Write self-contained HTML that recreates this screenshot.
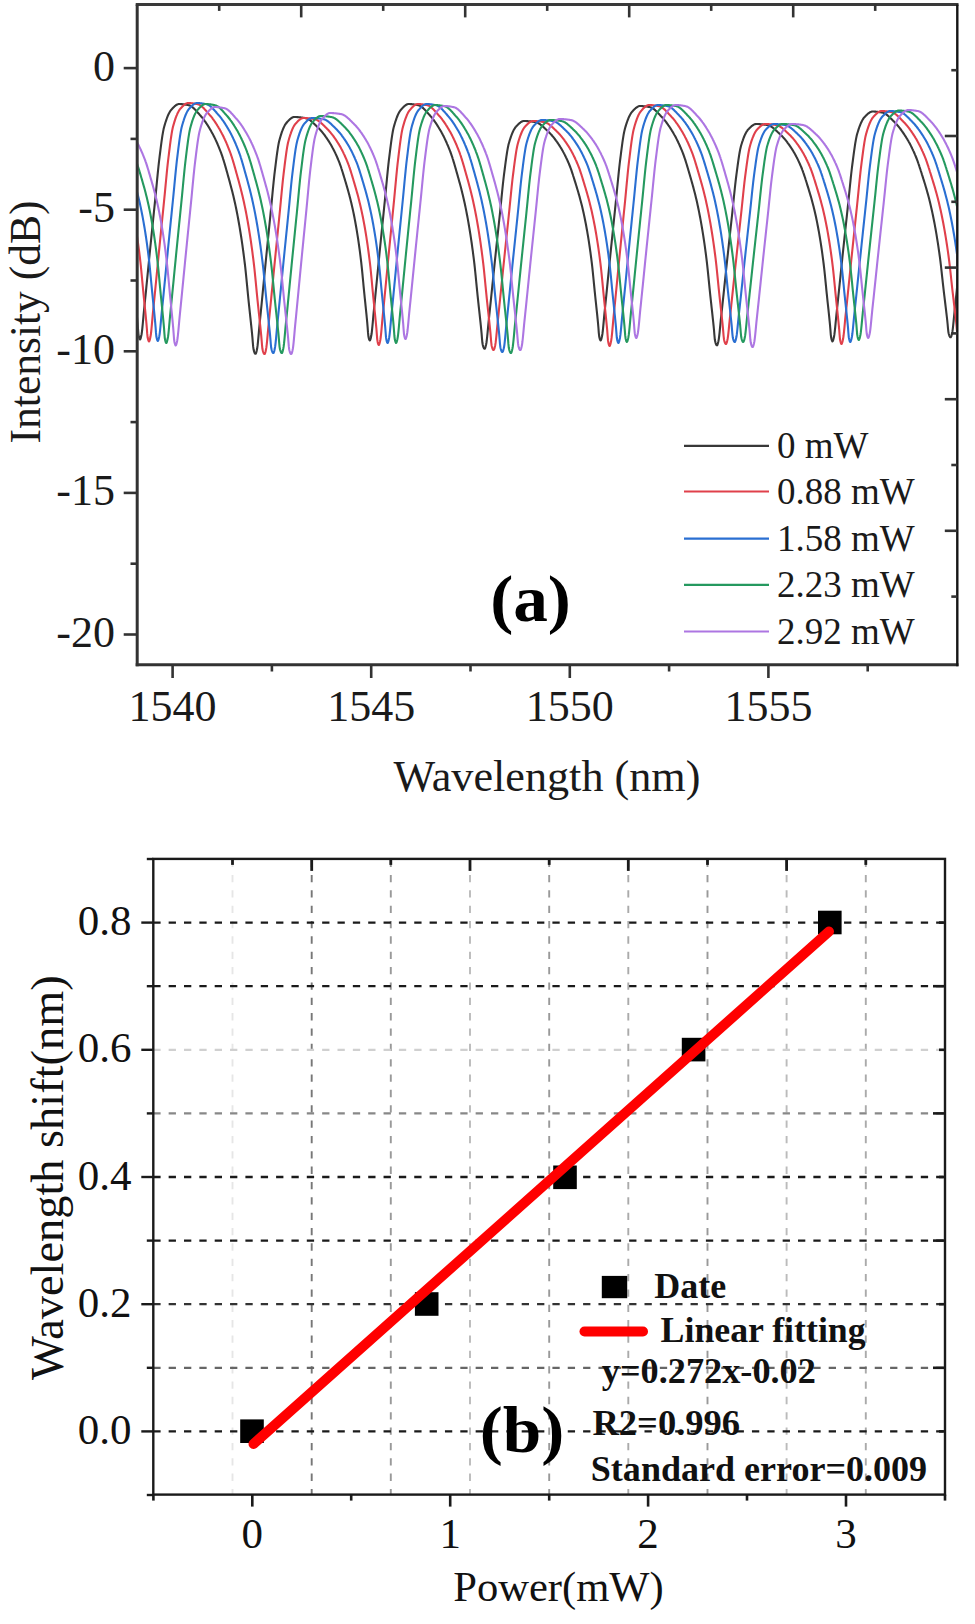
<!DOCTYPE html>
<html><head><meta charset="utf-8"><style>
html,body{margin:0;padding:0;background:#fff;}
body{width:975px;height:1624px;overflow:hidden;}
</style></head><body>
<svg width="975" height="1624" viewBox="0 0 975 1624" style="display:block">
<rect x="0" y="0" width="975" height="1624" fill="#fff"/>
<defs><clipPath id="ca"><rect x="138.2" y="4.4" width="818.1" height="660.3"/></clipPath></defs>
<g clip-path="url(#ca)" fill="none" stroke-width="2.1" stroke-linejoin="round">
<path d="M135.2 299.1 L135.6 303.0 L136.0 306.9 L136.4 310.9 L136.8 314.9 L137.2 319.1 L137.6 323.4 L138.0 328.8 L138.4 333.8 L138.8 336.3 L139.2 337.9 L139.6 339.1 L140.0 339.5 L140.4 339.0 L140.8 337.8 L141.2 336.1 L141.6 334.2 L142.0 331.3 L142.4 327.7 L142.8 323.5 L143.2 319.1 L143.6 314.7 L144.0 310.5 L144.4 306.6 L144.8 302.7 L145.2 298.7 L145.6 294.8 L146.0 290.8 L146.4 286.7 L146.8 282.7 L147.2 278.7 L147.6 274.6 L148.0 270.6 L148.4 266.6 L148.8 262.5 L149.2 258.5 L149.6 254.5 L150.0 250.5 L150.4 246.5 L150.8 242.6 L151.2 238.6 L151.6 234.7 L152.0 230.8 L152.4 226.9 L152.8 223.0 L153.2 219.0 L153.6 215.1 L154.0 211.2 L154.4 207.3 L154.8 203.4 L155.2 199.5 L155.6 195.5 L156.0 191.4 L156.4 187.3 L156.8 183.1 L157.2 178.9 L157.6 174.8 L158.0 170.9 L158.4 167.0 L158.8 163.4 L159.2 160.0 L159.6 156.7 L160.0 153.5 L160.4 150.3 L160.8 147.2 L161.2 144.1 L161.6 141.2 L162.0 138.4 L162.4 135.7 L162.8 133.3 L163.2 131.1 L163.6 129.1 L164.0 127.5 L164.4 126.0 L164.8 124.6 L165.2 123.3 L165.6 122.0 L166.0 120.8 L166.4 119.6 L166.8 118.5 L167.2 117.4 L167.6 116.4 L168.0 115.4 L168.4 114.5 L168.8 113.7 L169.2 112.9 L169.6 112.2 L170.0 111.5 L170.4 110.9 L170.8 110.4 L171.2 109.9 L171.6 109.4 L172.0 109.0 L172.4 108.6 L172.8 108.1 L173.2 107.7 L173.6 107.3 L174.0 106.9 L174.4 106.5 L174.8 106.2 L175.2 105.8 L175.6 105.5 L176.0 105.2 L176.4 105.0 L176.8 104.7 L177.2 104.5 L177.6 104.4 L178.0 104.2 L178.4 104.1 L178.8 104.0 L179.2 104.0 L179.6 104.0 L180.0 104.0 L180.4 104.0 L180.8 104.1 L181.2 104.1 L181.6 104.1 L182.0 104.1 L182.4 104.2 L182.8 104.2 L183.2 104.3 L183.6 104.3 L184.0 104.4 L184.4 104.4 L184.8 104.5 L185.2 104.6 L185.6 104.6 L186.0 104.7 L186.4 104.8 L186.8 104.8 L187.2 104.9 L187.6 105.0 L188.0 105.1 L188.4 105.2 L188.8 105.2 L189.2 105.3 L189.6 105.5 L190.0 105.6 L190.4 105.8 L190.8 106.0 L191.2 106.3 L191.6 106.5 L192.0 106.8 L192.4 107.1 L192.8 107.4 L193.2 107.8 L193.6 108.1 L194.0 108.5 L194.4 108.9 L194.8 109.3 L195.2 109.7 L195.6 110.1 L196.0 110.6 L196.4 111.0 L196.8 111.4 L197.2 111.9 L197.6 112.3 L198.0 112.8 L198.4 113.3 L198.8 113.7 L199.2 114.2 L199.6 114.7 L200.0 115.1 L200.4 115.6 L200.8 116.0 L201.2 116.5 L201.6 116.9 L202.0 117.4 L202.4 117.9 L202.8 118.4 L203.2 118.9 L203.6 119.4 L204.0 120.0 L204.4 120.5 L204.8 121.1 L205.2 121.6 L205.6 122.2 L206.0 122.8 L206.4 123.4 L206.8 124.0 L207.2 124.6 L207.6 125.2 L208.0 125.9 L208.4 126.5 L208.8 127.2 L209.2 127.8 L209.6 128.5 L210.0 129.2 L210.4 129.9 L210.8 130.5 L211.2 131.2 L211.6 132.0 L212.0 132.7 L212.4 133.4 L212.8 134.1 L213.2 134.9 L213.6 135.7 L214.0 136.5 L214.4 137.3 L214.8 138.1 L215.2 138.9 L215.6 139.8 L216.0 140.6 L216.4 141.5 L216.8 142.4 L217.2 143.3 L217.6 144.2 L218.0 145.2 L218.4 146.1 L218.8 147.1 L219.2 148.1 L219.6 149.1 L220.0 150.1 L220.4 151.1 L220.8 152.1 L221.2 153.2 L221.6 154.3 L222.0 155.4 L222.4 156.6 L222.8 157.8 L223.2 159.1 L223.6 160.3 L224.0 161.7 L224.4 163.0 L224.8 164.4 L225.2 165.7 L225.6 167.1 L226.0 168.5 L226.4 170.0 L226.8 171.4 L227.2 172.8 L227.6 174.3 L228.0 175.7 L228.4 177.1 L228.8 178.5 L229.2 180.0 L229.6 181.4 L230.0 182.9 L230.4 184.4 L230.8 185.9 L231.2 187.4 L231.6 188.9 L232.0 190.5 L232.4 192.1 L232.8 193.7 L233.2 195.3 L233.6 197.0 L234.0 198.7 L234.4 200.4 L234.8 202.2 L235.2 204.0 L235.6 205.9 L236.0 207.8 L236.4 209.8 L236.8 211.8 L237.2 213.8 L237.6 215.9 L238.0 218.0 L238.4 220.2 L238.8 222.5 L239.2 224.8 L239.6 227.1 L240.0 229.5 L240.4 232.0 L240.8 234.5 L241.2 237.0 L241.6 239.7 L242.0 242.4 L242.4 245.2 L242.8 248.1 L243.2 251.0 L243.6 254.0 L244.0 257.1 L244.4 260.3 L244.8 263.5 L245.2 266.9 L245.6 270.6 L246.0 274.5 L246.4 278.5 L246.8 282.6 L247.2 286.7 L247.6 290.9 L248.0 295.0 L248.4 299.0 L248.8 302.8 L249.2 306.6 L249.6 310.4 L250.0 314.1 L250.4 317.9 L250.8 321.6 L251.2 325.4 L251.6 329.2 L252.0 333.2 L252.4 337.3 L252.8 342.3 L253.2 346.9 L253.6 349.6 L254.0 351.2 L254.4 352.4 L254.8 353.3 L255.2 353.7 L255.6 353.8 L256.0 353.3 L256.4 352.0 L256.8 350.3 L257.2 348.3 L257.6 345.4 L258.0 341.6 L258.4 337.4 L258.8 332.8 L259.2 328.4 L259.6 324.2 L260.0 320.2 L260.4 316.2 L260.8 312.2 L261.2 308.1 L261.6 304.1 L262.0 300.0 L262.4 295.9 L262.8 291.7 L263.2 287.6 L263.6 283.5 L264.0 279.4 L264.4 275.3 L264.8 271.2 L265.2 267.1 L265.6 263.1 L266.0 259.0 L266.4 255.0 L266.8 251.0 L267.2 247.0 L267.6 243.0 L268.0 239.0 L268.4 235.1 L268.8 231.1 L269.2 227.1 L269.6 223.1 L270.0 219.2 L270.4 215.2 L270.8 211.2 L271.2 207.1 L271.6 202.9 L272.0 198.6 L272.4 194.4 L272.8 190.2 L273.2 186.1 L273.6 182.1 L274.0 178.3 L274.4 174.7 L274.8 171.4 L275.2 168.1 L275.6 164.8 L276.0 161.6 L276.4 158.5 L276.8 155.4 L277.2 152.5 L277.6 149.8 L278.0 147.2 L278.4 144.9 L278.8 142.8 L279.2 141.0 L279.6 139.5 L280.0 138.1 L280.4 136.7 L280.8 135.4 L281.2 134.1 L281.6 132.9 L282.0 131.7 L282.4 130.7 L282.8 129.6 L283.2 128.6 L283.6 127.7 L284.0 126.9 L284.4 126.1 L284.8 125.3 L285.2 124.6 L285.6 124.0 L286.0 123.5 L286.4 123.0 L286.8 122.5 L287.2 122.0 L287.6 121.6 L288.0 121.2 L288.4 120.7 L288.8 120.3 L289.2 119.9 L289.6 119.5 L290.0 119.2 L290.4 118.8 L290.8 118.5 L291.2 118.2 L291.6 118.0 L292.0 117.7 L292.4 117.5 L292.8 117.3 L293.2 117.2 L293.6 117.1 L294.0 117.0 L294.4 117.0 L294.8 117.0 L295.2 117.0 L295.6 117.0 L296.0 117.0 L296.4 117.0 L296.8 117.1 L297.2 117.1 L297.6 117.1 L298.0 117.1 L298.4 117.2 L298.8 117.2 L299.2 117.2 L299.6 117.3 L300.0 117.3 L300.4 117.4 L300.8 117.4 L301.2 117.5 L301.6 117.5 L302.0 117.6 L302.4 117.6 L302.8 117.7 L303.2 117.7 L303.6 117.8 L304.0 117.9 L304.4 117.9 L304.8 118.0 L305.2 118.1 L305.6 118.1 L306.0 118.2 L306.4 118.3 L306.8 118.5 L307.2 118.6 L307.6 118.8 L308.0 119.0 L308.4 119.2 L308.8 119.4 L309.2 119.7 L309.6 119.9 L310.0 120.2 L310.4 120.5 L310.8 120.8 L311.2 121.1 L311.6 121.5 L312.0 121.8 L312.4 122.2 L312.8 122.5 L313.2 122.9 L313.6 123.3 L314.0 123.6 L314.4 124.0 L314.8 124.4 L315.2 124.8 L315.6 125.2 L316.0 125.6 L316.4 126.0 L316.8 126.4 L317.2 126.8 L317.6 127.2 L318.0 127.6 L318.4 127.9 L318.8 128.3 L319.2 128.7 L319.6 129.2 L320.0 129.6 L320.4 130.0 L320.8 130.5 L321.2 130.9 L321.6 131.4 L322.0 131.9 L322.4 132.4 L322.8 132.9 L323.2 133.4 L323.6 133.9 L324.0 134.4 L324.4 134.9 L324.8 135.5 L325.2 136.0 L325.6 136.6 L326.0 137.1 L326.4 137.7 L326.8 138.3 L327.2 138.9 L327.6 139.5 L328.0 140.1 L328.4 140.7 L328.8 141.3 L329.2 141.9 L329.6 142.6 L330.0 143.2 L330.4 143.9 L330.8 144.6 L331.2 145.3 L331.6 146.0 L332.0 146.7 L332.4 147.4 L332.8 148.2 L333.2 148.9 L333.6 149.7 L334.0 150.5 L334.4 151.3 L334.8 152.1 L335.2 152.9 L335.6 153.8 L336.0 154.6 L336.4 155.5 L336.8 156.4 L337.2 157.3 L337.6 158.3 L338.0 159.2 L338.4 160.2 L338.8 161.1 L339.2 162.1 L339.6 163.2 L340.0 164.3 L340.4 165.4 L340.8 166.5 L341.2 167.7 L341.6 169.0 L342.0 170.2 L342.4 171.5 L342.8 172.8 L343.2 174.1 L343.6 175.4 L344.0 176.7 L344.4 178.0 L344.8 179.4 L345.2 180.7 L345.6 182.0 L346.0 183.4 L346.4 184.7 L346.8 186.1 L347.2 187.5 L347.6 188.9 L348.0 190.3 L348.4 191.7 L348.8 193.2 L349.2 194.6 L349.6 196.2 L350.0 197.7 L350.4 199.3 L350.8 200.9 L351.2 202.5 L351.6 204.2 L352.0 205.9 L352.4 207.7 L352.8 209.5 L353.2 211.4 L353.6 213.3 L354.0 215.3 L354.4 217.3 L354.8 219.4 L355.2 221.5 L355.6 223.7 L356.0 226.0 L356.4 228.3 L356.8 230.7 L357.2 233.1 L357.6 235.6 L358.0 238.2 L358.4 240.9 L358.8 243.6 L359.2 246.5 L359.6 249.4 L360.0 252.4 L360.4 255.6 L360.8 258.8 L361.2 262.1 L361.6 265.8 L362.0 269.6 L362.4 273.7 L362.8 277.8 L363.2 282.0 L363.6 286.3 L364.0 290.4 L364.4 294.4 L364.8 298.3 L365.2 302.2 L365.6 306.1 L366.0 310.0 L366.4 313.9 L366.8 318.0 L367.2 322.2 L367.6 326.8 L368.0 332.4 L368.4 336.3 L368.8 338.2 L369.2 339.6 L369.6 340.4 L370.0 340.4 L370.4 339.4 L370.8 337.9 L371.2 336.1 L371.6 333.8 L372.0 330.4 L372.4 326.4 L372.8 322.1 L373.2 317.5 L373.6 313.2 L374.0 309.2 L374.4 305.2 L374.8 301.3 L375.2 297.2 L375.6 293.2 L376.0 289.2 L376.4 285.1 L376.8 281.0 L377.2 276.9 L377.6 272.8 L378.0 268.8 L378.4 264.7 L378.8 260.6 L379.2 256.6 L379.6 252.5 L380.0 248.5 L380.4 244.5 L380.8 240.5 L381.2 236.5 L381.6 232.6 L382.0 228.6 L382.4 224.7 L382.8 220.7 L383.2 216.8 L383.6 212.8 L384.0 208.9 L384.4 204.9 L384.8 201.0 L385.2 197.0 L385.6 192.9 L386.0 188.7 L386.4 184.5 L386.8 180.3 L387.2 176.1 L387.6 172.1 L388.0 168.1 L388.4 164.4 L388.8 160.9 L389.2 157.6 L389.6 154.4 L390.0 151.1 L390.4 148.0 L390.8 144.8 L391.2 141.8 L391.6 139.0 L392.0 136.3 L392.4 133.8 L392.8 131.5 L393.2 129.5 L393.6 127.8 L394.0 126.3 L394.4 124.9 L394.8 123.5 L395.2 122.2 L395.6 121.0 L396.0 119.8 L396.4 118.6 L396.8 117.5 L397.2 116.5 L397.6 115.5 L398.0 114.6 L398.4 113.8 L398.8 113.0 L399.2 112.3 L399.6 111.6 L400.0 111.0 L400.4 110.4 L400.8 109.9 L401.2 109.5 L401.6 109.0 L402.0 108.6 L402.4 108.2 L402.8 107.7 L403.2 107.3 L403.6 106.9 L404.0 106.5 L404.4 106.2 L404.8 105.8 L405.2 105.5 L405.6 105.2 L406.0 105.0 L406.4 104.7 L406.8 104.5 L407.2 104.3 L407.6 104.2 L408.0 104.1 L408.4 104.0 L408.8 104.0 L409.2 104.0 L409.6 104.0 L410.0 104.0 L410.4 104.1 L410.8 104.1 L411.2 104.1 L411.6 104.1 L412.0 104.2 L412.4 104.2 L412.8 104.3 L413.2 104.3 L413.6 104.4 L414.0 104.4 L414.4 104.5 L414.8 104.6 L415.2 104.6 L415.6 104.7 L416.0 104.8 L416.4 104.8 L416.8 104.9 L417.2 105.0 L417.6 105.1 L418.0 105.2 L418.4 105.2 L418.8 105.3 L419.2 105.5 L419.6 105.6 L420.0 105.8 L420.4 106.1 L420.8 106.3 L421.2 106.6 L421.6 106.8 L422.0 107.1 L422.4 107.5 L422.8 107.8 L423.2 108.2 L423.6 108.5 L424.0 108.9 L424.4 109.3 L424.8 109.7 L425.2 110.2 L425.6 110.6 L426.0 111.0 L426.4 111.5 L426.8 111.9 L427.2 112.4 L427.6 112.8 L428.0 113.3 L428.4 113.7 L428.8 114.2 L429.2 114.6 L429.6 115.1 L430.0 115.5 L430.4 116.0 L430.8 116.4 L431.2 116.9 L431.6 117.4 L432.0 117.9 L432.4 118.4 L432.8 118.9 L433.2 119.4 L433.6 119.9 L434.0 120.5 L434.4 121.0 L434.8 121.6 L435.2 122.2 L435.6 122.7 L436.0 123.3 L436.4 123.9 L436.8 124.5 L437.2 125.2 L437.6 125.8 L438.0 126.4 L438.4 127.1 L438.8 127.7 L439.2 128.4 L439.6 129.1 L440.0 129.7 L440.4 130.4 L440.8 131.1 L441.2 131.8 L441.6 132.5 L442.0 133.3 L442.4 134.0 L442.8 134.8 L443.2 135.5 L443.6 136.3 L444.0 137.1 L444.4 137.9 L444.8 138.8 L445.2 139.6 L445.6 140.5 L446.0 141.3 L446.4 142.2 L446.8 143.1 L447.2 144.1 L447.6 145.0 L448.0 145.9 L448.4 146.9 L448.8 147.9 L449.2 148.9 L449.6 149.9 L450.0 150.9 L450.4 152.0 L450.8 153.0 L451.2 154.1 L451.6 155.3 L452.0 156.5 L452.4 157.7 L452.8 159.0 L453.2 160.2 L453.6 161.6 L454.0 162.9 L454.4 164.3 L454.8 165.6 L455.2 167.0 L455.6 168.4 L456.0 169.8 L456.4 171.2 L456.8 172.6 L457.2 174.0 L457.6 175.4 L458.0 176.9 L458.4 178.3 L458.8 179.7 L459.2 181.2 L459.6 182.6 L460.0 184.1 L460.4 185.6 L460.8 187.1 L461.2 188.6 L461.6 190.2 L462.0 191.8 L462.4 193.4 L462.8 195.0 L463.2 196.7 L463.6 198.4 L464.0 200.2 L464.4 202.0 L464.8 203.8 L465.2 205.7 L465.6 207.6 L466.0 209.6 L466.4 211.6 L466.8 213.7 L467.2 215.8 L467.6 217.9 L468.0 220.1 L468.4 222.4 L468.8 224.7 L469.2 227.1 L469.6 229.5 L470.0 232.0 L470.4 234.5 L470.8 237.1 L471.2 239.8 L471.6 242.5 L472.0 245.4 L472.4 248.3 L472.8 251.2 L473.2 254.3 L473.6 257.4 L474.0 260.7 L474.4 264.0 L474.8 267.7 L475.2 271.5 L475.6 275.4 L476.0 279.5 L476.4 283.6 L476.8 287.7 L477.2 291.7 L477.6 295.6 L478.0 299.4 L478.4 303.2 L478.8 306.9 L479.2 310.5 L479.6 314.2 L480.0 317.9 L480.4 321.6 L480.8 325.4 L481.2 329.3 L481.6 333.6 L482.0 338.6 L482.4 342.8 L482.8 345.0 L483.2 346.4 L483.6 347.6 L484.0 348.4 L484.4 348.7 L484.8 348.7 L485.2 348.0 L485.6 346.6 L486.0 345.0 L486.4 343.0 L486.8 340.0 L487.2 336.4 L487.6 332.3 L488.0 328.0 L488.4 323.8 L488.8 319.8 L489.2 316.1 L489.6 312.3 L490.0 308.5 L490.4 304.6 L490.8 300.8 L491.2 296.9 L491.6 293.0 L492.0 289.1 L492.4 285.2 L492.8 281.3 L493.2 277.4 L493.6 273.5 L494.0 269.6 L494.4 265.8 L494.8 261.9 L495.2 258.1 L495.6 254.3 L496.0 250.5 L496.4 246.7 L496.8 242.9 L497.2 239.2 L497.6 235.4 L498.0 231.6 L498.4 227.9 L498.8 224.1 L499.2 220.3 L499.6 216.5 L500.0 212.8 L500.4 208.9 L500.8 204.9 L501.2 200.9 L501.6 196.9 L502.0 192.9 L502.4 189.0 L502.8 185.1 L503.2 181.5 L503.6 178.0 L504.0 174.7 L504.4 171.6 L504.8 168.5 L505.2 165.4 L505.6 162.4 L506.0 159.5 L506.4 156.6 L506.8 154.0 L507.2 151.4 L507.6 149.1 L508.0 147.0 L508.4 145.1 L508.8 143.6 L509.2 142.2 L509.6 140.8 L510.0 139.5 L510.4 138.3 L510.8 137.1 L511.2 136.0 L511.6 134.9 L512.0 133.9 L512.4 132.9 L512.8 132.0 L513.2 131.1 L513.6 130.3 L514.0 129.6 L514.4 128.9 L514.8 128.3 L515.2 127.7 L515.6 127.1 L516.0 126.7 L516.4 126.2 L516.8 125.8 L517.2 125.4 L517.6 125.0 L518.0 124.6 L518.4 124.2 L518.8 123.8 L519.2 123.4 L519.6 123.1 L520.0 122.8 L520.4 122.5 L520.8 122.2 L521.2 121.9 L521.6 121.7 L522.0 121.5 L522.4 121.3 L522.8 121.2 L523.2 121.1 L523.6 121.0 L524.0 121.0 L524.4 121.0 L524.8 121.0 L525.2 121.0 L525.6 121.0 L526.0 121.0 L526.4 121.1 L526.8 121.1 L527.2 121.1 L527.6 121.1 L528.0 121.2 L528.4 121.2 L528.8 121.2 L529.2 121.3 L529.6 121.3 L530.0 121.3 L530.4 121.4 L530.8 121.4 L531.2 121.5 L531.6 121.5 L532.0 121.6 L532.4 121.6 L532.8 121.7 L533.2 121.8 L533.6 121.8 L534.0 121.9 L534.4 121.9 L534.8 122.0 L535.2 122.1 L535.6 122.1 L536.0 122.2 L536.4 122.4 L536.8 122.5 L537.2 122.6 L537.6 122.8 L538.0 123.0 L538.4 123.2 L538.8 123.5 L539.2 123.7 L539.6 124.0 L540.0 124.2 L540.4 124.5 L540.8 124.8 L541.2 125.1 L541.6 125.4 L542.0 125.8 L542.4 126.1 L542.8 126.5 L543.2 126.8 L543.6 127.2 L544.0 127.5 L544.4 127.9 L544.8 128.3 L545.2 128.7 L545.6 129.1 L546.0 129.4 L546.4 129.8 L546.8 130.2 L547.2 130.6 L547.6 131.0 L548.0 131.3 L548.4 131.7 L548.8 132.1 L549.2 132.5 L549.6 132.9 L550.0 133.3 L550.4 133.7 L550.8 134.2 L551.2 134.6 L551.6 135.0 L552.0 135.5 L552.4 136.0 L552.8 136.4 L553.2 136.9 L553.6 137.4 L554.0 137.9 L554.4 138.4 L554.8 139.0 L555.2 139.5 L555.6 140.0 L556.0 140.6 L556.4 141.1 L556.8 141.7 L557.2 142.2 L557.6 142.8 L558.0 143.4 L558.4 144.0 L558.8 144.6 L559.2 145.2 L559.6 145.8 L560.0 146.4 L560.4 147.1 L560.8 147.7 L561.2 148.4 L561.6 149.0 L562.0 149.7 L562.4 150.4 L562.8 151.1 L563.2 151.9 L563.6 152.6 L564.0 153.4 L564.4 154.1 L564.8 154.9 L565.2 155.7 L565.6 156.5 L566.0 157.4 L566.4 158.2 L566.8 159.0 L567.2 159.9 L567.6 160.8 L568.0 161.7 L568.4 162.6 L568.8 163.5 L569.2 164.5 L569.6 165.5 L570.0 166.5 L570.4 167.5 L570.8 168.6 L571.2 169.7 L571.6 170.9 L572.0 172.1 L572.4 173.3 L572.8 174.5 L573.2 175.8 L573.6 177.0 L574.0 178.3 L574.4 179.6 L574.8 180.9 L575.2 182.2 L575.6 183.4 L576.0 184.7 L576.4 186.0 L576.8 187.4 L577.2 188.7 L577.6 190.0 L578.0 191.3 L578.4 192.7 L578.8 194.1 L579.2 195.5 L579.6 196.9 L580.0 198.4 L580.4 199.9 L580.8 201.4 L581.2 202.9 L581.6 204.5 L582.0 206.1 L582.4 207.8 L582.8 209.5 L583.2 211.2 L583.6 213.0 L584.0 214.9 L584.4 216.8 L584.8 218.7 L585.2 220.7 L585.6 222.7 L586.0 224.8 L586.4 227.0 L586.8 229.2 L587.2 231.4 L587.6 233.8 L588.0 236.2 L588.4 238.6 L588.8 241.2 L589.2 243.8 L589.6 246.5 L590.0 249.3 L590.4 252.1 L590.8 255.1 L591.2 258.2 L591.6 261.3 L592.0 264.6 L592.4 268.2 L592.8 272.0 L593.2 276.0 L593.6 280.0 L594.0 284.1 L594.4 288.2 L594.8 292.1 L595.2 296.0 L595.6 299.8 L596.0 303.5 L596.4 307.3 L596.8 311.1 L597.2 314.9 L597.6 318.9 L598.0 323.0 L598.4 327.5 L598.8 332.8 L599.2 336.5 L599.6 338.3 L600.0 339.6 L600.4 340.4 L600.8 340.4 L601.2 339.5 L601.6 338.0 L602.0 336.3 L602.4 334.0 L602.8 330.8 L603.2 326.9 L603.6 322.6 L604.0 318.2 L604.4 313.9 L604.8 310.0 L605.2 306.1 L605.6 302.2 L606.0 298.3 L606.4 294.4 L606.8 290.4 L607.2 286.4 L607.6 282.4 L608.0 278.4 L608.4 274.4 L608.8 270.4 L609.2 266.4 L609.6 262.5 L610.0 258.5 L610.4 254.5 L610.8 250.6 L611.2 246.7 L611.6 242.8 L612.0 238.9 L612.4 235.0 L612.8 231.1 L613.2 227.2 L613.6 223.4 L614.0 219.5 L614.4 215.6 L614.8 211.8 L615.2 207.9 L615.6 204.0 L616.0 200.2 L616.4 196.2 L616.8 192.1 L617.2 188.0 L617.6 183.9 L618.0 179.8 L618.4 175.8 L618.8 171.8 L619.2 168.1 L619.6 164.5 L620.0 161.2 L620.4 158.0 L620.8 154.8 L621.2 151.7 L621.6 148.6 L622.0 145.6 L622.4 142.7 L622.8 139.9 L623.2 137.3 L623.6 134.9 L624.0 132.8 L624.4 130.9 L624.8 129.3 L625.2 127.8 L625.6 126.4 L626.0 125.1 L626.4 123.8 L626.8 122.6 L627.2 121.5 L627.6 120.4 L628.0 119.3 L628.4 118.3 L628.8 117.4 L629.2 116.5 L629.6 115.7 L630.0 114.9 L630.4 114.2 L630.8 113.5 L631.2 112.9 L631.6 112.4 L632.0 111.9 L632.4 111.4 L632.8 111.0 L633.2 110.6 L633.6 110.1 L634.0 109.7 L634.4 109.3 L634.8 108.9 L635.2 108.6 L635.6 108.2 L636.0 107.9 L636.4 107.6 L636.8 107.3 L637.2 107.0 L637.6 106.8 L638.0 106.6 L638.4 106.4 L638.8 106.2 L639.2 106.1 L639.6 106.0 L640.0 106.0 L640.4 106.0 L640.8 106.0 L641.2 106.0 L641.6 106.0 L642.0 106.1 L642.4 106.1 L642.8 106.1 L643.2 106.2 L643.6 106.2 L644.0 106.2 L644.4 106.3 L644.8 106.3 L645.2 106.4 L645.6 106.4 L646.0 106.5 L646.4 106.5 L646.8 106.6 L647.2 106.7 L647.6 106.7 L648.0 106.8 L648.4 106.9 L648.8 107.0 L649.2 107.0 L649.6 107.1 L650.0 107.2 L650.4 107.3 L650.8 107.4 L651.2 107.5 L651.6 107.7 L652.0 107.9 L652.4 108.1 L652.8 108.4 L653.2 108.6 L653.6 108.9 L654.0 109.2 L654.4 109.5 L654.8 109.9 L655.2 110.2 L655.6 110.6 L656.0 110.9 L656.4 111.3 L656.8 111.7 L657.2 112.1 L657.6 112.5 L658.0 112.9 L658.4 113.4 L658.8 113.8 L659.2 114.2 L659.6 114.7 L660.0 115.1 L660.4 115.5 L660.8 116.0 L661.2 116.4 L661.6 116.8 L662.0 117.2 L662.4 117.7 L662.8 118.1 L663.2 118.5 L663.6 119.0 L664.0 119.5 L664.4 119.9 L664.8 120.4 L665.2 120.9 L665.6 121.4 L666.0 121.9 L666.4 122.5 L666.8 123.0 L667.2 123.6 L667.6 124.1 L668.0 124.7 L668.4 125.3 L668.8 125.8 L669.2 126.4 L669.6 127.0 L670.0 127.6 L670.4 128.2 L670.8 128.9 L671.2 129.5 L671.6 130.1 L672.0 130.8 L672.4 131.4 L672.8 132.1 L673.2 132.8 L673.6 133.5 L674.0 134.1 L674.4 134.9 L674.8 135.6 L675.2 136.3 L675.6 137.1 L676.0 137.8 L676.4 138.6 L676.8 139.4 L677.2 140.2 L677.6 141.0 L678.0 141.8 L678.4 142.7 L678.8 143.5 L679.2 144.4 L679.6 145.3 L680.0 146.2 L680.4 147.1 L680.8 148.0 L681.2 149.0 L681.6 149.9 L682.0 150.9 L682.4 151.9 L682.8 152.9 L683.2 154.0 L683.6 155.0 L684.0 156.1 L684.4 157.3 L684.8 158.5 L685.2 159.7 L685.6 160.9 L686.0 162.2 L686.4 163.5 L686.8 164.8 L687.2 166.1 L687.6 167.5 L688.0 168.8 L688.4 170.2 L688.8 171.5 L689.2 172.9 L689.6 174.3 L690.0 175.6 L690.4 177.0 L690.8 178.4 L691.2 179.8 L691.6 181.2 L692.0 182.6 L692.4 184.0 L692.8 185.5 L693.2 186.9 L693.6 188.4 L694.0 189.9 L694.4 191.4 L694.8 193.0 L695.2 194.6 L695.6 196.2 L696.0 197.9 L696.4 199.6 L696.8 201.3 L697.2 203.1 L697.6 204.9 L698.0 206.8 L698.4 208.7 L698.8 210.6 L699.2 212.6 L699.6 214.7 L700.0 216.8 L700.4 218.9 L700.8 221.1 L701.2 223.4 L701.6 225.6 L702.0 228.0 L702.4 230.4 L702.8 232.9 L703.2 235.4 L703.6 238.0 L704.0 240.7 L704.4 243.4 L704.8 246.2 L705.2 249.1 L705.6 252.1 L706.0 255.2 L706.4 258.3 L706.8 261.6 L707.2 265.1 L707.6 268.8 L708.0 272.6 L708.4 276.6 L708.8 280.6 L709.2 284.6 L709.6 288.6 L710.0 292.5 L710.4 296.3 L710.8 300.0 L711.2 303.6 L711.6 307.3 L712.0 310.9 L712.4 314.6 L712.8 318.3 L713.2 322.0 L713.6 325.9 L714.0 330.0 L714.4 335.0 L714.8 339.3 L715.2 341.6 L715.6 343.1 L716.0 344.2 L716.4 345.0 L716.8 345.3 L717.2 345.2 L717.6 344.3 L718.0 342.9 L718.4 341.3 L718.8 339.1 L719.2 336.0 L719.6 332.3 L720.0 328.2 L720.4 324.0 L720.8 319.9 L721.2 316.2 L721.6 312.5 L722.0 308.8 L722.4 305.1 L722.8 301.3 L723.2 297.6 L723.6 293.8 L724.0 290.0 L724.4 286.2 L724.8 282.4 L725.2 278.6 L725.6 274.8 L726.0 271.0 L726.4 267.2 L726.8 263.4 L727.2 259.7 L727.6 256.0 L728.0 252.3 L728.4 248.6 L728.8 244.9 L729.2 241.2 L729.6 237.5 L730.0 233.8 L730.4 230.2 L730.8 226.5 L731.2 222.8 L731.6 219.1 L732.0 215.5 L732.4 211.8 L732.8 208.0 L733.2 204.1 L733.6 200.2 L734.0 196.2 L734.4 192.3 L734.8 188.5 L735.2 184.9 L735.6 181.3 L736.0 178.0 L736.4 174.9 L736.8 171.9 L737.2 168.9 L737.6 165.9 L738.0 163.0 L738.4 160.2 L738.8 157.5 L739.2 154.9 L739.6 152.5 L740.0 150.4 L740.4 148.4 L740.8 146.7 L741.2 145.3 L741.6 144.0 L742.0 142.7 L742.4 141.4 L742.8 140.3 L743.2 139.1 L743.6 138.0 L744.0 137.0 L744.4 136.0 L744.8 135.1 L745.2 134.3 L745.6 133.5 L746.0 132.7 L746.4 132.0 L746.8 131.3 L747.2 130.8 L747.6 130.2 L748.0 129.7 L748.4 129.3 L748.8 128.9 L749.2 128.5 L749.6 128.1 L750.0 127.7 L750.4 127.3 L750.8 126.9 L751.2 126.5 L751.6 126.2 L752.0 125.9 L752.4 125.6 L752.8 125.3 L753.2 125.0 L753.6 124.8 L754.0 124.6 L754.4 124.4 L754.8 124.2 L755.2 124.1 L755.6 124.1 L756.0 124.0 L756.4 124.0 L756.8 124.0 L757.2 124.0 L757.6 124.0 L758.0 124.0 L758.4 124.0 L758.8 124.1 L759.2 124.1 L759.6 124.1 L760.0 124.1 L760.4 124.2 L760.8 124.2 L761.2 124.2 L761.6 124.3 L762.0 124.3 L762.4 124.4 L762.8 124.4 L763.2 124.5 L763.6 124.5 L764.0 124.6 L764.4 124.6 L764.8 124.7 L765.2 124.7 L765.6 124.8 L766.0 124.8 L766.4 124.9 L766.8 125.0 L767.2 125.0 L767.6 125.1 L768.0 125.2 L768.4 125.3 L768.8 125.4 L769.2 125.6 L769.6 125.7 L770.0 125.9 L770.4 126.1 L770.8 126.4 L771.2 126.6 L771.6 126.9 L772.0 127.1 L772.4 127.4 L772.8 127.7 L773.2 128.0 L773.6 128.3 L774.0 128.6 L774.4 129.0 L774.8 129.3 L775.2 129.7 L775.6 130.0 L776.0 130.4 L776.4 130.8 L776.8 131.1 L777.2 131.5 L777.6 131.9 L778.0 132.3 L778.4 132.6 L778.8 133.0 L779.2 133.4 L779.6 133.8 L780.0 134.2 L780.4 134.5 L780.8 134.9 L781.2 135.3 L781.6 135.7 L782.0 136.1 L782.4 136.5 L782.8 136.9 L783.2 137.4 L783.6 137.8 L784.0 138.3 L784.4 138.7 L784.8 139.2 L785.2 139.7 L785.6 140.2 L786.0 140.7 L786.4 141.2 L786.8 141.7 L787.2 142.2 L787.6 142.8 L788.0 143.3 L788.4 143.8 L788.8 144.4 L789.2 145.0 L789.6 145.5 L790.0 146.1 L790.4 146.7 L790.8 147.3 L791.2 147.9 L791.6 148.5 L792.0 149.1 L792.4 149.7 L792.8 150.4 L793.2 151.0 L793.6 151.7 L794.0 152.4 L794.4 153.1 L794.8 153.8 L795.2 154.5 L795.6 155.2 L796.0 156.0 L796.4 156.8 L796.8 157.5 L797.2 158.3 L797.6 159.1 L798.0 159.9 L798.4 160.8 L798.8 161.6 L799.2 162.5 L799.6 163.4 L800.0 164.3 L800.4 165.2 L800.8 166.1 L801.2 167.0 L801.6 168.0 L802.0 169.0 L802.4 170.1 L802.8 171.1 L803.2 172.3 L803.6 173.4 L804.0 174.6 L804.4 175.8 L804.8 177.0 L805.2 178.2 L805.6 179.5 L806.0 180.7 L806.4 182.0 L806.8 183.3 L807.2 184.6 L807.6 185.9 L808.0 187.2 L808.4 188.4 L808.8 189.7 L809.2 191.1 L809.6 192.4 L810.0 193.7 L810.4 195.1 L810.8 196.4 L811.2 197.8 L811.6 199.3 L812.0 200.7 L812.4 202.2 L812.8 203.7 L813.2 205.2 L813.6 206.8 L814.0 208.4 L814.4 210.1 L814.8 211.8 L815.2 213.5 L815.6 215.3 L816.0 217.1 L816.4 219.0 L816.8 220.9 L817.2 222.9 L817.6 225.0 L818.0 227.0 L818.4 229.2 L818.8 231.4 L819.2 233.6 L819.6 236.0 L820.0 238.4 L820.4 240.8 L820.8 243.4 L821.2 246.0 L821.6 248.7 L822.0 251.4 L822.4 254.3 L822.8 257.3 L823.2 260.3 L823.6 263.5 L824.0 266.8 L824.4 270.4 L824.8 274.2 L825.2 278.2 L825.6 282.2 L826.0 286.2 L826.4 290.3 L826.8 294.2 L827.2 298.0 L827.6 301.8 L828.0 305.5 L828.4 309.2 L828.8 313.0 L829.2 316.8 L829.6 320.8 L830.0 324.9 L830.4 329.7 L830.8 334.8 L831.2 337.8 L831.6 339.4 L832.0 340.7 L832.4 341.3 L832.8 341.0 L833.2 340.0 L833.6 338.5 L834.0 336.8 L834.4 334.4 L834.8 331.2 L835.2 327.4 L835.6 323.2 L836.0 319.0 L836.4 314.9 L836.8 311.1 L837.2 307.3 L837.6 303.6 L838.0 299.8 L838.4 296.0 L838.8 292.2 L839.2 288.3 L839.6 284.5 L840.0 280.6 L840.4 276.8 L840.8 272.9 L841.2 269.0 L841.6 265.2 L842.0 261.4 L842.4 257.5 L842.8 253.7 L843.2 249.9 L843.6 246.2 L844.0 242.4 L844.4 238.7 L844.8 234.9 L845.2 231.2 L845.6 227.5 L846.0 223.7 L846.4 220.0 L846.8 216.3 L847.2 212.5 L847.6 208.8 L848.0 205.1 L848.4 201.3 L848.8 197.4 L849.2 193.4 L849.6 189.5 L850.0 185.5 L850.4 181.6 L850.8 177.7 L851.2 174.0 L851.6 170.5 L852.0 167.2 L852.4 164.0 L852.8 161.0 L853.2 157.9 L853.6 154.9 L854.0 151.9 L854.4 149.1 L854.8 146.3 L855.2 143.7 L855.6 141.3 L856.0 139.1 L856.4 137.1 L856.8 135.3 L857.2 133.8 L857.6 132.5 L858.0 131.2 L858.4 129.9 L858.8 128.7 L859.2 127.5 L859.6 126.4 L860.0 125.4 L860.4 124.4 L860.8 123.4 L861.2 122.5 L861.6 121.7 L862.0 120.9 L862.4 120.1 L862.8 119.4 L863.2 118.8 L863.6 118.2 L864.0 117.7 L864.4 117.3 L864.8 116.8 L865.2 116.4 L865.6 116.0 L866.0 115.6 L866.4 115.2 L866.8 114.8 L867.2 114.4 L867.6 114.0 L868.0 113.7 L868.4 113.4 L868.8 113.1 L869.2 112.8 L869.6 112.5 L870.0 112.3 L870.4 112.1 L870.8 111.9 L871.2 111.8 L871.6 111.6 L872.0 111.6 L872.4 111.5 L872.8 111.5 L873.2 111.5 L873.6 111.5 L874.0 111.5 L874.4 111.6 L874.8 111.6 L875.2 111.6 L875.6 111.6 L876.0 111.7 L876.4 111.7 L876.8 111.8 L877.2 111.8 L877.6 111.9 L878.0 111.9 L878.4 112.0 L878.8 112.0 L879.2 112.1 L879.6 112.1 L880.0 112.2 L880.4 112.3 L880.8 112.3 L881.2 112.4 L881.6 112.5 L882.0 112.5 L882.4 112.6 L882.8 112.7 L883.2 112.8 L883.6 112.9 L884.0 113.1 L884.4 113.3 L884.8 113.5 L885.2 113.7 L885.6 114.0 L886.0 114.2 L886.4 114.5 L886.8 114.8 L887.2 115.1 L887.6 115.4 L888.0 115.8 L888.4 116.1 L888.8 116.5 L889.2 116.8 L889.6 117.2 L890.0 117.6 L890.4 118.0 L890.8 118.4 L891.2 118.8 L891.6 119.2 L892.0 119.6 L892.4 120.0 L892.8 120.4 L893.2 120.8 L893.6 121.2 L894.0 121.6 L894.4 122.0 L894.8 122.4 L895.2 122.8 L895.6 123.3 L896.0 123.7 L896.4 124.1 L896.8 124.6 L897.2 125.0 L897.6 125.5 L898.0 125.9 L898.4 126.4 L898.8 126.9 L899.2 127.4 L899.6 127.9 L900.0 128.4 L900.4 129.0 L900.8 129.5 L901.2 130.0 L901.6 130.6 L902.0 131.1 L902.4 131.7 L902.8 132.3 L903.2 132.9 L903.6 133.5 L904.0 134.0 L904.4 134.6 L904.8 135.3 L905.2 135.9 L905.6 136.5 L906.0 137.1 L906.4 137.8 L906.8 138.4 L907.2 139.1 L907.6 139.8 L908.0 140.4 L908.4 141.1 L908.8 141.9 L909.2 142.6 L909.6 143.3 L910.0 144.1 L910.4 144.8 L910.8 145.6 L911.2 146.4 L911.6 147.2 L912.0 148.0 L912.4 148.9 L912.8 149.7 L913.2 150.6 L913.6 151.4 L914.0 152.3 L914.4 153.2 L914.8 154.1 L915.2 155.1 L915.6 156.0 L916.0 157.0 L916.4 158.0 L916.8 159.0 L917.2 160.1 L917.6 161.2 L918.0 162.3 L918.4 163.5 L918.8 164.6 L919.2 165.8 L919.6 167.1 L920.0 168.3 L920.4 169.5 L920.8 170.8 L921.2 172.0 L921.6 173.3 L922.0 174.6 L922.4 175.8 L922.8 177.1 L923.2 178.4 L923.6 179.6 L924.0 180.9 L924.4 182.2 L924.8 183.5 L925.2 184.8 L925.6 186.2 L926.0 187.5 L926.4 188.9 L926.8 190.3 L927.2 191.7 L927.6 193.1 L928.0 194.6 L928.4 196.1 L928.8 197.6 L929.2 199.1 L929.6 200.7 L930.0 202.3 L930.4 204.0 L930.8 205.7 L931.2 207.4 L931.6 209.2 L932.0 211.0 L932.4 212.9 L932.8 214.8 L933.2 216.7 L933.6 218.7 L934.0 220.7 L934.4 222.8 L934.8 224.9 L935.2 227.1 L935.6 229.3 L936.0 231.6 L936.4 233.9 L936.8 236.3 L937.2 238.8 L937.6 241.3 L938.0 243.9 L938.4 246.6 L938.8 249.3 L939.2 252.1 L939.6 255.0 L940.0 257.9 L940.4 261.1 L940.8 264.5 L941.2 268.0 L941.6 271.6 L942.0 275.3 L942.4 278.9 L942.8 282.6 L943.2 286.2 L943.6 289.7 L944.0 293.1 L944.4 296.4 L944.8 299.7 L945.2 303.0 L945.6 306.4 L946.0 309.7 L946.4 313.1 L946.8 316.5 L947.2 320.0 L947.6 324.0 L948.0 328.5 L948.4 332.1 L948.8 334.0 L949.2 335.3 L949.6 336.3 L950.0 337.0 L950.4 337.3 L950.8 337.3 L951.2 336.6 L951.6 335.3 L952.0 333.6 L952.4 331.7 L952.8 328.8 L953.2 325.2 L953.6 321.2 L954.0 317.0 L954.4 312.8 L954.8 308.8 L955.2 305.1 L955.6 301.4 L956.0 297.6 L956.4 293.8 L956.8 290.0 L957.2 286.2 L957.6 282.3 L958.0 278.5 L958.4 274.6 L958.8 270.8 L959.2 266.9" stroke="#383838"/>
<path d="M135.2 224.9 L135.6 227.3 L136.0 229.7 L136.4 232.2 L136.8 234.8 L137.2 237.4 L137.6 240.2 L138.0 243.0 L138.4 245.9 L138.8 248.9 L139.2 252.0 L139.6 255.2 L140.0 258.5 L140.4 262.0 L140.8 265.7 L141.2 269.7 L141.6 273.8 L142.0 278.1 L142.4 282.3 L142.8 286.6 L143.2 290.8 L143.6 294.8 L144.0 298.8 L144.4 302.7 L144.8 306.7 L145.2 310.6 L145.6 314.7 L146.0 318.8 L146.4 323.1 L146.8 327.8 L147.2 333.4 L147.6 337.3 L148.0 339.1 L148.4 340.6 L148.8 341.4 L149.2 341.4 L149.6 340.4 L150.0 338.9 L150.4 337.1 L150.8 334.8 L151.2 331.5 L151.6 327.5 L152.0 323.1 L152.4 318.6 L152.8 314.2 L153.2 310.2 L153.6 306.2 L154.0 302.2 L154.4 298.2 L154.8 294.2 L155.2 290.1 L155.6 286.0 L156.0 282.0 L156.4 277.9 L156.8 273.8 L157.2 269.7 L157.6 265.6 L158.0 261.5 L158.4 257.4 L158.8 253.4 L159.2 249.3 L159.6 245.3 L160.0 241.3 L160.4 237.4 L160.8 233.4 L161.2 229.4 L161.6 225.4 L162.0 221.5 L162.4 217.5 L162.8 213.6 L163.2 209.6 L163.6 205.7 L164.0 201.7 L164.4 197.7 L164.8 193.6 L165.2 189.4 L165.6 185.2 L166.0 181.0 L166.4 176.8 L166.8 172.7 L167.2 168.7 L167.6 164.9 L168.0 161.4 L168.4 158.0 L168.8 154.8 L169.2 151.5 L169.6 148.3 L170.0 145.2 L170.4 142.1 L170.8 139.2 L171.2 136.5 L171.6 133.9 L172.0 131.5 L172.4 129.4 L172.8 127.6 L173.2 126.0 L173.6 124.6 L174.0 123.2 L174.4 121.9 L174.8 120.6 L175.2 119.4 L175.6 118.2 L176.0 117.1 L176.4 116.0 L176.8 115.1 L177.2 114.1 L177.6 113.2 L178.0 112.4 L178.4 111.7 L178.8 111.0 L179.2 110.3 L179.6 109.7 L180.0 109.2 L180.4 108.7 L180.8 108.3 L181.2 107.8 L181.6 107.4 L182.0 107.0 L182.4 106.6 L182.8 106.1 L183.2 105.8 L183.6 105.4 L184.0 105.0 L184.4 104.7 L184.8 104.4 L185.2 104.1 L185.6 103.9 L186.0 103.6 L186.4 103.4 L186.8 103.3 L187.2 103.2 L187.6 103.1 L188.0 103.0 L188.4 103.0 L188.8 103.0 L189.2 103.0 L189.6 103.0 L190.0 103.1 L190.4 103.1 L190.8 103.1 L191.2 103.2 L191.6 103.2 L192.0 103.3 L192.4 103.3 L192.8 103.4 L193.2 103.4 L193.6 103.5 L194.0 103.5 L194.4 103.6 L194.8 103.7 L195.2 103.7 L195.6 103.8 L196.0 103.9 L196.4 104.0 L196.8 104.0 L197.2 104.1 L197.6 104.2 L198.0 104.3 L198.4 104.4 L198.8 104.6 L199.2 104.7 L199.6 104.9 L200.0 105.2 L200.4 105.4 L200.8 105.7 L201.2 106.0 L201.6 106.3 L202.0 106.6 L202.4 107.0 L202.8 107.3 L203.2 107.7 L203.6 108.1 L204.0 108.5 L204.4 108.9 L204.8 109.4 L205.2 109.8 L205.6 110.3 L206.0 110.7 L206.4 111.2 L206.8 111.6 L207.2 112.1 L207.6 112.5 L208.0 113.0 L208.4 113.5 L208.8 113.9 L209.2 114.4 L209.6 114.8 L210.0 115.3 L210.4 115.8 L210.8 116.2 L211.2 116.7 L211.6 117.2 L212.0 117.7 L212.4 118.2 L212.8 118.8 L213.2 119.3 L213.6 119.9 L214.0 120.4 L214.4 121.0 L214.8 121.6 L215.2 122.2 L215.6 122.8 L216.0 123.4 L216.4 124.0 L216.8 124.7 L217.2 125.3 L217.6 126.0 L218.0 126.6 L218.4 127.3 L218.8 128.0 L219.2 128.6 L219.6 129.3 L220.0 130.0 L220.4 130.7 L220.8 131.4 L221.2 132.2 L221.6 132.9 L222.0 133.7 L222.4 134.4 L222.8 135.2 L223.2 136.0 L223.6 136.8 L224.0 137.7 L224.4 138.5 L224.8 139.4 L225.2 140.2 L225.6 141.1 L226.0 142.0 L226.4 142.9 L226.8 143.9 L227.2 144.8 L227.6 145.8 L228.0 146.8 L228.4 147.8 L228.8 148.8 L229.2 149.8 L229.6 150.8 L230.0 151.9 L230.4 153.0 L230.8 154.1 L231.2 155.3 L231.6 156.5 L232.0 157.7 L232.4 159.0 L232.8 160.3 L233.2 161.6 L233.6 163.0 L234.0 164.3 L234.4 165.7 L234.8 167.1 L235.2 168.6 L235.6 170.0 L236.0 171.4 L236.4 172.9 L236.8 174.3 L237.2 175.7 L237.6 177.2 L238.0 178.6 L238.4 180.1 L238.8 181.5 L239.2 183.0 L239.6 184.5 L240.0 186.0 L240.4 187.6 L240.8 189.1 L241.2 190.7 L241.6 192.3 L242.0 193.9 L242.4 195.6 L242.8 197.3 L243.2 199.0 L243.6 200.8 L244.0 202.6 L244.4 204.5 L244.8 206.4 L245.2 208.3 L245.6 210.3 L246.0 212.3 L246.4 214.4 L246.8 216.5 L247.2 218.7 L247.6 220.9 L248.0 223.2 L248.4 225.5 L248.8 227.9 L249.2 230.3 L249.6 232.8 L250.0 235.4 L250.4 238.0 L250.8 240.7 L251.2 243.5 L251.6 246.3 L252.0 249.2 L252.4 252.2 L252.8 255.3 L253.2 258.4 L253.6 261.7 L254.0 265.0 L254.4 268.5 L254.8 272.3 L255.2 276.3 L255.6 280.3 L256.0 284.5 L256.4 288.7 L256.8 292.8 L257.2 296.9 L257.6 300.9 L258.0 304.7 L258.4 308.5 L258.8 312.3 L259.2 316.0 L259.6 319.8 L260.0 323.5 L260.4 327.4 L260.8 331.3 L261.2 335.3 L261.6 339.9 L262.0 344.9 L262.4 348.8 L262.8 350.6 L263.2 352.0 L263.6 353.1 L264.0 353.8 L264.4 354.0 L264.8 353.9 L265.2 352.9 L265.6 351.4 L266.0 349.6 L266.4 347.2 L266.8 343.8 L267.2 339.8 L267.6 335.4 L268.0 330.9 L268.4 326.5 L268.8 322.5 L269.2 318.5 L269.6 314.5 L270.0 310.5 L270.4 306.5 L270.8 302.4 L271.2 298.3 L271.6 294.2 L272.0 290.1 L272.4 286.0 L272.8 281.9 L273.2 277.8 L273.6 273.7 L274.0 269.6 L274.4 265.6 L274.8 261.6 L275.2 257.6 L275.6 253.6 L276.0 249.6 L276.4 245.6 L276.8 241.6 L277.2 237.7 L277.6 233.7 L278.0 229.7 L278.4 225.8 L278.8 221.8 L279.2 217.8 L279.6 213.8 L280.0 209.8 L280.4 205.7 L280.8 201.5 L281.2 197.2 L281.6 193.0 L282.0 188.9 L282.4 184.8 L282.8 180.9 L283.2 177.3 L283.6 173.8 L284.0 170.5 L284.4 167.3 L284.8 164.0 L285.2 160.9 L285.6 157.8 L286.0 154.8 L286.4 152.0 L286.8 149.4 L287.2 146.9 L287.6 144.7 L288.0 142.8 L288.4 141.2 L288.8 139.7 L289.2 138.3 L289.6 137.0 L290.0 135.7 L290.4 134.4 L290.8 133.3 L291.2 132.1 L291.6 131.1 L292.0 130.1 L292.4 129.1 L292.8 128.2 L293.2 127.4 L293.6 126.6 L294.0 125.9 L294.4 125.3 L294.8 124.7 L295.2 124.2 L295.6 123.7 L296.0 123.3 L296.4 122.8 L296.8 122.4 L297.2 121.9 L297.6 121.5 L298.0 121.1 L298.4 120.7 L298.8 120.3 L299.2 120.0 L299.6 119.7 L300.0 119.4 L300.4 119.1 L300.8 118.8 L301.2 118.6 L301.6 118.4 L302.0 118.3 L302.4 118.1 L302.8 118.1 L303.2 118.0 L303.6 118.0 L304.0 118.0 L304.4 118.0 L304.8 118.0 L305.2 118.0 L305.6 118.1 L306.0 118.1 L306.4 118.1 L306.8 118.1 L307.2 118.2 L307.6 118.2 L308.0 118.2 L308.4 118.3 L308.8 118.3 L309.2 118.3 L309.6 118.4 L310.0 118.4 L310.4 118.5 L310.8 118.5 L311.2 118.6 L311.6 118.7 L312.0 118.7 L312.4 118.8 L312.8 118.8 L313.2 118.9 L313.6 119.0 L314.0 119.0 L314.4 119.1 L314.8 119.2 L315.2 119.3 L315.6 119.4 L316.0 119.6 L316.4 119.7 L316.8 119.9 L317.2 120.1 L317.6 120.4 L318.0 120.6 L318.4 120.9 L318.8 121.1 L319.2 121.4 L319.6 121.7 L320.0 122.0 L320.4 122.4 L320.8 122.7 L321.2 123.1 L321.6 123.4 L322.0 123.8 L322.4 124.2 L322.8 124.5 L323.2 124.9 L323.6 125.3 L324.0 125.7 L324.4 126.1 L324.8 126.5 L325.2 126.9 L325.6 127.3 L326.0 127.7 L326.4 128.1 L326.8 128.5 L327.2 128.9 L327.6 129.3 L328.0 129.7 L328.4 130.1 L328.8 130.6 L329.2 131.0 L329.6 131.5 L330.0 131.9 L330.4 132.4 L330.8 132.9 L331.2 133.3 L331.6 133.8 L332.0 134.4 L332.4 134.9 L332.8 135.4 L333.2 135.9 L333.6 136.5 L334.0 137.0 L334.4 137.6 L334.8 138.2 L335.2 138.7 L335.6 139.3 L336.0 139.9 L336.4 140.5 L336.8 141.1 L337.2 141.8 L337.6 142.4 L338.0 143.0 L338.4 143.7 L338.8 144.3 L339.2 145.0 L339.6 145.7 L340.0 146.3 L340.4 147.1 L340.8 147.8 L341.2 148.5 L341.6 149.3 L342.0 150.0 L342.4 150.8 L342.8 151.6 L343.2 152.4 L343.6 153.2 L344.0 154.1 L344.4 154.9 L344.8 155.8 L345.2 156.7 L345.6 157.6 L346.0 158.5 L346.4 159.4 L346.8 160.4 L347.2 161.3 L347.6 162.3 L348.0 163.3 L348.4 164.4 L348.8 165.4 L349.2 166.6 L349.6 167.7 L350.0 168.9 L350.4 170.1 L350.8 171.4 L351.2 172.7 L351.6 174.0 L352.0 175.3 L352.4 176.6 L352.8 178.0 L353.2 179.3 L353.6 180.7 L354.0 182.0 L354.4 183.4 L354.8 184.7 L355.2 186.1 L355.6 187.5 L356.0 188.9 L356.4 190.3 L356.8 191.7 L357.2 193.1 L357.6 194.6 L358.0 196.1 L358.4 197.6 L358.8 199.2 L359.2 200.8 L359.6 202.4 L360.0 204.0 L360.4 205.7 L360.8 207.4 L361.2 209.2 L361.6 211.1 L362.0 212.9 L362.4 214.9 L362.8 216.8 L363.2 218.9 L363.6 221.0 L364.0 223.1 L364.4 225.3 L364.8 227.5 L365.2 229.9 L365.6 232.2 L366.0 234.7 L366.4 237.2 L366.8 239.8 L367.2 242.5 L367.6 245.2 L368.0 248.1 L368.4 251.0 L368.8 254.0 L369.2 257.1 L369.6 260.4 L370.0 263.7 L370.4 267.2 L370.8 271.0 L371.2 275.1 L371.6 279.2 L372.0 283.5 L372.4 287.8 L372.8 292.0 L373.2 296.2 L373.6 300.2 L374.0 304.1 L374.4 308.1 L374.8 312.0 L375.2 316.0 L375.6 320.1 L376.0 324.3 L376.4 328.6 L376.8 333.9 L377.2 339.1 L377.6 341.7 L378.0 343.4 L378.4 344.6 L378.8 345.0 L379.2 344.5 L379.6 343.2 L380.0 341.5 L380.4 339.5 L380.8 336.5 L381.2 332.8 L381.6 328.5 L382.0 323.9 L382.4 319.4 L382.8 315.1 L383.2 311.1 L383.6 307.0 L384.0 303.0 L384.4 298.9 L384.8 294.7 L385.2 290.6 L385.6 286.5 L386.0 282.3 L386.4 278.1 L386.8 274.0 L387.2 269.8 L387.6 265.7 L388.0 261.5 L388.4 257.4 L388.8 253.3 L389.2 249.2 L389.6 245.1 L390.0 241.1 L390.4 237.0 L390.8 233.0 L391.2 229.0 L391.6 225.0 L392.0 220.9 L392.4 216.9 L392.8 212.9 L393.2 208.9 L393.6 204.8 L394.0 200.8 L394.4 196.7 L394.8 192.4 L395.2 188.2 L395.6 183.9 L396.0 179.6 L396.4 175.4 L396.8 171.3 L397.2 167.4 L397.6 163.7 L398.0 160.3 L398.4 157.0 L398.8 153.7 L399.2 150.4 L399.6 147.2 L400.0 144.1 L400.4 141.1 L400.8 138.3 L401.2 135.6 L401.6 133.2 L402.0 131.0 L402.4 129.1 L402.8 127.5 L403.2 126.0 L403.6 124.6 L404.0 123.2 L404.4 121.9 L404.8 120.7 L405.2 119.5 L405.6 118.3 L406.0 117.3 L406.4 116.3 L406.8 115.3 L407.2 114.4 L407.6 113.6 L408.0 112.8 L408.4 112.1 L408.8 111.4 L409.2 110.8 L409.6 110.3 L410.0 109.8 L410.4 109.4 L410.8 108.9 L411.2 108.5 L411.6 108.0 L412.0 107.6 L412.4 107.2 L412.8 106.8 L413.2 106.4 L413.6 106.0 L414.0 105.7 L414.4 105.4 L414.8 105.1 L415.2 104.9 L415.6 104.6 L416.0 104.4 L416.4 104.3 L416.8 104.1 L417.2 104.1 L417.6 104.0 L418.0 104.0 L418.4 104.0 L418.8 104.0 L419.2 104.0 L419.6 104.1 L420.0 104.1 L420.4 104.1 L420.8 104.2 L421.2 104.2 L421.6 104.3 L422.0 104.3 L422.4 104.4 L422.8 104.4 L423.2 104.5 L423.6 104.5 L424.0 104.6 L424.4 104.7 L424.8 104.7 L425.2 104.8 L425.6 104.9 L426.0 105.0 L426.4 105.0 L426.8 105.1 L427.2 105.2 L427.6 105.3 L428.0 105.4 L428.4 105.6 L428.8 105.7 L429.2 105.9 L429.6 106.2 L430.0 106.4 L430.4 106.7 L430.8 107.0 L431.2 107.3 L431.6 107.7 L432.0 108.0 L432.4 108.4 L432.8 108.8 L433.2 109.2 L433.6 109.6 L434.0 110.0 L434.4 110.4 L434.8 110.8 L435.2 111.3 L435.6 111.7 L436.0 112.2 L436.4 112.6 L436.8 113.1 L437.2 113.6 L437.6 114.0 L438.0 114.5 L438.4 114.9 L438.8 115.4 L439.2 115.8 L439.6 116.3 L440.0 116.7 L440.4 117.2 L440.8 117.7 L441.2 118.2 L441.6 118.7 L442.0 119.2 L442.4 119.7 L442.8 120.3 L443.2 120.8 L443.6 121.4 L444.0 122.0 L444.4 122.5 L444.8 123.1 L445.2 123.7 L445.6 124.3 L446.0 125.0 L446.4 125.6 L446.8 126.2 L447.2 126.9 L447.6 127.5 L448.0 128.2 L448.4 128.9 L448.8 129.5 L449.2 130.2 L449.6 130.9 L450.0 131.6 L450.4 132.3 L450.8 133.1 L451.2 133.8 L451.6 134.5 L452.0 135.3 L452.4 136.1 L452.8 136.9 L453.2 137.7 L453.6 138.5 L454.0 139.4 L454.4 140.2 L454.8 141.1 L455.2 142.0 L455.6 142.9 L456.0 143.8 L456.4 144.7 L456.8 145.7 L457.2 146.7 L457.6 147.6 L458.0 148.6 L458.4 149.6 L458.8 150.7 L459.2 151.7 L459.6 152.7 L460.0 153.8 L460.4 155.0 L460.8 156.1 L461.2 157.4 L461.6 158.6 L462.0 159.9 L462.4 161.2 L462.8 162.5 L463.2 163.9 L463.6 165.3 L464.0 166.6 L464.4 168.1 L464.8 169.5 L465.2 170.9 L465.6 172.3 L466.0 173.7 L466.4 175.1 L466.8 176.5 L467.2 178.0 L467.6 179.4 L468.0 180.8 L468.4 182.3 L468.8 183.8 L469.2 185.3 L469.6 186.8 L470.0 188.3 L470.4 189.8 L470.8 191.4 L471.2 193.0 L471.6 194.7 L472.0 196.3 L472.4 198.1 L472.8 199.8 L473.2 201.6 L473.6 203.4 L474.0 205.3 L474.4 207.2 L474.8 209.1 L475.2 211.1 L475.6 213.2 L476.0 215.3 L476.4 217.4 L476.8 219.6 L477.2 221.9 L477.6 224.2 L478.0 226.5 L478.4 228.9 L478.8 231.4 L479.2 233.9 L479.6 236.5 L480.0 239.2 L480.4 241.9 L480.8 244.7 L481.2 247.6 L481.6 250.5 L482.0 253.6 L482.4 256.7 L482.8 259.9 L483.2 263.2 L483.6 266.7 L484.0 270.4 L484.4 274.4 L484.8 278.4 L485.2 282.5 L485.6 286.6 L486.0 290.7 L486.4 294.7 L486.8 298.6 L487.2 302.4 L487.6 306.1 L488.0 309.8 L488.4 313.5 L488.8 317.2 L489.2 320.9 L489.6 324.7 L490.0 328.6 L490.4 332.5 L490.8 337.3 L491.2 342.1 L491.6 345.4 L492.0 347.0 L492.4 348.4 L492.8 349.3 L493.2 349.9 L493.6 350.0 L494.0 349.7 L494.4 348.7 L494.8 347.1 L495.2 345.4 L495.6 342.9 L496.0 339.5 L496.4 335.6 L496.8 331.3 L497.2 327.0 L497.6 322.9 L498.0 319.1 L498.4 315.3 L498.8 311.5 L499.2 307.6 L499.6 303.7 L500.0 299.8 L500.4 295.9 L500.8 292.0 L501.2 288.1 L501.6 284.2 L502.0 280.3 L502.4 276.3 L502.8 272.4 L503.2 268.5 L503.6 264.7 L504.0 260.8 L504.4 257.0 L504.8 253.1 L505.2 249.3 L505.6 245.5 L506.0 241.7 L506.4 237.9 L506.8 234.1 L507.2 230.4 L507.6 226.6 L508.0 222.8 L508.4 219.0 L508.8 215.2 L509.2 211.4 L509.6 207.4 L510.0 203.4 L510.4 199.4 L510.8 195.3 L511.2 191.3 L511.6 187.4 L512.0 183.6 L512.4 180.0 L512.8 176.6 L513.2 173.5 L513.6 170.3 L514.0 167.2 L514.4 164.2 L514.8 161.2 L515.2 158.3 L515.6 155.5 L516.0 152.9 L516.4 150.4 L516.8 148.2 L517.2 146.2 L517.6 144.5 L518.0 143.0 L518.4 141.6 L518.8 140.3 L519.2 139.0 L519.6 137.8 L520.0 136.6 L520.4 135.5 L520.8 134.5 L521.2 133.5 L521.6 132.5 L522.0 131.6 L522.4 130.8 L522.8 130.0 L523.2 129.3 L523.6 128.6 L524.0 128.0 L524.4 127.4 L524.8 126.9 L525.2 126.5 L525.6 126.1 L526.0 125.6 L526.4 125.2 L526.8 124.8 L527.2 124.4 L527.6 124.0 L528.0 123.6 L528.4 123.3 L528.8 122.9 L529.2 122.6 L529.6 122.3 L530.0 122.1 L530.4 121.8 L530.8 121.6 L531.2 121.4 L531.6 121.3 L532.0 121.1 L532.4 121.1 L532.8 121.0 L533.2 121.0 L533.6 121.0 L534.0 121.0 L534.4 121.0 L534.8 121.0 L535.2 121.0 L535.6 121.1 L536.0 121.1 L536.4 121.1 L536.8 121.1 L537.2 121.2 L537.6 121.2 L538.0 121.2 L538.4 121.3 L538.8 121.3 L539.2 121.4 L539.6 121.4 L540.0 121.5 L540.4 121.5 L540.8 121.6 L541.2 121.6 L541.6 121.7 L542.0 121.7 L542.4 121.8 L542.8 121.9 L543.2 121.9 L543.6 122.0 L544.0 122.1 L544.4 122.1 L544.8 122.2 L545.2 122.3 L545.6 122.5 L546.0 122.6 L546.4 122.8 L546.8 123.0 L547.2 123.2 L547.6 123.4 L548.0 123.6 L548.4 123.9 L548.8 124.2 L549.2 124.5 L549.6 124.8 L550.0 125.1 L550.4 125.4 L550.8 125.7 L551.2 126.1 L551.6 126.4 L552.0 126.8 L552.4 127.1 L552.8 127.5 L553.2 127.9 L553.6 128.3 L554.0 128.7 L554.4 129.1 L554.8 129.5 L555.2 129.8 L555.6 130.2 L556.0 130.6 L556.4 131.0 L556.8 131.4 L557.2 131.8 L557.6 132.2 L558.0 132.6 L558.4 133.0 L558.8 133.4 L559.2 133.8 L559.6 134.3 L560.0 134.7 L560.4 135.2 L560.8 135.6 L561.2 136.1 L561.6 136.6 L562.0 137.1 L562.4 137.6 L562.8 138.1 L563.2 138.6 L563.6 139.1 L564.0 139.7 L564.4 140.2 L564.8 140.8 L565.2 141.3 L565.6 141.9 L566.0 142.5 L566.4 143.1 L566.8 143.7 L567.2 144.3 L567.6 144.9 L568.0 145.5 L568.4 146.1 L568.8 146.7 L569.2 147.4 L569.6 148.0 L570.0 148.7 L570.4 149.4 L570.8 150.1 L571.2 150.8 L571.6 151.5 L572.0 152.3 L572.4 153.0 L572.8 153.8 L573.2 154.6 L573.6 155.4 L574.0 156.2 L574.4 157.0 L574.8 157.8 L575.2 158.7 L575.6 159.6 L576.0 160.4 L576.4 161.3 L576.8 162.3 L577.2 163.2 L577.6 164.1 L578.0 165.1 L578.4 166.1 L578.8 167.1 L579.2 168.1 L579.6 169.2 L580.0 170.4 L580.4 171.6 L580.8 172.8 L581.2 174.0 L581.6 175.2 L582.0 176.5 L582.4 177.8 L582.8 179.1 L583.2 180.4 L583.6 181.7 L584.0 183.0 L584.4 184.4 L584.8 185.7 L585.2 187.0 L585.6 188.3 L586.0 189.7 L586.4 191.0 L586.8 192.4 L587.2 193.8 L587.6 195.2 L588.0 196.6 L588.4 198.1 L588.8 199.6 L589.2 201.1 L589.6 202.6 L590.0 204.2 L590.4 205.8 L590.8 207.4 L591.2 209.1 L591.6 210.8 L592.0 212.6 L592.4 214.4 L592.8 216.3 L593.2 218.2 L593.6 220.1 L594.0 222.2 L594.4 224.2 L594.8 226.3 L595.2 228.5 L595.6 230.8 L596.0 233.0 L596.4 235.4 L596.8 237.8 L597.2 240.3 L597.6 242.9 L598.0 245.5 L598.4 248.2 L598.8 251.1 L599.2 253.9 L599.6 256.9 L600.0 260.0 L600.4 263.2 L600.8 266.5 L601.2 270.0 L601.6 273.8 L602.0 277.8 L602.4 281.9 L602.8 286.1 L603.2 290.3 L603.6 294.4 L604.0 298.4 L604.4 302.3 L604.8 306.2 L605.2 310.0 L605.6 313.9 L606.0 317.8 L606.4 321.8 L606.8 325.9 L607.2 330.2 L607.6 335.5 L608.0 340.4 L608.4 342.8 L608.8 344.5 L609.2 345.6 L609.6 346.0 L610.0 345.5 L610.4 344.2 L610.8 342.5 L611.2 340.6 L611.6 337.7 L612.0 334.1 L612.4 329.9 L612.8 325.4 L613.2 320.9 L613.6 316.6 L614.0 312.7 L614.4 308.7 L614.8 304.6 L615.2 300.6 L615.6 296.5 L616.0 292.5 L616.4 288.4 L616.8 284.3 L617.2 280.2 L617.6 276.1 L618.0 271.9 L618.4 267.8 L618.8 263.7 L619.2 259.7 L619.6 255.6 L620.0 251.6 L620.4 247.6 L620.8 243.5 L621.2 239.6 L621.6 235.6 L622.0 231.6 L622.4 227.6 L622.8 223.6 L623.2 219.7 L623.6 215.7 L624.0 211.7 L624.4 207.8 L624.8 203.8 L625.2 199.8 L625.6 195.6 L626.0 191.4 L626.4 187.2 L626.8 182.9 L627.2 178.8 L627.6 174.7 L628.0 170.7 L628.4 166.9 L628.8 163.4 L629.2 160.1 L629.6 156.8 L630.0 153.6 L630.4 150.3 L630.8 147.2 L631.2 144.2 L631.6 141.2 L632.0 138.5 L632.4 135.9 L632.8 133.6 L633.2 131.5 L633.6 129.7 L634.0 128.2 L634.4 126.7 L634.8 125.3 L635.2 124.0 L635.6 122.7 L636.0 121.5 L636.4 120.3 L636.8 119.2 L637.2 118.2 L637.6 117.2 L638.0 116.2 L638.4 115.3 L638.8 114.5 L639.2 113.8 L639.6 113.1 L640.0 112.4 L640.4 111.8 L640.8 111.3 L641.2 110.8 L641.6 110.4 L642.0 109.9 L642.4 109.5 L642.8 109.0 L643.2 108.6 L643.6 108.2 L644.0 107.8 L644.4 107.5 L644.8 107.1 L645.2 106.8 L645.6 106.4 L646.0 106.2 L646.4 105.9 L646.8 105.7 L647.2 105.5 L647.6 105.3 L648.0 105.2 L648.4 105.1 L648.8 105.0 L649.2 105.0 L649.6 105.0 L650.0 105.0 L650.4 105.0 L650.8 105.1 L651.2 105.1 L651.6 105.1 L652.0 105.1 L652.4 105.2 L652.8 105.2 L653.2 105.3 L653.6 105.3 L654.0 105.4 L654.4 105.4 L654.8 105.5 L655.2 105.5 L655.6 105.6 L656.0 105.6 L656.4 105.7 L656.8 105.8 L657.2 105.8 L657.6 105.9 L658.0 106.0 L658.4 106.1 L658.8 106.1 L659.2 106.2 L659.6 106.3 L660.0 106.5 L660.4 106.6 L660.8 106.8 L661.2 107.0 L661.6 107.2 L662.0 107.5 L662.4 107.8 L662.8 108.1 L663.2 108.4 L663.6 108.7 L664.0 109.0 L664.4 109.4 L664.8 109.7 L665.2 110.1 L665.6 110.5 L666.0 110.9 L666.4 111.3 L666.8 111.7 L667.2 112.1 L667.6 112.6 L668.0 113.0 L668.4 113.4 L668.8 113.9 L669.2 114.3 L669.6 114.7 L670.0 115.2 L670.4 115.6 L670.8 116.0 L671.2 116.4 L671.6 116.9 L672.0 117.3 L672.4 117.8 L672.8 118.2 L673.2 118.7 L673.6 119.2 L674.0 119.7 L674.4 120.2 L674.8 120.7 L675.2 121.2 L675.6 121.7 L676.0 122.3 L676.4 122.8 L676.8 123.4 L677.2 123.9 L677.6 124.5 L678.0 125.1 L678.4 125.7 L678.8 126.3 L679.2 126.9 L679.6 127.5 L680.0 128.2 L680.4 128.8 L680.8 129.4 L681.2 130.1 L681.6 130.7 L682.0 131.4 L682.4 132.1 L682.8 132.8 L683.2 133.5 L683.6 134.2 L684.0 134.9 L684.4 135.6 L684.8 136.4 L685.2 137.2 L685.6 137.9 L686.0 138.7 L686.4 139.5 L686.8 140.4 L687.2 141.2 L687.6 142.0 L688.0 142.9 L688.4 143.8 L688.8 144.7 L689.2 145.6 L689.6 146.5 L690.0 147.5 L690.4 148.4 L690.8 149.4 L691.2 150.4 L691.6 151.4 L692.0 152.4 L692.4 153.4 L692.8 154.5 L693.2 155.6 L693.6 156.8 L694.0 158.0 L694.4 159.2 L694.8 160.5 L695.2 161.8 L695.6 163.1 L696.0 164.4 L696.4 165.7 L696.8 167.1 L697.2 168.4 L697.6 169.8 L698.0 171.1 L698.4 172.5 L698.8 173.9 L699.2 175.2 L699.6 176.6 L700.0 178.0 L700.4 179.4 L700.8 180.8 L701.2 182.2 L701.6 183.6 L702.0 185.1 L702.4 186.6 L702.8 188.0 L703.2 189.6 L703.6 191.1 L704.0 192.7 L704.4 194.3 L704.8 195.9 L705.2 197.6 L705.6 199.3 L706.0 201.1 L706.4 202.9 L706.8 204.7 L707.2 206.6 L707.6 208.5 L708.0 210.5 L708.4 212.5 L708.8 214.6 L709.2 216.7 L709.6 218.9 L710.0 221.1 L710.4 223.3 L710.8 225.7 L711.2 228.0 L711.6 230.5 L712.0 233.0 L712.4 235.5 L712.8 238.2 L713.2 240.9 L713.6 243.7 L714.0 246.5 L714.4 249.4 L714.8 252.5 L715.2 255.5 L715.6 258.7 L716.0 262.1 L716.4 265.7 L716.8 269.5 L717.2 273.4 L717.6 277.4 L718.0 281.4 L718.4 285.4 L718.8 289.4 L719.2 293.2 L719.6 296.9 L720.0 300.6 L720.4 304.2 L720.8 307.8 L721.2 311.5 L721.6 315.1 L722.0 318.9 L722.4 322.7 L722.8 326.6 L723.2 331.2 L723.6 336.0 L724.0 339.4 L724.4 341.1 L724.8 342.4 L725.2 343.4 L725.6 343.9 L726.0 344.0 L726.4 343.5 L726.8 342.4 L727.2 340.8 L727.6 339.0 L728.0 336.3 L728.4 332.9 L728.8 329.1 L729.2 324.9 L729.6 320.8 L730.0 316.9 L730.4 313.2 L730.8 309.6 L731.2 305.9 L731.6 302.2 L732.0 298.4 L732.4 294.7 L732.8 290.9 L733.2 287.1 L733.6 283.3 L734.0 279.6 L734.4 275.8 L734.8 272.0 L735.2 268.2 L735.6 264.5 L736.0 260.8 L736.4 257.1 L736.8 253.4 L737.2 249.7 L737.6 246.0 L738.0 242.3 L738.4 238.7 L738.8 235.0 L739.2 231.4 L739.6 227.7 L740.0 224.1 L740.4 220.4 L740.8 216.7 L741.2 213.1 L741.6 209.4 L742.0 205.5 L742.4 201.7 L742.8 197.8 L743.2 193.9 L743.6 190.0 L744.0 186.3 L744.4 182.7 L744.8 179.3 L745.2 176.1 L745.6 173.1 L746.0 170.1 L746.4 167.1 L746.8 164.2 L747.2 161.4 L747.6 158.6 L748.0 156.0 L748.4 153.5 L748.8 151.3 L749.2 149.2 L749.6 147.4 L750.0 145.9 L750.4 144.5 L750.8 143.2 L751.2 141.9 L751.6 140.7 L752.0 139.6 L752.4 138.5 L752.8 137.4 L753.2 136.5 L753.6 135.5 L754.0 134.6 L754.4 133.8 L754.8 133.0 L755.2 132.3 L755.6 131.6 L756.0 131.0 L756.4 130.4 L756.8 129.9 L757.2 129.5 L757.6 129.1 L758.0 128.6 L758.4 128.2 L758.8 127.8 L759.2 127.4 L759.6 127.1 L760.0 126.7 L760.4 126.3 L760.8 126.0 L761.2 125.7 L761.6 125.4 L762.0 125.1 L762.4 124.9 L762.8 124.7 L763.2 124.5 L763.6 124.3 L764.0 124.2 L764.4 124.1 L764.8 124.0 L765.2 124.0 L765.6 124.0 L766.0 124.0 L766.4 124.0 L766.8 124.0 L767.2 124.0 L767.6 124.1 L768.0 124.1 L768.4 124.1 L768.8 124.1 L769.2 124.2 L769.6 124.2 L770.0 124.2 L770.4 124.3 L770.8 124.3 L771.2 124.3 L771.6 124.4 L772.0 124.4 L772.4 124.5 L772.8 124.5 L773.2 124.6 L773.6 124.6 L774.0 124.7 L774.4 124.8 L774.8 124.8 L775.2 124.9 L775.6 125.0 L776.0 125.0 L776.4 125.1 L776.8 125.2 L777.2 125.3 L777.6 125.4 L778.0 125.5 L778.4 125.7 L778.8 125.9 L779.2 126.1 L779.6 126.3 L780.0 126.5 L780.4 126.8 L780.8 127.0 L781.2 127.3 L781.6 127.6 L782.0 127.9 L782.4 128.2 L782.8 128.5 L783.2 128.9 L783.6 129.2 L784.0 129.6 L784.4 129.9 L784.8 130.3 L785.2 130.7 L785.6 131.0 L786.0 131.4 L786.4 131.8 L786.8 132.2 L787.2 132.6 L787.6 132.9 L788.0 133.3 L788.4 133.7 L788.8 134.1 L789.2 134.5 L789.6 134.8 L790.0 135.2 L790.4 135.6 L790.8 136.0 L791.2 136.5 L791.6 136.9 L792.0 137.3 L792.4 137.8 L792.8 138.2 L793.2 138.7 L793.6 139.2 L794.0 139.6 L794.4 140.1 L794.8 140.6 L795.2 141.1 L795.6 141.7 L796.0 142.2 L796.4 142.7 L796.8 143.3 L797.2 143.8 L797.6 144.4 L798.0 144.9 L798.4 145.5 L798.8 146.1 L799.2 146.7 L799.6 147.3 L800.0 147.9 L800.4 148.5 L800.8 149.1 L801.2 149.7 L801.6 150.4 L802.0 151.0 L802.4 151.7 L802.8 152.4 L803.2 153.1 L803.6 153.8 L804.0 154.5 L804.4 155.3 L804.8 156.0 L805.2 156.8 L805.6 157.6 L806.0 158.3 L806.4 159.2 L806.8 160.0 L807.2 160.8 L807.6 161.7 L808.0 162.5 L808.4 163.4 L808.8 164.3 L809.2 165.2 L809.6 166.1 L810.0 167.1 L810.4 168.0 L810.8 169.0 L811.2 170.1 L811.6 171.2 L812.0 172.3 L812.4 173.4 L812.8 174.6 L813.2 175.8 L813.6 177.0 L814.0 178.3 L814.4 179.5 L814.8 180.8 L815.2 182.1 L815.6 183.4 L816.0 184.7 L816.4 186.0 L816.8 187.3 L817.2 188.6 L817.6 189.9 L818.0 191.2 L818.4 192.6 L818.8 193.9 L819.2 195.3 L819.6 196.6 L820.0 198.0 L820.4 199.5 L820.8 200.9 L821.2 202.4 L821.6 203.9 L822.0 205.4 L822.4 207.0 L822.8 208.6 L823.2 210.3 L823.6 212.0 L824.0 213.7 L824.4 215.5 L824.8 217.3 L825.2 219.2 L825.6 221.2 L826.0 223.1 L826.4 225.2 L826.8 227.3 L827.2 229.4 L827.6 231.6 L828.0 233.9 L828.4 236.2 L828.8 238.6 L829.2 241.0 L829.6 243.5 L830.0 246.1 L830.4 248.8 L830.8 251.6 L831.2 254.5 L831.6 257.4 L832.0 260.4 L832.4 263.6 L832.8 266.8 L833.2 270.4 L833.6 274.1 L834.0 278.1 L834.4 282.1 L834.8 286.2 L835.2 290.3 L835.6 294.3 L836.0 298.2 L836.4 302.1 L836.8 305.8 L837.2 309.6 L837.6 313.4 L838.0 317.3 L838.4 321.2 L838.8 325.3 L839.2 329.6 L839.6 334.9 L840.0 339.3 L840.4 341.3 L840.8 342.8 L841.2 343.8 L841.6 344.0 L842.0 343.3 L842.4 342.0 L842.8 340.3 L843.2 338.3 L843.6 335.5 L844.0 331.9 L844.4 327.8 L844.8 323.5 L845.2 319.2 L845.6 315.2 L846.0 311.5 L846.4 307.7 L846.8 303.8 L847.2 300.0 L847.6 296.1 L848.0 292.2 L848.4 288.3 L848.8 284.4 L849.2 280.5 L849.6 276.6 L850.0 272.7 L850.4 268.8 L850.8 264.9 L851.2 261.0 L851.6 257.1 L852.0 253.3 L852.4 249.5 L852.8 245.6 L853.2 241.8 L853.6 238.0 L854.0 234.3 L854.4 230.5 L854.8 226.7 L855.2 222.9 L855.6 219.1 L856.0 215.3 L856.4 211.6 L856.8 207.8 L857.2 204.0 L857.6 200.1 L858.0 196.1 L858.4 192.1 L858.8 188.0 L859.2 184.0 L859.6 180.1 L860.0 176.3 L860.4 172.6 L860.8 169.1 L861.2 165.8 L861.6 162.7 L862.0 159.6 L862.4 156.5 L862.8 153.5 L863.2 150.5 L863.6 147.7 L864.0 145.0 L864.4 142.4 L864.8 140.1 L865.2 137.9 L865.6 136.0 L866.0 134.4 L866.4 133.0 L866.8 131.6 L867.2 130.3 L867.6 129.0 L868.0 127.8 L868.4 126.7 L868.8 125.6 L869.2 124.5 L869.6 123.5 L870.0 122.6 L870.4 121.7 L870.8 120.9 L871.2 120.1 L871.6 119.4 L872.0 118.7 L872.4 118.1 L872.8 117.6 L873.2 117.1 L873.6 116.6 L874.0 116.2 L874.4 115.8 L874.8 115.3 L875.2 114.9 L875.6 114.5 L876.0 114.1 L876.4 113.8 L876.8 113.4 L877.2 113.1 L877.6 112.7 L878.0 112.4 L878.4 112.2 L878.8 111.9 L879.2 111.7 L879.6 111.5 L880.0 111.3 L880.4 111.2 L880.8 111.1 L881.2 111.0 L881.6 111.0 L882.0 111.0 L882.4 111.0 L882.8 111.0 L883.2 111.0 L883.6 111.1 L884.0 111.1 L884.4 111.1 L884.8 111.2 L885.2 111.2 L885.6 111.2 L886.0 111.3 L886.4 111.3 L886.8 111.4 L887.2 111.4 L887.6 111.5 L888.0 111.6 L888.4 111.6 L888.8 111.7 L889.2 111.7 L889.6 111.8 L890.0 111.9 L890.4 111.9 L890.8 112.0 L891.2 112.1 L891.6 112.2 L892.0 112.3 L892.4 112.4 L892.8 112.5 L893.2 112.7 L893.6 112.9 L894.0 113.1 L894.4 113.4 L894.8 113.6 L895.2 113.9 L895.6 114.2 L896.0 114.5 L896.4 114.8 L896.8 115.2 L897.2 115.5 L897.6 115.9 L898.0 116.2 L898.4 116.6 L898.8 117.0 L899.2 117.4 L899.6 117.8 L900.0 118.2 L900.4 118.6 L900.8 119.0 L901.2 119.4 L901.6 119.8 L902.0 120.3 L902.4 120.7 L902.8 121.1 L903.2 121.5 L903.6 121.9 L904.0 122.3 L904.4 122.7 L904.8 123.1 L905.2 123.6 L905.6 124.0 L906.0 124.5 L906.4 124.9 L906.8 125.4 L907.2 125.9 L907.6 126.4 L908.0 126.9 L908.4 127.4 L908.8 127.9 L909.2 128.4 L909.6 129.0 L910.0 129.5 L910.4 130.1 L910.8 130.6 L911.2 131.2 L911.6 131.8 L912.0 132.4 L912.4 133.0 L912.8 133.6 L913.2 134.2 L913.6 134.8 L914.0 135.4 L914.4 136.0 L914.8 136.7 L915.2 137.3 L915.6 138.0 L916.0 138.6 L916.4 139.3 L916.8 140.0 L917.2 140.7 L917.6 141.4 L918.0 142.2 L918.4 142.9 L918.8 143.7 L919.2 144.4 L919.6 145.2 L920.0 146.0 L920.4 146.8 L920.8 147.6 L921.2 148.5 L921.6 149.3 L922.0 150.2 L922.4 151.1 L922.8 151.9 L923.2 152.9 L923.6 153.8 L924.0 154.7 L924.4 155.6 L924.8 156.6 L925.2 157.6 L925.6 158.6 L926.0 159.7 L926.4 160.8 L926.8 161.9 L927.2 163.1 L927.6 164.3 L928.0 165.5 L928.4 166.7 L928.8 168.0 L929.2 169.2 L929.6 170.5 L930.0 171.8 L930.4 173.0 L930.8 174.3 L931.2 175.6 L931.6 176.9 L932.0 178.2 L932.4 179.5 L932.8 180.8 L933.2 182.1 L933.6 183.4 L934.0 184.7 L934.4 186.0 L934.8 187.4 L935.2 188.8 L935.6 190.2 L936.0 191.6 L936.4 193.0 L936.8 194.5 L937.2 196.0 L937.6 197.5 L938.0 199.1 L938.4 200.7 L938.8 202.3 L939.2 204.0 L939.6 205.7 L940.0 207.4 L940.4 209.2 L940.8 211.0 L941.2 212.9 L941.6 214.8 L942.0 216.7 L942.4 218.7 L942.8 220.8 L943.2 222.8 L943.6 225.0 L944.0 227.1 L944.4 229.4 L944.8 231.6 L945.2 234.0 L945.6 236.4 L946.0 238.9 L946.4 241.4 L946.8 244.0 L947.2 246.6 L947.6 249.4 L948.0 252.2 L948.4 255.0 L948.8 258.0 L949.2 261.1 L949.6 264.4 L950.0 267.9 L950.4 271.5 L950.8 275.2 L951.2 279.0 L951.6 282.7 L952.0 286.4 L952.4 290.0 L952.8 293.4 L953.2 296.9 L953.6 300.2 L954.0 303.6 L954.4 306.9 L954.8 310.3 L955.2 313.7 L955.6 317.2 L956.0 320.7 L956.4 324.4 L956.8 328.8 L957.2 333.1 L957.6 335.9 L958.0 337.3 L958.4 338.5 L958.8 339.4 L959.2 339.9" stroke="#e0404b"/>
<path d="M135.2 185.2 L135.6 186.6 L136.0 188.0 L136.4 189.5 L136.8 191.0 L137.2 192.5 L137.6 194.1 L138.0 195.6 L138.4 197.3 L138.8 198.9 L139.2 200.6 L139.6 202.3 L140.0 204.1 L140.4 205.9 L140.8 207.8 L141.2 209.7 L141.6 211.7 L142.0 213.7 L142.4 215.8 L142.8 217.9 L143.2 220.1 L143.6 222.4 L144.0 224.7 L144.4 227.0 L144.8 229.4 L145.2 231.9 L145.6 234.5 L146.0 237.2 L146.4 239.9 L146.8 242.7 L147.2 245.6 L147.6 248.6 L148.0 251.7 L148.4 254.9 L148.8 258.2 L149.2 261.6 L149.6 265.4 L150.0 269.3 L150.4 273.5 L150.8 277.7 L151.2 282.0 L151.6 286.2 L152.0 290.4 L152.4 294.4 L152.8 298.4 L153.2 302.3 L153.6 306.2 L154.0 310.2 L154.4 314.2 L154.8 318.3 L155.2 322.6 L155.6 327.4 L156.0 332.9 L156.4 336.8 L156.8 338.6 L157.2 340.1 L157.6 340.9 L158.0 340.9 L158.4 339.9 L158.8 338.4 L159.2 336.7 L159.6 334.3 L160.0 331.0 L160.4 327.0 L160.8 322.6 L161.2 318.1 L161.6 313.8 L162.0 309.7 L162.4 305.8 L162.8 301.8 L163.2 297.8 L163.6 293.8 L164.0 289.7 L164.4 285.7 L164.8 281.6 L165.2 277.5 L165.6 273.4 L166.0 269.3 L166.4 265.2 L166.8 261.2 L167.2 257.1 L167.6 253.1 L168.0 249.0 L168.4 245.0 L168.8 241.0 L169.2 237.1 L169.6 233.1 L170.0 229.1 L170.4 225.2 L170.8 221.2 L171.2 217.3 L171.6 213.3 L172.0 209.4 L172.4 205.4 L172.8 201.5 L173.2 197.5 L173.6 193.4 L174.0 189.3 L174.4 185.0 L174.8 180.8 L175.2 176.7 L175.6 172.6 L176.0 168.6 L176.4 164.8 L176.8 161.2 L177.2 157.9 L177.6 154.7 L178.0 151.4 L178.4 148.2 L178.8 145.1 L179.2 142.1 L179.6 139.1 L180.0 136.4 L180.4 133.8 L180.8 131.5 L181.2 129.4 L181.6 127.5 L182.0 126.0 L182.4 124.5 L182.8 123.2 L183.2 121.8 L183.6 120.6 L184.0 119.3 L184.4 118.2 L184.8 117.1 L185.2 116.0 L185.6 115.0 L186.0 114.1 L186.4 113.2 L186.8 112.4 L187.2 111.6 L187.6 110.9 L188.0 110.3 L188.4 109.7 L188.8 109.2 L189.2 108.7 L189.6 108.3 L190.0 107.8 L190.4 107.4 L190.8 107.0 L191.2 106.5 L191.6 106.1 L192.0 105.8 L192.4 105.4 L192.8 105.0 L193.2 104.7 L193.6 104.4 L194.0 104.1 L194.4 103.9 L194.8 103.6 L195.2 103.4 L195.6 103.3 L196.0 103.2 L196.4 103.1 L196.8 103.0 L197.2 103.0 L197.6 103.0 L198.0 103.0 L198.4 103.0 L198.8 103.1 L199.2 103.1 L199.6 103.1 L200.0 103.2 L200.4 103.2 L200.8 103.2 L201.2 103.3 L201.6 103.4 L202.0 103.4 L202.4 103.5 L202.8 103.5 L203.2 103.6 L203.6 103.7 L204.0 103.7 L204.4 103.8 L204.8 103.9 L205.2 104.0 L205.6 104.0 L206.0 104.1 L206.4 104.2 L206.8 104.3 L207.2 104.4 L207.6 104.5 L208.0 104.7 L208.4 104.9 L208.8 105.1 L209.2 105.4 L209.6 105.7 L210.0 106.0 L210.4 106.3 L210.8 106.6 L211.2 107.0 L211.6 107.3 L212.0 107.7 L212.4 108.1 L212.8 108.5 L213.2 108.9 L213.6 109.3 L214.0 109.8 L214.4 110.2 L214.8 110.7 L215.2 111.1 L215.6 111.6 L216.0 112.0 L216.4 112.5 L216.8 113.0 L217.2 113.4 L217.6 113.9 L218.0 114.3 L218.4 114.8 L218.8 115.3 L219.2 115.7 L219.6 116.2 L220.0 116.7 L220.4 117.2 L220.8 117.7 L221.2 118.2 L221.6 118.7 L222.0 119.3 L222.4 119.8 L222.8 120.4 L223.2 120.9 L223.6 121.5 L224.0 122.1 L224.4 122.7 L224.8 123.3 L225.2 123.9 L225.6 124.6 L226.0 125.2 L226.4 125.9 L226.8 126.5 L227.2 127.2 L227.6 127.9 L228.0 128.5 L228.4 129.2 L228.8 129.9 L229.2 130.6 L229.6 131.3 L230.0 132.1 L230.4 132.8 L230.8 133.5 L231.2 134.3 L231.6 135.1 L232.0 135.9 L232.4 136.7 L232.8 137.5 L233.2 138.4 L233.6 139.2 L234.0 140.1 L234.4 141.0 L234.8 141.9 L235.2 142.8 L235.6 143.7 L236.0 144.7 L236.4 145.6 L236.8 146.6 L237.2 147.6 L237.6 148.6 L238.0 149.6 L238.4 150.7 L238.8 151.7 L239.2 152.8 L239.6 153.9 L240.0 155.0 L240.4 156.2 L240.8 157.5 L241.2 158.7 L241.6 160.0 L242.0 161.4 L242.4 162.7 L242.8 164.1 L243.2 165.5 L243.6 166.9 L244.0 168.3 L244.4 169.7 L244.8 171.2 L245.2 172.6 L245.6 174.0 L246.0 175.5 L246.4 176.9 L246.8 178.3 L247.2 179.8 L247.6 181.2 L248.0 182.7 L248.4 184.2 L248.8 185.7 L249.2 187.2 L249.6 188.8 L250.0 190.3 L250.4 191.9 L250.8 193.6 L251.2 195.2 L251.6 196.9 L252.0 198.6 L252.4 200.4 L252.8 202.2 L253.2 204.1 L253.6 205.9 L254.0 207.9 L254.4 209.9 L254.8 211.9 L255.2 213.9 L255.6 216.1 L256.0 218.2 L256.4 220.4 L256.8 222.7 L257.2 225.0 L257.6 227.4 L258.0 229.8 L258.4 232.3 L258.8 234.9 L259.2 237.5 L259.6 240.2 L260.0 242.9 L260.4 245.7 L260.8 248.6 L261.2 251.6 L261.6 254.7 L262.0 257.8 L262.4 261.0 L262.8 264.3 L263.2 267.9 L263.6 271.6 L264.0 275.6 L264.4 279.6 L264.8 283.8 L265.2 287.9 L265.6 292.1 L266.0 296.1 L266.4 300.1 L266.8 303.9 L267.2 307.7 L267.6 311.4 L268.0 315.2 L268.4 318.9 L268.8 322.7 L269.2 326.5 L269.6 330.4 L270.0 334.4 L270.4 338.9 L270.8 344.0 L271.2 347.8 L271.6 349.6 L272.0 351.0 L272.4 352.1 L272.8 352.8 L273.2 353.0 L273.6 352.9 L274.0 351.9 L274.4 350.4 L274.8 348.6 L275.2 346.2 L275.6 342.9 L276.0 338.9 L276.4 334.5 L276.8 330.0 L277.2 325.6 L277.6 321.6 L278.0 317.7 L278.4 313.7 L278.8 309.7 L279.2 305.7 L279.6 301.6 L280.0 297.5 L280.4 293.5 L280.8 289.4 L281.2 285.3 L281.6 281.2 L282.0 277.1 L282.4 273.1 L282.8 269.0 L283.2 265.0 L283.6 261.0 L284.0 257.0 L284.4 253.0 L284.8 249.0 L285.2 245.0 L285.6 241.1 L286.0 237.1 L286.4 233.2 L286.8 229.3 L287.2 225.3 L287.6 221.4 L288.0 217.4 L288.4 213.4 L288.8 209.4 L289.2 205.3 L289.6 201.1 L290.0 196.9 L290.4 192.7 L290.8 188.6 L291.2 184.5 L291.6 180.7 L292.0 177.0 L292.4 173.6 L292.8 170.3 L293.2 167.1 L293.6 163.9 L294.0 160.7 L294.4 157.6 L294.8 154.7 L295.2 151.8 L295.6 149.2 L296.0 146.8 L296.4 144.6 L296.8 142.7 L297.2 141.1 L297.6 139.6 L298.0 138.2 L298.4 136.9 L298.8 135.6 L299.2 134.4 L299.6 133.2 L300.0 132.1 L300.4 131.0 L300.8 130.0 L301.2 129.1 L301.6 128.2 L302.0 127.4 L302.4 126.6 L302.8 125.9 L303.2 125.3 L303.6 124.7 L304.0 124.2 L304.4 123.7 L304.8 123.2 L305.2 122.8 L305.6 122.3 L306.0 121.9 L306.4 121.5 L306.8 121.1 L307.2 120.7 L307.6 120.3 L308.0 120.0 L308.4 119.7 L308.8 119.4 L309.2 119.1 L309.6 118.8 L310.0 118.6 L310.4 118.4 L310.8 118.3 L311.2 118.1 L311.6 118.1 L312.0 118.0 L312.4 118.0 L312.8 118.0 L313.2 118.0 L313.6 118.0 L314.0 118.0 L314.4 118.1 L314.8 118.1 L315.2 118.1 L315.6 118.1 L316.0 118.2 L316.4 118.2 L316.8 118.2 L317.2 118.3 L317.6 118.3 L318.0 118.3 L318.4 118.4 L318.8 118.4 L319.2 118.5 L319.6 118.5 L320.0 118.6 L320.4 118.7 L320.8 118.7 L321.2 118.8 L321.6 118.8 L322.0 118.9 L322.4 119.0 L322.8 119.0 L323.2 119.1 L323.6 119.2 L324.0 119.3 L324.4 119.4 L324.8 119.6 L325.2 119.7 L325.6 119.9 L326.0 120.1 L326.4 120.3 L326.8 120.6 L327.2 120.8 L327.6 121.1 L328.0 121.4 L328.4 121.7 L328.8 122.0 L329.2 122.3 L329.6 122.7 L330.0 123.0 L330.4 123.4 L330.8 123.7 L331.2 124.1 L331.6 124.5 L332.0 124.9 L332.4 125.3 L332.8 125.7 L333.2 126.1 L333.6 126.4 L334.0 126.8 L334.4 127.2 L334.8 127.6 L335.2 128.0 L335.6 128.4 L336.0 128.8 L336.4 129.2 L336.8 129.6 L337.2 130.0 L337.6 130.5 L338.0 130.9 L338.4 131.3 L338.8 131.8 L339.2 132.3 L339.6 132.7 L340.0 133.2 L340.4 133.7 L340.8 134.2 L341.2 134.7 L341.6 135.2 L342.0 135.8 L342.4 136.3 L342.8 136.9 L343.2 137.4 L343.6 138.0 L344.0 138.6 L344.4 139.1 L344.8 139.7 L345.2 140.3 L345.6 140.9 L346.0 141.5 L346.4 142.2 L346.8 142.8 L347.2 143.4 L347.6 144.1 L348.0 144.7 L348.4 145.4 L348.8 146.1 L349.2 146.8 L349.6 147.5 L350.0 148.2 L350.4 149.0 L350.8 149.7 L351.2 150.5 L351.6 151.3 L352.0 152.1 L352.4 152.9 L352.8 153.8 L353.2 154.6 L353.6 155.5 L354.0 156.3 L354.4 157.2 L354.8 158.1 L355.2 159.1 L355.6 160.0 L356.0 161.0 L356.4 161.9 L356.8 162.9 L357.2 163.9 L357.6 165.0 L358.0 166.1 L358.4 167.3 L358.8 168.5 L359.2 169.7 L359.6 170.9 L360.0 172.2 L360.4 173.5 L360.8 174.8 L361.2 176.1 L361.6 177.4 L362.0 178.8 L362.4 180.1 L362.8 181.5 L363.2 182.8 L363.6 184.1 L364.0 185.5 L364.4 186.9 L364.8 188.3 L365.2 189.6 L365.6 191.1 L366.0 192.5 L366.4 193.9 L366.8 195.4 L367.2 196.9 L367.6 198.5 L368.0 200.0 L368.4 201.6 L368.8 203.3 L369.2 204.9 L369.6 206.7 L370.0 208.4 L370.4 210.2 L370.8 212.1 L371.2 214.0 L371.6 216.0 L372.0 218.0 L372.4 220.0 L372.8 222.2 L373.2 224.3 L373.6 226.6 L374.0 228.9 L374.4 231.2 L374.8 233.7 L375.2 236.1 L375.6 238.7 L376.0 241.4 L376.4 244.1 L376.8 246.9 L377.2 249.8 L377.6 252.8 L378.0 255.9 L378.4 259.1 L378.8 262.4 L379.2 265.9 L379.6 269.7 L380.0 273.7 L380.4 277.8 L380.8 282.0 L381.2 286.3 L381.6 290.5 L382.0 294.6 L382.4 298.6 L382.8 302.5 L383.2 306.4 L383.6 310.3 L384.0 314.3 L384.4 318.3 L384.8 322.5 L385.2 326.8 L385.6 332.0 L386.0 337.2 L386.4 339.8 L386.8 341.4 L387.2 342.6 L387.6 343.0 L388.0 342.5 L388.4 341.2 L388.8 339.5 L389.2 337.5 L389.6 334.6 L390.0 330.9 L390.4 326.6 L390.8 322.1 L391.2 317.6 L391.6 313.3 L392.0 309.4 L392.4 305.4 L392.8 301.3 L393.2 297.3 L393.6 293.2 L394.0 289.1 L394.4 284.9 L394.8 280.8 L395.2 276.7 L395.6 272.6 L396.0 268.4 L396.4 264.3 L396.8 260.2 L397.2 256.1 L397.6 252.0 L398.0 248.0 L398.4 244.0 L398.8 239.9 L399.2 235.9 L399.6 231.9 L400.0 227.9 L400.4 223.9 L400.8 220.0 L401.2 216.0 L401.6 212.0 L402.0 208.0 L402.4 204.0 L402.8 200.0 L403.2 195.9 L403.6 191.7 L404.0 187.5 L404.4 183.2 L404.8 179.0 L405.2 174.8 L405.6 170.8 L406.0 166.9 L406.4 163.2 L406.8 159.8 L407.2 156.5 L407.6 153.3 L408.0 150.0 L408.4 146.8 L408.8 143.7 L409.2 140.8 L409.6 138.0 L410.0 135.3 L410.4 132.9 L410.8 130.8 L411.2 128.9 L411.6 127.3 L412.0 125.8 L412.4 124.4 L412.8 123.1 L413.2 121.8 L413.6 120.5 L414.0 119.3 L414.4 118.2 L414.8 117.2 L415.2 116.2 L415.6 115.2 L416.0 114.3 L416.4 113.5 L416.8 112.7 L417.2 112.0 L417.6 111.4 L418.0 110.8 L418.4 110.2 L418.8 109.8 L419.2 109.3 L419.6 108.9 L420.0 108.4 L420.4 108.0 L420.8 107.6 L421.2 107.2 L421.6 106.8 L422.0 106.4 L422.4 106.0 L422.8 105.7 L423.2 105.4 L423.6 105.1 L424.0 104.9 L424.4 104.6 L424.8 104.4 L425.2 104.3 L425.6 104.1 L426.0 104.1 L426.4 104.0 L426.8 104.0 L427.2 104.0 L427.6 104.0 L428.0 104.0 L428.4 104.1 L428.8 104.1 L429.2 104.1 L429.6 104.2 L430.0 104.2 L430.4 104.3 L430.8 104.3 L431.2 104.4 L431.6 104.4 L432.0 104.5 L432.4 104.5 L432.8 104.6 L433.2 104.7 L433.6 104.7 L434.0 104.8 L434.4 104.9 L434.8 105.0 L435.2 105.0 L435.6 105.1 L436.0 105.2 L436.4 105.3 L436.8 105.4 L437.2 105.6 L437.6 105.8 L438.0 106.0 L438.4 106.2 L438.8 106.5 L439.2 106.7 L439.6 107.0 L440.0 107.3 L440.4 107.7 L440.8 108.0 L441.2 108.4 L441.6 108.8 L442.0 109.2 L442.4 109.6 L442.8 110.0 L443.2 110.5 L443.6 110.9 L444.0 111.3 L444.4 111.8 L444.8 112.2 L445.2 112.7 L445.6 113.2 L446.0 113.6 L446.4 114.1 L446.8 114.5 L447.2 115.0 L447.6 115.5 L448.0 115.9 L448.4 116.4 L448.8 116.8 L449.2 117.3 L449.6 117.8 L450.0 118.3 L450.4 118.8 L450.8 119.3 L451.2 119.9 L451.6 120.4 L452.0 121.0 L452.4 121.5 L452.8 122.1 L453.2 122.7 L453.6 123.3 L454.0 123.9 L454.4 124.5 L454.8 125.1 L455.2 125.8 L455.6 126.4 L456.0 127.1 L456.4 127.7 L456.8 128.4 L457.2 129.1 L457.6 129.7 L458.0 130.4 L458.4 131.1 L458.8 131.8 L459.2 132.6 L459.6 133.3 L460.0 134.0 L460.4 134.8 L460.8 135.6 L461.2 136.4 L461.6 137.2 L462.0 138.0 L462.4 138.8 L462.8 139.7 L463.2 140.5 L463.6 141.4 L464.0 142.3 L464.4 143.2 L464.8 144.1 L465.2 145.1 L465.6 146.0 L466.0 147.0 L466.4 148.0 L466.8 149.0 L467.2 150.0 L467.6 151.0 L468.0 152.1 L468.4 153.1 L468.8 154.2 L469.2 155.4 L469.6 156.6 L470.0 157.8 L470.4 159.1 L470.8 160.3 L471.2 161.7 L471.6 163.0 L472.0 164.4 L472.4 165.8 L472.8 167.2 L473.2 168.6 L473.6 170.0 L474.0 171.4 L474.4 172.8 L474.8 174.3 L475.2 175.7 L475.6 177.1 L476.0 178.6 L476.4 180.0 L476.8 181.5 L477.2 182.9 L477.6 184.4 L478.0 185.9 L478.4 187.4 L478.8 189.0 L479.2 190.5 L479.6 192.1 L480.0 193.8 L480.4 195.4 L480.8 197.1 L481.2 198.8 L481.6 200.6 L482.0 202.4 L482.4 204.2 L482.8 206.1 L483.2 208.0 L483.6 210.0 L484.0 212.0 L484.4 214.1 L484.8 216.2 L485.2 218.4 L485.6 220.6 L486.0 222.8 L486.4 225.1 L486.8 227.5 L487.2 229.9 L487.6 232.4 L488.0 235.0 L488.4 237.6 L488.8 240.3 L489.2 243.0 L489.6 245.8 L490.0 248.7 L490.4 251.7 L490.8 254.8 L491.2 257.9 L491.6 261.1 L492.0 264.5 L492.4 268.0 L492.8 271.8 L493.2 275.7 L493.6 279.8 L494.0 283.9 L494.4 288.1 L494.8 292.2 L495.2 296.2 L495.6 300.1 L496.0 304.0 L496.4 307.7 L496.8 311.5 L497.2 315.2 L497.6 318.9 L498.0 322.7 L498.4 326.5 L498.8 330.4 L499.2 334.4 L499.6 339.2 L500.0 344.1 L500.4 347.4 L500.8 349.0 L501.2 350.4 L501.6 351.3 L502.0 351.9 L502.4 352.0 L502.8 351.7 L503.2 350.6 L503.6 349.1 L504.0 347.3 L504.4 344.8 L504.8 341.4 L505.2 337.4 L505.6 333.1 L506.0 328.7 L506.4 324.5 L506.8 320.7 L507.2 316.8 L507.6 312.9 L508.0 309.0 L508.4 305.1 L508.8 301.2 L509.2 297.2 L509.6 293.3 L510.0 289.3 L510.4 285.3 L510.8 281.3 L511.2 277.4 L511.6 273.4 L512.0 269.5 L512.4 265.5 L512.8 261.6 L513.2 257.7 L513.6 253.9 L514.0 250.0 L514.4 246.2 L514.8 242.3 L515.2 238.5 L515.6 234.6 L516.0 230.8 L516.4 226.9 L516.8 223.1 L517.2 219.3 L517.6 215.4 L518.0 211.5 L518.4 207.6 L518.8 203.5 L519.2 199.4 L519.6 195.3 L520.0 191.3 L520.4 187.3 L520.8 183.5 L521.2 179.8 L521.6 176.4 L522.0 173.1 L522.4 170.0 L522.8 166.8 L523.2 163.7 L523.6 160.7 L524.0 157.7 L524.4 154.9 L524.8 152.3 L525.2 149.8 L525.6 147.5 L526.0 145.5 L526.4 143.8 L526.8 142.3 L527.2 140.9 L527.6 139.5 L528.0 138.2 L528.4 137.0 L528.8 135.8 L529.2 134.7 L529.6 133.6 L530.0 132.6 L530.4 131.7 L530.8 130.8 L531.2 129.9 L531.6 129.1 L532.0 128.4 L532.4 127.7 L532.8 127.1 L533.2 126.5 L533.6 126.0 L534.0 125.6 L534.4 125.1 L534.8 124.7 L535.2 124.3 L535.6 123.9 L536.0 123.4 L536.4 123.1 L536.8 122.7 L537.2 122.3 L537.6 122.0 L538.0 121.7 L538.4 121.4 L538.8 121.1 L539.2 120.8 L539.6 120.6 L540.0 120.4 L540.4 120.3 L540.8 120.1 L541.2 120.1 L541.6 120.0 L542.0 120.0 L542.4 120.0 L542.8 120.0 L543.2 120.0 L543.6 120.0 L544.0 120.0 L544.4 120.1 L544.8 120.1 L545.2 120.1 L545.6 120.1 L546.0 120.2 L546.4 120.2 L546.8 120.2 L547.2 120.3 L547.6 120.3 L548.0 120.4 L548.4 120.4 L548.8 120.5 L549.2 120.5 L549.6 120.6 L550.0 120.6 L550.4 120.7 L550.8 120.7 L551.2 120.8 L551.6 120.9 L552.0 120.9 L552.4 121.0 L552.8 121.1 L553.2 121.1 L553.6 121.2 L554.0 121.3 L554.4 121.4 L554.8 121.6 L555.2 121.8 L555.6 121.9 L556.0 122.2 L556.4 122.4 L556.8 122.6 L557.2 122.9 L557.6 123.1 L558.0 123.4 L558.4 123.7 L558.8 124.0 L559.2 124.4 L559.6 124.7 L560.0 125.0 L560.4 125.4 L560.8 125.7 L561.2 126.1 L561.6 126.5 L562.0 126.8 L562.4 127.2 L562.8 127.6 L563.2 128.0 L563.6 128.4 L564.0 128.8 L564.4 129.2 L564.8 129.5 L565.2 129.9 L565.6 130.3 L566.0 130.7 L566.4 131.1 L566.8 131.5 L567.2 131.9 L567.6 132.3 L568.0 132.7 L568.4 133.1 L568.8 133.6 L569.2 134.0 L569.6 134.5 L570.0 135.0 L570.4 135.4 L570.8 135.9 L571.2 136.4 L571.6 136.9 L572.0 137.5 L572.4 138.0 L572.8 138.5 L573.2 139.1 L573.6 139.6 L574.0 140.2 L574.4 140.7 L574.8 141.3 L575.2 141.9 L575.6 142.5 L576.0 143.1 L576.4 143.7 L576.8 144.3 L577.2 144.9 L577.6 145.5 L578.0 146.2 L578.4 146.8 L578.8 147.5 L579.2 148.1 L579.6 148.8 L580.0 149.5 L580.4 150.3 L580.8 151.0 L581.2 151.7 L581.6 152.5 L582.0 153.3 L582.4 154.1 L582.8 154.9 L583.2 155.7 L583.6 156.5 L584.0 157.4 L584.4 158.2 L584.8 159.1 L585.2 160.0 L585.6 160.9 L586.0 161.8 L586.4 162.7 L586.8 163.7 L587.2 164.7 L587.6 165.7 L588.0 166.7 L588.4 167.8 L588.8 168.9 L589.2 170.1 L589.6 171.3 L590.0 172.5 L590.4 173.7 L590.8 175.0 L591.2 176.3 L591.6 177.6 L592.0 178.9 L592.4 180.2 L592.8 181.5 L593.2 182.8 L593.6 184.1 L594.0 185.4 L594.4 186.7 L594.8 188.1 L595.2 189.4 L595.6 190.8 L596.0 192.2 L596.4 193.5 L596.8 195.0 L597.2 196.4 L597.6 197.9 L598.0 199.4 L598.4 200.9 L598.8 202.4 L599.2 204.0 L599.6 205.6 L600.0 207.3 L600.4 209.0 L600.8 210.8 L601.2 212.6 L601.6 214.4 L602.0 216.3 L602.4 218.3 L602.8 220.3 L603.2 222.3 L603.6 224.4 L604.0 226.6 L604.4 228.8 L604.8 231.0 L605.2 233.4 L605.6 235.8 L606.0 238.2 L606.4 240.8 L606.8 243.4 L607.2 246.1 L607.6 248.9 L608.0 251.8 L608.4 254.7 L608.8 257.8 L609.2 260.9 L609.6 264.2 L610.0 267.7 L610.4 271.5 L610.8 275.4 L611.2 279.5 L611.6 283.6 L612.0 287.8 L612.4 291.9 L612.8 295.8 L613.2 299.7 L613.6 303.5 L614.0 307.3 L614.4 311.2 L614.8 315.0 L615.2 319.0 L615.6 323.1 L616.0 327.3 L616.4 332.6 L616.8 337.5 L617.2 339.9 L617.6 341.5 L618.0 342.6 L618.4 343.0 L618.8 342.5 L619.2 341.3 L619.6 339.6 L620.0 337.7 L620.4 334.9 L620.8 331.2 L621.2 327.1 L621.6 322.6 L622.0 318.2 L622.4 314.0 L622.8 310.1 L623.2 306.1 L623.6 302.2 L624.0 298.2 L624.4 294.2 L624.8 290.1 L625.2 286.1 L625.6 282.0 L626.0 278.0 L626.4 273.9 L626.8 269.9 L627.2 265.8 L627.6 261.8 L628.0 257.7 L628.4 253.7 L628.8 249.7 L629.2 245.8 L629.6 241.8 L630.0 237.9 L630.4 233.9 L630.8 230.0 L631.2 226.1 L631.6 222.2 L632.0 218.2 L632.4 214.3 L632.8 210.4 L633.2 206.5 L633.6 202.5 L634.0 198.6 L634.4 194.5 L634.8 190.3 L635.2 186.2 L635.6 182.0 L636.0 177.8 L636.4 173.8 L636.8 169.9 L637.2 166.2 L637.6 162.7 L638.0 159.4 L638.4 156.2 L638.8 152.9 L639.2 149.8 L639.6 146.7 L640.0 143.7 L640.4 140.8 L640.8 138.1 L641.2 135.6 L641.6 133.2 L642.0 131.2 L642.4 129.4 L642.8 127.9 L643.2 126.4 L643.6 125.1 L644.0 123.8 L644.4 122.5 L644.8 121.3 L645.2 120.1 L645.6 119.0 L646.0 118.0 L646.4 117.0 L646.8 116.1 L647.2 115.2 L647.6 114.4 L648.0 113.6 L648.4 113.0 L648.8 112.3 L649.2 111.7 L649.6 111.2 L650.0 110.8 L650.4 110.3 L650.8 109.9 L651.2 109.4 L651.6 109.0 L652.0 108.6 L652.4 108.2 L652.8 107.8 L653.2 107.4 L653.6 107.1 L654.0 106.7 L654.4 106.4 L654.8 106.1 L655.2 105.9 L655.6 105.7 L656.0 105.5 L656.4 105.3 L656.8 105.2 L657.2 105.1 L657.6 105.0 L658.0 105.0 L658.4 105.0 L658.8 105.0 L659.2 105.0 L659.6 105.1 L660.0 105.1 L660.4 105.1 L660.8 105.1 L661.2 105.2 L661.6 105.2 L662.0 105.3 L662.4 105.3 L662.8 105.3 L663.2 105.4 L663.6 105.5 L664.0 105.5 L664.4 105.6 L664.8 105.6 L665.2 105.7 L665.6 105.8 L666.0 105.8 L666.4 105.9 L666.8 106.0 L667.2 106.1 L667.6 106.1 L668.0 106.2 L668.4 106.3 L668.8 106.5 L669.2 106.6 L669.6 106.8 L670.0 107.0 L670.4 107.2 L670.8 107.5 L671.2 107.7 L671.6 108.0 L672.0 108.3 L672.4 108.7 L672.8 109.0 L673.2 109.3 L673.6 109.7 L674.0 110.1 L674.4 110.5 L674.8 110.9 L675.2 111.3 L675.6 111.7 L676.0 112.1 L676.4 112.5 L676.8 112.9 L677.2 113.4 L677.6 113.8 L678.0 114.2 L678.4 114.6 L678.8 115.1 L679.2 115.5 L679.6 115.9 L680.0 116.3 L680.4 116.8 L680.8 117.2 L681.2 117.6 L681.6 118.1 L682.0 118.6 L682.4 119.0 L682.8 119.5 L683.2 120.0 L683.6 120.5 L684.0 121.1 L684.4 121.6 L684.8 122.1 L685.2 122.7 L685.6 123.2 L686.0 123.8 L686.4 124.4 L686.8 124.9 L687.2 125.5 L687.6 126.1 L688.0 126.7 L688.4 127.3 L688.8 128.0 L689.2 128.6 L689.6 129.2 L690.0 129.9 L690.4 130.5 L690.8 131.2 L691.2 131.9 L691.6 132.5 L692.0 133.2 L692.4 133.9 L692.8 134.6 L693.2 135.4 L693.6 136.1 L694.0 136.9 L694.4 137.7 L694.8 138.4 L695.2 139.2 L695.6 140.1 L696.0 140.9 L696.4 141.7 L696.8 142.6 L697.2 143.5 L697.6 144.4 L698.0 145.3 L698.4 146.2 L698.8 147.1 L699.2 148.0 L699.6 149.0 L700.0 150.0 L700.4 151.0 L700.8 152.0 L701.2 153.0 L701.6 154.1 L702.0 155.2 L702.4 156.4 L702.8 157.6 L703.2 158.8 L703.6 160.0 L704.0 161.3 L704.4 162.6 L704.8 163.9 L705.2 165.2 L705.6 166.5 L706.0 167.9 L706.4 169.2 L706.8 170.6 L707.2 171.9 L707.6 173.3 L708.0 174.6 L708.4 176.0 L708.8 177.4 L709.2 178.8 L709.6 180.1 L710.0 181.5 L710.4 183.0 L710.8 184.4 L711.2 185.9 L711.6 187.4 L712.0 188.9 L712.4 190.4 L712.8 192.0 L713.2 193.6 L713.6 195.2 L714.0 196.8 L714.4 198.5 L714.8 200.3 L715.2 202.1 L715.6 203.9 L716.0 205.8 L716.4 207.7 L716.8 209.6 L717.2 211.6 L717.6 213.7 L718.0 215.8 L718.4 217.9 L718.8 220.1 L719.2 222.4 L719.6 224.7 L720.0 227.0 L720.4 229.4 L720.8 231.9 L721.2 234.4 L721.6 237.1 L722.0 239.7 L722.4 242.5 L722.8 245.3 L723.2 248.2 L723.6 251.2 L724.0 254.3 L724.4 257.4 L724.8 260.8 L725.2 264.4 L725.6 268.1 L726.0 272.0 L726.4 275.9 L726.8 279.9 L727.2 283.9 L727.6 287.8 L728.0 291.6 L728.4 295.3 L728.8 298.9 L729.2 302.5 L729.6 306.1 L730.0 309.7 L730.4 313.4 L730.8 317.1 L731.2 320.9 L731.6 324.7 L732.0 329.3 L732.4 334.1 L732.8 337.5 L733.2 339.1 L733.6 340.4 L734.0 341.4 L734.4 341.9 L734.8 342.0 L735.2 341.5 L735.6 340.4 L736.0 338.8 L736.4 337.1 L736.8 334.4 L737.2 331.0 L737.6 327.2 L738.0 323.1 L738.4 319.0 L738.8 315.1 L739.2 311.5 L739.6 307.9 L740.0 304.2 L740.4 300.5 L740.8 296.8 L741.2 293.1 L741.6 289.4 L742.0 285.6 L742.4 281.9 L742.8 278.1 L743.2 274.4 L743.6 270.7 L744.0 266.9 L744.4 263.2 L744.8 259.5 L745.2 255.8 L745.6 252.2 L746.0 248.5 L746.4 244.9 L746.8 241.3 L747.2 237.6 L747.6 234.0 L748.0 230.4 L748.4 226.8 L748.8 223.2 L749.2 219.5 L749.6 215.9 L750.0 212.3 L750.4 208.6 L750.8 204.8 L751.2 201.0 L751.6 197.1 L752.0 193.2 L752.4 189.4 L752.8 185.8 L753.2 182.2 L753.6 178.8 L754.0 175.7 L754.4 172.7 L754.8 169.7 L755.2 166.8 L755.6 163.8 L756.0 161.0 L756.4 158.3 L756.8 155.7 L757.2 153.3 L757.6 151.0 L758.0 149.0 L758.4 147.2 L758.8 145.7 L759.2 144.3 L759.6 143.0 L760.0 141.8 L760.4 140.6 L760.8 139.5 L761.2 138.4 L761.6 137.3 L762.0 136.3 L762.4 135.4 L762.8 134.5 L763.2 133.7 L763.6 132.9 L764.0 132.2 L764.4 131.5 L764.8 130.9 L765.2 130.4 L765.6 129.9 L766.0 129.4 L766.4 129.0 L766.8 128.6 L767.2 128.2 L767.6 127.8 L768.0 127.4 L768.4 127.0 L768.8 126.7 L769.2 126.3 L769.6 126.0 L770.0 125.7 L770.4 125.4 L770.8 125.1 L771.2 124.9 L771.6 124.7 L772.0 124.5 L772.4 124.3 L772.8 124.2 L773.2 124.1 L773.6 124.0 L774.0 124.0 L774.4 124.0 L774.8 124.0 L775.2 124.0 L775.6 124.0 L776.0 124.0 L776.4 124.1 L776.8 124.1 L777.2 124.1 L777.6 124.1 L778.0 124.2 L778.4 124.2 L778.8 124.2 L779.2 124.3 L779.6 124.3 L780.0 124.3 L780.4 124.4 L780.8 124.4 L781.2 124.5 L781.6 124.5 L782.0 124.6 L782.4 124.6 L782.8 124.7 L783.2 124.8 L783.6 124.8 L784.0 124.9 L784.4 124.9 L784.8 125.0 L785.2 125.1 L785.6 125.2 L786.0 125.3 L786.4 125.4 L786.8 125.5 L787.2 125.7 L787.6 125.8 L788.0 126.0 L788.4 126.3 L788.8 126.5 L789.2 126.7 L789.6 127.0 L790.0 127.3 L790.4 127.6 L790.8 127.9 L791.2 128.2 L791.6 128.5 L792.0 128.8 L792.4 129.2 L792.8 129.5 L793.2 129.9 L793.6 130.2 L794.0 130.6 L794.4 131.0 L794.8 131.3 L795.2 131.7 L795.6 132.1 L796.0 132.5 L796.4 132.9 L796.8 133.2 L797.2 133.6 L797.6 134.0 L798.0 134.4 L798.4 134.8 L798.8 135.1 L799.2 135.5 L799.6 135.9 L800.0 136.3 L800.4 136.8 L800.8 137.2 L801.2 137.6 L801.6 138.1 L802.0 138.6 L802.4 139.0 L802.8 139.5 L803.2 140.0 L803.6 140.5 L804.0 141.0 L804.4 141.5 L804.8 142.0 L805.2 142.6 L805.6 143.1 L806.0 143.6 L806.4 144.2 L806.8 144.8 L807.2 145.3 L807.6 145.9 L808.0 146.5 L808.4 147.1 L808.8 147.7 L809.2 148.3 L809.6 148.9 L810.0 149.5 L810.4 150.1 L810.8 150.8 L811.2 151.5 L811.6 152.1 L812.0 152.8 L812.4 153.5 L812.8 154.2 L813.2 155.0 L813.6 155.7 L814.0 156.5 L814.4 157.2 L814.8 158.0 L815.2 158.8 L815.6 159.6 L816.0 160.5 L816.4 161.3 L816.8 162.2 L817.2 163.1 L817.6 163.9 L818.0 164.8 L818.4 165.8 L818.8 166.7 L819.2 167.6 L819.6 168.6 L820.0 169.7 L820.4 170.7 L820.8 171.8 L821.2 173.0 L821.6 174.1 L822.0 175.3 L822.4 176.5 L822.8 177.8 L823.2 179.0 L823.6 180.3 L824.0 181.6 L824.4 182.8 L824.8 184.1 L825.2 185.4 L825.6 186.7 L826.0 188.0 L826.4 189.3 L826.8 190.6 L827.2 191.9 L827.6 193.3 L828.0 194.6 L828.4 196.0 L828.8 197.4 L829.2 198.8 L829.6 200.2 L830.0 201.7 L830.4 203.2 L830.8 204.7 L831.2 206.3 L831.6 207.9 L832.0 209.5 L832.4 211.2 L832.8 212.9 L833.2 214.7 L833.6 216.5 L834.0 218.4 L834.4 220.3 L834.8 222.2 L835.2 224.3 L835.6 226.3 L836.0 228.4 L836.4 230.6 L836.8 232.9 L837.2 235.2 L837.6 237.5 L838.0 239.9 L838.4 242.5 L838.8 245.0 L839.2 247.7 L839.6 250.4 L840.0 253.3 L840.4 256.2 L840.8 259.2 L841.2 262.3 L841.6 265.5 L842.0 269.0 L842.4 272.8 L842.8 276.7 L843.2 280.7 L843.6 284.7 L844.0 288.8 L844.4 292.8 L844.8 296.7 L845.2 300.4 L845.6 304.2 L846.0 307.9 L846.4 311.7 L846.8 315.5 L847.2 319.4 L847.6 323.4 L848.0 327.7 L848.4 333.0 L848.8 337.4 L849.2 339.3 L849.6 340.8 L850.0 341.8 L850.4 342.0 L850.8 341.3 L851.2 340.0 L851.6 338.3 L852.0 336.4 L852.4 333.5 L852.8 330.0 L853.2 325.9 L853.6 321.7 L854.0 317.5 L854.4 313.5 L854.8 309.7 L855.2 306.0 L855.6 302.2 L856.0 298.4 L856.4 294.5 L856.8 290.7 L857.2 286.8 L857.6 282.9 L858.0 279.1 L858.4 275.2 L858.8 271.3 L859.2 267.4 L859.6 263.6 L860.0 259.7 L860.4 255.9 L860.8 252.1 L861.2 248.3 L861.6 244.5 L862.0 240.7 L862.4 237.0 L862.8 233.2 L863.2 229.4 L863.6 225.7 L864.0 221.9 L864.4 218.2 L864.8 214.5 L865.2 210.7 L865.6 206.9 L866.0 203.2 L866.4 199.3 L866.8 195.4 L867.2 191.4 L867.6 187.4 L868.0 183.4 L868.4 179.5 L868.8 175.7 L869.2 172.0 L869.6 168.6 L870.0 165.4 L870.4 162.3 L870.8 159.2 L871.2 156.1 L871.6 153.1 L872.0 150.2 L872.4 147.4 L872.8 144.7 L873.2 142.2 L873.6 139.8 L874.0 137.7 L874.4 135.8 L874.8 134.2 L875.2 132.8 L875.6 131.4 L876.0 130.1 L876.4 128.9 L876.8 127.7 L877.2 126.5 L877.6 125.5 L878.0 124.4 L878.4 123.4 L878.8 122.5 L879.2 121.6 L879.6 120.8 L880.0 120.0 L880.4 119.3 L880.8 118.7 L881.2 118.1 L881.6 117.5 L882.0 117.0 L882.4 116.6 L882.8 116.1 L883.2 115.7 L883.6 115.3 L884.0 114.9 L884.4 114.5 L884.8 114.1 L885.2 113.7 L885.6 113.4 L886.0 113.0 L886.4 112.7 L886.8 112.4 L887.2 112.2 L887.6 111.9 L888.0 111.7 L888.4 111.5 L888.8 111.3 L889.2 111.2 L889.6 111.1 L890.0 111.0 L890.4 111.0 L890.8 111.0 L891.2 111.0 L891.6 111.0 L892.0 111.0 L892.4 111.1 L892.8 111.1 L893.2 111.1 L893.6 111.2 L894.0 111.2 L894.4 111.2 L894.8 111.3 L895.2 111.3 L895.6 111.4 L896.0 111.4 L896.4 111.5 L896.8 111.6 L897.2 111.6 L897.6 111.7 L898.0 111.7 L898.4 111.8 L898.8 111.9 L899.2 112.0 L899.6 112.0 L900.0 112.1 L900.4 112.2 L900.8 112.3 L901.2 112.4 L901.6 112.6 L902.0 112.7 L902.4 112.9 L902.8 113.1 L903.2 113.4 L903.6 113.6 L904.0 113.9 L904.4 114.2 L904.8 114.5 L905.2 114.8 L905.6 115.2 L906.0 115.5 L906.4 115.9 L906.8 116.3 L907.2 116.6 L907.6 117.0 L908.0 117.4 L908.4 117.8 L908.8 118.2 L909.2 118.6 L909.6 119.1 L910.0 119.5 L910.4 119.9 L910.8 120.3 L911.2 120.7 L911.6 121.1 L912.0 121.5 L912.4 121.9 L912.8 122.3 L913.2 122.8 L913.6 123.2 L914.0 123.6 L914.4 124.1 L914.8 124.5 L915.2 125.0 L915.6 125.5 L916.0 126.0 L916.4 126.4 L916.8 127.0 L917.2 127.5 L917.6 128.0 L918.0 128.5 L918.4 129.1 L918.8 129.6 L919.2 130.2 L919.6 130.7 L920.0 131.3 L920.4 131.9 L920.8 132.5 L921.2 133.1 L921.6 133.7 L922.0 134.3 L922.4 134.9 L922.8 135.5 L923.2 136.1 L923.6 136.8 L924.0 137.4 L924.4 138.1 L924.8 138.7 L925.2 139.4 L925.6 140.1 L926.0 140.8 L926.4 141.6 L926.8 142.3 L927.2 143.0 L927.6 143.8 L928.0 144.6 L928.4 145.4 L928.8 146.2 L929.2 147.0 L929.6 147.8 L930.0 148.6 L930.4 149.5 L930.8 150.4 L931.2 151.2 L931.6 152.1 L932.0 153.0 L932.4 154.0 L932.8 154.9 L933.2 155.8 L933.6 156.8 L934.0 157.8 L934.4 158.8 L934.8 159.9 L935.2 161.0 L935.6 162.2 L936.0 163.3 L936.4 164.5 L936.8 165.7 L937.2 167.0 L937.6 168.2 L938.0 169.5 L938.4 170.7 L938.8 172.0 L939.2 173.3 L939.6 174.6 L940.0 175.9 L940.4 177.2 L940.8 178.5 L941.2 179.8 L941.6 181.1 L942.0 182.4 L942.4 183.7 L942.8 185.0 L943.2 186.4 L943.6 187.7 L944.0 189.1 L944.4 190.5 L944.8 191.9 L945.2 193.4 L945.6 194.9 L946.0 196.4 L946.4 197.9 L946.8 199.5 L947.2 201.1 L947.6 202.7 L948.0 204.4 L948.4 206.1 L948.8 207.8 L949.2 209.6 L949.6 211.4 L950.0 213.3 L950.4 215.2 L950.8 217.2 L951.2 219.2 L951.6 221.2 L952.0 223.3 L952.4 225.5 L952.8 227.6 L953.2 229.9 L953.6 232.2 L954.0 234.5 L954.4 236.9 L954.8 239.4 L955.2 241.9 L955.6 244.6 L956.0 247.2 L956.4 250.0 L956.8 252.8 L957.2 255.7 L957.6 258.6 L958.0 261.8 L958.4 265.1 L958.8 268.6 L959.2 272.2" stroke="#2a6fd2"/>
<path d="M135.2 158.3 L135.6 159.4 L136.0 160.5 L136.4 161.6 L136.8 162.8 L137.2 164.0 L137.6 165.2 L138.0 166.5 L138.4 167.8 L138.8 169.1 L139.2 170.4 L139.6 171.7 L140.0 173.1 L140.4 174.4 L140.8 175.8 L141.2 177.2 L141.6 178.5 L142.0 179.9 L142.4 181.3 L142.8 182.7 L143.2 184.1 L143.6 185.5 L144.0 186.9 L144.4 188.3 L144.8 189.8 L145.2 191.3 L145.6 192.8 L146.0 194.4 L146.4 196.0 L146.8 197.6 L147.2 199.2 L147.6 200.9 L148.0 202.7 L148.4 204.5 L148.8 206.3 L149.2 208.2 L149.6 210.1 L150.0 212.1 L150.4 214.1 L150.8 216.2 L151.2 218.3 L151.6 220.5 L152.0 222.7 L152.4 225.1 L152.8 227.4 L153.2 229.9 L153.6 232.4 L154.0 234.9 L154.4 237.6 L154.8 240.3 L155.2 243.1 L155.6 246.1 L156.0 249.0 L156.4 252.1 L156.8 255.3 L157.2 258.6 L157.6 262.1 L158.0 265.8 L158.4 269.7 L158.8 273.8 L159.2 278.1 L159.6 282.4 L160.0 286.7 L160.4 290.9 L160.8 295.0 L161.2 299.0 L161.6 303.0 L162.0 306.9 L162.4 310.9 L162.8 315.0 L163.2 319.1 L163.6 323.4 L164.0 327.9 L164.4 333.5 L164.8 338.1 L165.2 340.2 L165.6 341.8 L166.0 342.8 L166.4 343.0 L166.8 342.2 L167.2 340.8 L167.6 339.1 L168.0 337.0 L168.4 333.8 L168.8 330.0 L169.2 325.7 L169.6 321.2 L170.0 316.7 L170.4 312.6 L170.8 308.6 L171.2 304.6 L171.6 300.6 L172.0 296.6 L172.4 292.5 L172.8 288.4 L173.2 284.3 L173.6 280.3 L174.0 276.1 L174.4 272.0 L174.8 267.9 L175.2 263.8 L175.6 259.8 L176.0 255.7 L176.4 251.7 L176.8 247.6 L177.2 243.6 L177.6 239.6 L178.0 235.6 L178.4 231.7 L178.8 227.7 L179.2 223.7 L179.6 219.8 L180.0 215.8 L180.4 211.8 L180.8 207.9 L181.2 203.9 L181.6 199.9 L182.0 195.8 L182.4 191.7 L182.8 187.5 L183.2 183.2 L183.6 179.0 L184.0 174.9 L184.4 170.9 L184.8 167.0 L185.2 163.4 L185.6 160.0 L186.0 156.7 L186.4 153.4 L186.8 150.2 L187.2 147.0 L187.6 144.0 L188.0 141.0 L188.4 138.2 L188.8 135.6 L189.2 133.2 L189.6 131.0 L190.0 129.1 L190.4 127.5 L190.8 126.0 L191.2 124.6 L191.6 123.2 L192.0 121.9 L192.4 120.7 L192.8 119.5 L193.2 118.4 L193.6 117.3 L194.0 116.3 L194.4 115.4 L194.8 114.5 L195.2 113.6 L195.6 112.9 L196.0 112.1 L196.4 111.5 L196.8 110.9 L197.2 110.4 L197.6 109.9 L198.0 109.4 L198.4 109.0 L198.8 108.5 L199.2 108.1 L199.6 107.7 L200.0 107.3 L200.4 106.9 L200.8 106.5 L201.2 106.1 L201.6 105.8 L202.0 105.5 L202.4 105.2 L202.8 104.9 L203.2 104.7 L203.6 104.5 L204.0 104.3 L204.4 104.2 L204.8 104.1 L205.2 104.0 L205.6 104.0 L206.0 104.0 L206.4 104.0 L206.8 104.0 L207.2 104.1 L207.6 104.1 L208.0 104.1 L208.4 104.2 L208.8 104.2 L209.2 104.2 L209.6 104.3 L210.0 104.3 L210.4 104.4 L210.8 104.4 L211.2 104.5 L211.6 104.6 L212.0 104.6 L212.4 104.7 L212.8 104.8 L213.2 104.9 L213.6 104.9 L214.0 105.0 L214.4 105.1 L214.8 105.2 L215.2 105.3 L215.6 105.4 L216.0 105.5 L216.4 105.7 L216.8 105.9 L217.2 106.1 L217.6 106.3 L218.0 106.6 L218.4 106.9 L218.8 107.2 L219.2 107.5 L219.6 107.8 L220.0 108.2 L220.4 108.6 L220.8 109.0 L221.2 109.4 L221.6 109.8 L222.0 110.2 L222.4 110.6 L222.8 111.1 L223.2 111.5 L223.6 112.0 L224.0 112.4 L224.4 112.9 L224.8 113.4 L225.2 113.8 L225.6 114.3 L226.0 114.7 L226.4 115.2 L226.8 115.6 L227.2 116.1 L227.6 116.5 L228.0 117.0 L228.4 117.5 L228.8 118.0 L229.2 118.5 L229.6 119.0 L230.0 119.5 L230.4 120.1 L230.8 120.6 L231.2 121.2 L231.6 121.7 L232.0 122.3 L232.4 122.9 L232.8 123.5 L233.2 124.1 L233.6 124.7 L234.0 125.3 L234.4 126.0 L234.8 126.6 L235.2 127.3 L235.6 127.9 L236.0 128.6 L236.4 129.3 L236.8 129.9 L237.2 130.6 L237.6 131.3 L238.0 132.0 L238.4 132.8 L238.8 133.5 L239.2 134.2 L239.6 135.0 L240.0 135.8 L240.4 136.6 L240.8 137.4 L241.2 138.2 L241.6 139.0 L242.0 139.9 L242.4 140.7 L242.8 141.6 L243.2 142.5 L243.6 143.4 L244.0 144.3 L244.4 145.3 L244.8 146.2 L245.2 147.2 L245.6 148.2 L246.0 149.2 L246.4 150.2 L246.8 151.2 L247.2 152.3 L247.6 153.3 L248.0 154.4 L248.4 155.5 L248.8 156.7 L249.2 157.9 L249.6 159.2 L250.0 160.5 L250.4 161.8 L250.8 163.1 L251.2 164.5 L251.6 165.9 L252.0 167.3 L252.4 168.7 L252.8 170.1 L253.2 171.5 L253.6 173.0 L254.0 174.4 L254.4 175.8 L254.8 177.2 L255.2 178.7 L255.6 180.1 L256.0 181.6 L256.4 183.0 L256.8 184.5 L257.2 186.0 L257.6 187.5 L258.0 189.0 L258.4 190.6 L258.8 192.2 L259.2 193.8 L259.6 195.4 L260.0 197.1 L260.4 198.8 L260.8 200.6 L261.2 202.4 L261.6 204.2 L262.0 206.1 L262.4 208.0 L262.8 209.9 L263.2 211.9 L263.6 214.0 L264.0 216.1 L264.4 218.2 L264.8 220.4 L265.2 222.7 L265.6 225.0 L266.0 227.3 L266.4 229.7 L266.8 232.2 L267.2 234.7 L267.6 237.3 L268.0 239.9 L268.4 242.7 L268.8 245.5 L269.2 248.3 L269.6 251.3 L270.0 254.3 L270.4 257.4 L270.8 260.6 L271.2 263.9 L271.6 267.3 L272.0 271.0 L272.4 274.9 L272.8 278.9 L273.2 283.0 L273.6 287.2 L274.0 291.3 L274.4 295.4 L274.8 299.3 L275.2 303.2 L275.6 306.9 L276.0 310.7 L276.4 314.4 L276.8 318.1 L277.2 321.8 L277.6 325.6 L278.0 329.5 L278.4 333.4 L278.8 337.8 L279.2 342.8 L279.6 347.1 L280.0 349.2 L280.4 350.7 L280.8 351.9 L281.2 352.7 L281.6 353.0 L282.0 353.0 L282.4 352.2 L282.8 350.8 L283.2 349.0 L283.6 346.9 L284.0 343.7 L284.4 339.8 L284.8 335.4 L285.2 330.9 L285.6 326.4 L286.0 322.4 L286.4 318.4 L286.8 314.4 L287.2 310.3 L287.6 306.3 L288.0 302.2 L288.4 298.1 L288.8 294.0 L289.2 289.9 L289.6 285.7 L290.0 281.6 L290.4 277.5 L290.8 273.4 L291.2 269.3 L291.6 265.2 L292.0 261.2 L292.4 257.1 L292.8 253.1 L293.2 249.1 L293.6 245.1 L294.0 241.1 L294.4 237.2 L294.8 233.2 L295.2 229.2 L295.6 225.2 L296.0 221.2 L296.4 217.2 L296.8 213.3 L297.2 209.2 L297.6 205.1 L298.0 200.9 L298.4 196.6 L298.8 192.4 L299.2 188.2 L299.6 184.1 L300.0 180.2 L300.4 176.4 L300.8 172.9 L301.2 169.6 L301.6 166.3 L302.0 163.1 L302.4 159.8 L302.8 156.7 L303.2 153.7 L303.6 150.8 L304.0 148.1 L304.4 145.6 L304.8 143.4 L305.2 141.4 L305.6 139.7 L306.0 138.2 L306.4 136.8 L306.8 135.4 L307.2 134.1 L307.6 132.8 L308.0 131.6 L308.4 130.5 L308.8 129.4 L309.2 128.4 L309.6 127.4 L310.0 126.5 L310.4 125.7 L310.8 124.9 L311.2 124.1 L311.6 123.5 L312.0 122.9 L312.4 122.3 L312.8 121.8 L313.2 121.4 L313.6 120.9 L314.0 120.5 L314.4 120.1 L314.8 119.6 L315.2 119.2 L315.6 118.8 L316.0 118.4 L316.4 118.1 L316.8 117.8 L317.2 117.4 L317.6 117.2 L318.0 116.9 L318.4 116.7 L318.8 116.5 L319.2 116.3 L319.6 116.2 L320.0 116.1 L320.4 116.0 L320.8 116.0 L321.2 116.0 L321.6 116.0 L322.0 116.0 L322.4 116.0 L322.8 116.0 L323.2 116.1 L323.6 116.1 L324.0 116.1 L324.4 116.1 L324.8 116.2 L325.2 116.2 L325.6 116.3 L326.0 116.3 L326.4 116.3 L326.8 116.4 L327.2 116.4 L327.6 116.5 L328.0 116.5 L328.4 116.6 L328.8 116.6 L329.2 116.7 L329.6 116.8 L330.0 116.8 L330.4 116.9 L330.8 117.0 L331.2 117.0 L331.6 117.1 L332.0 117.2 L332.4 117.3 L332.8 117.4 L333.2 117.5 L333.6 117.7 L334.0 117.9 L334.4 118.1 L334.8 118.3 L335.2 118.5 L335.6 118.8 L336.0 119.1 L336.4 119.3 L336.8 119.6 L337.2 120.0 L337.6 120.3 L338.0 120.6 L338.4 121.0 L338.8 121.3 L339.2 121.7 L339.6 122.1 L340.0 122.5 L340.4 122.8 L340.8 123.2 L341.2 123.6 L341.6 124.0 L342.0 124.4 L342.4 124.8 L342.8 125.2 L343.2 125.6 L343.6 126.0 L344.0 126.4 L344.4 126.8 L344.8 127.2 L345.2 127.6 L345.6 128.0 L346.0 128.5 L346.4 128.9 L346.8 129.3 L347.2 129.8 L347.6 130.3 L348.0 130.7 L348.4 131.2 L348.8 131.7 L349.2 132.2 L349.6 132.7 L350.0 133.3 L350.4 133.8 L350.8 134.3 L351.2 134.9 L351.6 135.4 L352.0 136.0 L352.4 136.6 L352.8 137.2 L353.2 137.8 L353.6 138.4 L354.0 139.0 L354.4 139.6 L354.8 140.2 L355.2 140.9 L355.6 141.5 L356.0 142.1 L356.4 142.8 L356.8 143.5 L357.2 144.2 L357.6 144.9 L358.0 145.6 L358.4 146.3 L358.8 147.1 L359.2 147.8 L359.6 148.6 L360.0 149.4 L360.4 150.2 L360.8 151.0 L361.2 151.9 L361.6 152.7 L362.0 153.6 L362.4 154.5 L362.8 155.4 L363.2 156.3 L363.6 157.2 L364.0 158.1 L364.4 159.1 L364.8 160.1 L365.2 161.1 L365.6 162.1 L366.0 163.2 L366.4 164.3 L366.8 165.4 L367.2 166.6 L367.6 167.8 L368.0 169.1 L368.4 170.3 L368.8 171.6 L369.2 173.0 L369.6 174.3 L370.0 175.6 L370.4 177.0 L370.8 178.3 L371.2 179.7 L371.6 181.0 L372.0 182.4 L372.4 183.8 L372.8 185.1 L373.2 186.5 L373.6 187.9 L374.0 189.3 L374.4 190.8 L374.8 192.2 L375.2 193.7 L375.6 195.2 L376.0 196.8 L376.4 198.4 L376.8 200.0 L377.2 201.6 L377.6 203.3 L378.0 205.0 L378.4 206.8 L378.8 208.6 L379.2 210.5 L379.6 212.4 L380.0 214.3 L380.4 216.4 L380.8 218.4 L381.2 220.6 L381.6 222.7 L382.0 225.0 L382.4 227.3 L382.8 229.6 L383.2 232.1 L383.6 234.6 L384.0 237.1 L384.4 239.8 L384.8 242.5 L385.2 245.3 L385.6 248.2 L386.0 251.2 L386.4 254.3 L386.8 257.5 L387.2 260.8 L387.6 264.3 L388.0 268.0 L388.4 272.0 L388.8 276.2 L389.2 280.4 L389.6 284.7 L390.0 289.0 L390.4 293.1 L390.8 297.2 L391.2 301.1 L391.6 305.1 L392.0 309.0 L392.4 313.0 L392.8 317.1 L393.2 321.2 L393.6 325.5 L394.0 330.5 L394.4 336.0 L394.8 339.3 L395.2 341.0 L395.6 342.3 L396.0 343.0 L396.4 342.7 L396.8 341.6 L397.2 340.0 L397.6 338.1 L398.0 335.5 L398.4 331.9 L398.8 327.8 L399.2 323.3 L399.6 318.8 L400.0 314.5 L400.4 310.5 L400.8 306.5 L401.2 302.5 L401.6 298.5 L402.0 294.4 L402.4 290.3 L402.8 286.2 L403.2 282.1 L403.6 278.0 L404.0 273.9 L404.4 269.8 L404.8 265.7 L405.2 261.6 L405.6 257.5 L406.0 253.4 L406.4 249.4 L406.8 245.4 L407.2 241.4 L407.6 237.4 L408.0 233.4 L408.4 229.4 L408.8 225.4 L409.2 221.5 L409.6 217.5 L410.0 213.5 L410.4 209.5 L410.8 205.6 L411.2 201.6 L411.6 197.5 L412.0 193.4 L412.4 189.2 L412.8 184.9 L413.2 180.7 L413.6 176.5 L414.0 172.5 L414.4 168.6 L414.8 164.9 L415.2 161.4 L415.6 158.1 L416.0 154.9 L416.4 151.6 L416.8 148.4 L417.2 145.3 L417.6 142.4 L418.0 139.5 L418.4 136.8 L418.8 134.4 L419.2 132.2 L419.6 130.2 L420.0 128.6 L420.4 127.1 L420.8 125.7 L421.2 124.3 L421.6 123.0 L422.0 121.8 L422.4 120.6 L422.8 119.4 L423.2 118.4 L423.6 117.3 L424.0 116.4 L424.4 115.5 L424.8 114.6 L425.2 113.9 L425.6 113.1 L426.0 112.5 L426.4 111.9 L426.8 111.3 L427.2 110.9 L427.6 110.4 L428.0 110.0 L428.4 109.5 L428.8 109.1 L429.2 108.6 L429.6 108.2 L430.0 107.8 L430.4 107.5 L430.8 107.1 L431.2 106.8 L431.6 106.5 L432.0 106.2 L432.4 105.9 L432.8 105.7 L433.2 105.5 L433.6 105.3 L434.0 105.2 L434.4 105.1 L434.8 105.0 L435.2 105.0 L435.6 105.0 L436.0 105.0 L436.4 105.0 L436.8 105.1 L437.2 105.1 L437.6 105.1 L438.0 105.2 L438.4 105.2 L438.8 105.2 L439.2 105.3 L439.6 105.3 L440.0 105.4 L440.4 105.5 L440.8 105.5 L441.2 105.6 L441.6 105.7 L442.0 105.7 L442.4 105.8 L442.8 105.9 L443.2 105.9 L443.6 106.0 L444.0 106.1 L444.4 106.2 L444.8 106.3 L445.2 106.4 L445.6 106.5 L446.0 106.7 L446.4 106.9 L446.8 107.1 L447.2 107.4 L447.6 107.7 L448.0 108.0 L448.4 108.3 L448.8 108.6 L449.2 109.0 L449.6 109.3 L450.0 109.7 L450.4 110.1 L450.8 110.5 L451.2 110.9 L451.6 111.3 L452.0 111.8 L452.4 112.2 L452.8 112.7 L453.2 113.1 L453.6 113.6 L454.0 114.1 L454.4 114.5 L454.8 115.0 L455.2 115.4 L455.6 115.9 L456.0 116.3 L456.4 116.8 L456.8 117.2 L457.2 117.7 L457.6 118.2 L458.0 118.7 L458.4 119.2 L458.8 119.7 L459.2 120.2 L459.6 120.7 L460.0 121.3 L460.4 121.8 L460.8 122.4 L461.2 123.0 L461.6 123.5 L462.0 124.1 L462.4 124.7 L462.8 125.4 L463.2 126.0 L463.6 126.6 L464.0 127.2 L464.4 127.9 L464.8 128.6 L465.2 129.2 L465.6 129.9 L466.0 130.6 L466.4 131.3 L466.8 132.0 L467.2 132.7 L467.6 133.4 L468.0 134.1 L468.4 134.8 L468.8 135.6 L469.2 136.4 L469.6 137.2 L470.0 138.0 L470.4 138.8 L470.8 139.6 L471.2 140.5 L471.6 141.3 L472.0 142.2 L472.4 143.1 L472.8 144.0 L473.2 144.9 L473.6 145.8 L474.0 146.8 L474.4 147.8 L474.8 148.7 L475.2 149.7 L475.6 150.7 L476.0 151.8 L476.4 152.8 L476.8 153.9 L477.2 155.0 L477.6 156.1 L478.0 157.3 L478.4 158.5 L478.8 159.7 L479.2 161.0 L479.6 162.3 L480.0 163.7 L480.4 165.0 L480.8 166.4 L481.2 167.8 L481.6 169.2 L482.0 170.6 L482.4 172.1 L482.8 173.5 L483.2 174.9 L483.6 176.3 L484.0 177.8 L484.4 179.2 L484.8 180.6 L485.2 182.1 L485.6 183.6 L486.0 185.0 L486.4 186.5 L486.8 188.1 L487.2 189.6 L487.6 191.1 L488.0 192.7 L488.4 194.4 L488.8 196.0 L489.2 197.7 L489.6 199.4 L490.0 201.1 L490.4 202.9 L490.8 204.8 L491.2 206.6 L491.6 208.5 L492.0 210.5 L492.4 212.5 L492.8 214.6 L493.2 216.7 L493.6 218.8 L494.0 221.0 L494.4 223.3 L494.8 225.6 L495.2 227.9 L495.6 230.3 L496.0 232.8 L496.4 235.3 L496.8 237.9 L497.2 240.6 L497.6 243.3 L498.0 246.1 L498.4 249.0 L498.8 252.0 L499.2 255.0 L499.6 258.1 L500.0 261.3 L500.4 264.6 L500.8 268.1 L501.2 271.8 L501.6 275.7 L502.0 279.8 L502.4 283.9 L502.8 288.0 L503.2 292.2 L503.6 296.2 L504.0 300.2 L504.4 304.0 L504.8 307.8 L505.2 311.5 L505.6 315.2 L506.0 319.0 L506.4 322.7 L506.8 326.5 L507.2 330.4 L507.6 334.4 L508.0 338.9 L508.4 343.9 L508.8 347.8 L509.2 349.6 L509.6 351.0 L510.0 352.1 L510.4 352.8 L510.8 353.0 L511.2 352.9 L511.6 352.0 L512.0 350.5 L512.4 348.8 L512.8 346.5 L513.2 343.2 L513.6 339.4 L514.0 335.1 L514.4 330.7 L514.8 326.4 L515.2 322.5 L515.6 318.6 L516.0 314.8 L516.4 310.8 L516.8 306.9 L517.2 303.0 L517.6 299.0 L518.0 295.0 L518.4 291.0 L518.8 287.0 L519.2 283.0 L519.6 279.0 L520.0 275.1 L520.4 271.1 L520.8 267.2 L521.2 263.2 L521.6 259.3 L522.0 255.4 L522.4 251.5 L522.8 247.7 L523.2 243.8 L523.6 239.9 L524.0 236.1 L524.4 232.2 L524.8 228.4 L525.2 224.5 L525.6 220.7 L526.0 216.8 L526.4 212.9 L526.8 208.9 L527.2 204.9 L527.6 200.8 L528.0 196.7 L528.4 192.6 L528.8 188.6 L529.2 184.7 L529.6 181.0 L530.0 177.4 L530.4 174.2 L530.8 171.0 L531.2 167.8 L531.6 164.7 L532.0 161.6 L532.4 158.6 L532.8 155.8 L533.2 153.1 L533.6 150.5 L534.0 148.2 L534.4 146.1 L534.8 144.3 L535.2 142.7 L535.6 141.3 L536.0 140.0 L536.4 138.6 L536.8 137.4 L537.2 136.2 L537.6 135.0 L538.0 134.0 L538.4 132.9 L538.8 131.9 L539.2 131.0 L539.6 130.2 L540.0 129.3 L540.4 128.6 L540.8 127.9 L541.2 127.3 L541.6 126.7 L542.0 126.2 L542.4 125.7 L542.8 125.3 L543.2 124.8 L543.6 124.4 L544.0 124.0 L544.4 123.6 L544.8 123.2 L545.2 122.8 L545.6 122.4 L546.0 122.1 L546.4 121.7 L546.8 121.4 L547.2 121.2 L547.6 120.9 L548.0 120.7 L548.4 120.5 L548.8 120.3 L549.2 120.2 L549.6 120.1 L550.0 120.0 L550.4 120.0 L550.8 120.0 L551.2 120.0 L551.6 120.0 L552.0 120.0 L552.4 120.0 L552.8 120.1 L553.2 120.1 L553.6 120.1 L554.0 120.1 L554.4 120.2 L554.8 120.2 L555.2 120.2 L555.6 120.3 L556.0 120.3 L556.4 120.4 L556.8 120.4 L557.2 120.4 L557.6 120.5 L558.0 120.5 L558.4 120.6 L558.8 120.7 L559.2 120.7 L559.6 120.8 L560.0 120.8 L560.4 120.9 L560.8 121.0 L561.2 121.0 L561.6 121.1 L562.0 121.2 L562.4 121.3 L562.8 121.4 L563.2 121.5 L563.6 121.7 L564.0 121.9 L564.4 122.1 L564.8 122.3 L565.2 122.5 L565.6 122.8 L566.0 123.1 L566.4 123.3 L566.8 123.6 L567.2 123.9 L567.6 124.3 L568.0 124.6 L568.4 124.9 L568.8 125.3 L569.2 125.6 L569.6 126.0 L570.0 126.3 L570.4 126.7 L570.8 127.1 L571.2 127.5 L571.6 127.9 L572.0 128.2 L572.4 128.6 L572.8 129.0 L573.2 129.4 L573.6 129.8 L574.0 130.2 L574.4 130.5 L574.8 130.9 L575.2 131.3 L575.6 131.7 L576.0 132.1 L576.4 132.5 L576.8 133.0 L577.2 133.4 L577.6 133.9 L578.0 134.3 L578.4 134.8 L578.8 135.3 L579.2 135.7 L579.6 136.2 L580.0 136.7 L580.4 137.3 L580.8 137.8 L581.2 138.3 L581.6 138.8 L582.0 139.4 L582.4 139.9 L582.8 140.5 L583.2 141.1 L583.6 141.6 L584.0 142.2 L584.4 142.8 L584.8 143.4 L585.2 144.0 L585.6 144.6 L586.0 145.2 L586.4 145.9 L586.8 146.5 L587.2 147.2 L587.6 147.9 L588.0 148.5 L588.4 149.2 L588.8 149.9 L589.2 150.7 L589.6 151.4 L590.0 152.2 L590.4 152.9 L590.8 153.7 L591.2 154.5 L591.6 155.3 L592.0 156.1 L592.4 157.0 L592.8 157.8 L593.2 158.7 L593.6 159.6 L594.0 160.5 L594.4 161.4 L594.8 162.3 L595.2 163.3 L595.6 164.2 L596.0 165.2 L596.4 166.3 L596.8 167.3 L597.2 168.4 L597.6 169.6 L598.0 170.8 L598.4 172.0 L598.8 173.2 L599.2 174.4 L599.6 175.7 L600.0 177.0 L600.4 178.3 L600.8 179.6 L601.2 180.9 L601.6 182.2 L602.0 183.5 L602.4 184.8 L602.8 186.1 L603.2 187.4 L603.6 188.8 L604.0 190.1 L604.4 191.5 L604.8 192.9 L605.2 194.3 L605.6 195.7 L606.0 197.1 L606.4 198.6 L606.8 200.1 L607.2 201.7 L607.6 203.2 L608.0 204.9 L608.4 206.5 L608.8 208.2 L609.2 209.9 L609.6 211.7 L610.0 213.5 L610.4 215.4 L610.8 217.3 L611.2 219.3 L611.6 221.3 L612.0 223.4 L612.4 225.5 L612.8 227.7 L613.2 230.0 L613.6 232.3 L614.0 234.7 L614.4 237.1 L614.8 239.6 L615.2 242.2 L615.6 244.9 L616.0 247.6 L616.4 250.5 L616.8 253.4 L617.2 256.4 L617.6 259.5 L618.0 262.7 L618.4 266.1 L618.8 269.8 L619.2 273.7 L619.6 277.7 L620.0 281.9 L620.4 286.0 L620.8 290.1 L621.2 294.1 L621.6 297.9 L622.0 301.8 L622.4 305.5 L622.8 309.3 L623.2 313.2 L623.6 317.1 L624.0 321.1 L624.4 325.3 L624.8 330.2 L625.2 335.4 L625.6 338.4 L626.0 340.1 L626.4 341.4 L626.8 342.0 L627.2 341.7 L627.6 340.6 L628.0 339.0 L628.4 337.2 L628.8 334.7 L629.2 331.2 L629.6 327.2 L630.0 322.8 L630.4 318.4 L630.8 314.1 L631.2 310.2 L631.6 306.3 L632.0 302.3 L632.4 298.4 L632.8 294.4 L633.2 290.4 L633.6 286.3 L634.0 282.3 L634.4 278.3 L634.8 274.2 L635.2 270.2 L635.6 266.1 L636.0 262.1 L636.4 258.1 L636.8 254.1 L637.2 250.1 L637.6 246.2 L638.0 242.2 L638.4 238.3 L638.8 234.4 L639.2 230.5 L639.6 226.6 L640.0 222.6 L640.4 218.7 L640.8 214.8 L641.2 210.9 L641.6 207.0 L642.0 203.1 L642.4 199.2 L642.8 195.1 L643.2 191.0 L643.6 186.9 L644.0 182.7 L644.4 178.6 L644.8 174.5 L645.2 170.6 L645.6 166.8 L646.0 163.3 L646.4 160.0 L646.8 156.8 L647.2 153.5 L647.6 150.4 L648.0 147.3 L648.4 144.2 L648.8 141.3 L649.2 138.6 L649.6 136.0 L650.0 133.7 L650.4 131.6 L650.8 129.7 L651.2 128.1 L651.6 126.7 L652.0 125.3 L652.4 124.0 L652.8 122.7 L653.2 121.5 L653.6 120.3 L654.0 119.2 L654.4 118.2 L654.8 117.2 L655.2 116.3 L655.6 115.4 L656.0 114.6 L656.4 113.8 L656.8 113.1 L657.2 112.4 L657.6 111.8 L658.0 111.3 L658.4 110.8 L658.8 110.4 L659.2 109.9 L659.6 109.5 L660.0 109.1 L660.4 108.7 L660.8 108.3 L661.2 107.9 L661.6 107.5 L662.0 107.1 L662.4 106.8 L662.8 106.5 L663.2 106.2 L663.6 106.0 L664.0 105.7 L664.4 105.5 L664.8 105.3 L665.2 105.2 L665.6 105.1 L666.0 105.0 L666.4 105.0 L666.8 105.0 L667.2 105.0 L667.6 105.0 L668.0 105.0 L668.4 105.1 L668.8 105.1 L669.2 105.1 L669.6 105.2 L670.0 105.2 L670.4 105.2 L670.8 105.3 L671.2 105.3 L671.6 105.4 L672.0 105.4 L672.4 105.5 L672.8 105.6 L673.2 105.6 L673.6 105.7 L674.0 105.8 L674.4 105.8 L674.8 105.9 L675.2 106.0 L675.6 106.0 L676.0 106.1 L676.4 106.2 L676.8 106.3 L677.2 106.4 L677.6 106.6 L678.0 106.7 L678.4 106.9 L678.8 107.2 L679.2 107.4 L679.6 107.7 L680.0 108.0 L680.4 108.3 L680.8 108.6 L681.2 108.9 L681.6 109.3 L682.0 109.6 L682.4 110.0 L682.8 110.4 L683.2 110.8 L683.6 111.2 L684.0 111.6 L684.4 112.0 L684.8 112.4 L685.2 112.8 L685.6 113.3 L686.0 113.7 L686.4 114.1 L686.8 114.5 L687.2 115.0 L687.6 115.4 L688.0 115.8 L688.4 116.2 L688.8 116.7 L689.2 117.1 L689.6 117.5 L690.0 118.0 L690.4 118.5 L690.8 118.9 L691.2 119.4 L691.6 119.9 L692.0 120.4 L692.4 120.9 L692.8 121.4 L693.2 122.0 L693.6 122.5 L694.0 123.1 L694.4 123.6 L694.8 124.2 L695.2 124.8 L695.6 125.4 L696.0 126.0 L696.4 126.6 L696.8 127.2 L697.2 127.8 L697.6 128.4 L698.0 129.1 L698.4 129.7 L698.8 130.4 L699.2 131.0 L699.6 131.7 L700.0 132.4 L700.4 133.1 L700.8 133.8 L701.2 134.5 L701.6 135.2 L702.0 135.9 L702.4 136.7 L702.8 137.5 L703.2 138.3 L703.6 139.0 L704.0 139.9 L704.4 140.7 L704.8 141.5 L705.2 142.4 L705.6 143.2 L706.0 144.1 L706.4 145.0 L706.8 145.9 L707.2 146.9 L707.6 147.8 L708.0 148.8 L708.4 149.7 L708.8 150.7 L709.2 151.7 L709.6 152.8 L710.0 153.8 L710.4 154.9 L710.8 156.1 L711.2 157.3 L711.6 158.5 L712.0 159.7 L712.4 161.0 L712.8 162.3 L713.2 163.6 L713.6 164.9 L714.0 166.2 L714.4 167.6 L714.8 168.9 L715.2 170.3 L715.6 171.6 L716.0 173.0 L716.4 174.3 L716.8 175.7 L717.2 177.0 L717.6 178.4 L718.0 179.8 L718.4 181.2 L718.8 182.6 L719.2 184.0 L719.6 185.5 L720.0 187.0 L720.4 188.5 L720.8 190.0 L721.2 191.6 L721.6 193.2 L722.0 194.8 L722.4 196.4 L722.8 198.1 L723.2 199.8 L723.6 201.6 L724.0 203.4 L724.4 205.3 L724.8 207.2 L725.2 209.1 L725.6 211.1 L726.0 213.2 L726.4 215.2 L726.8 217.4 L727.2 219.6 L727.6 221.8 L728.0 224.1 L728.4 226.4 L728.8 228.8 L729.2 231.3 L729.6 233.8 L730.0 236.4 L730.4 239.1 L730.8 241.8 L731.2 244.6 L731.6 247.5 L732.0 250.5 L732.4 253.5 L732.8 256.6 L733.2 259.9 L733.6 263.4 L734.0 267.2 L734.4 271.0 L734.8 274.9 L735.2 278.9 L735.6 282.9 L736.0 286.8 L736.4 290.7 L736.8 294.4 L737.2 298.0 L737.6 301.6 L738.0 305.2 L738.4 308.8 L738.8 312.5 L739.2 316.1 L739.6 319.9 L740.0 323.7 L740.4 328.0 L740.8 333.0 L741.2 336.8 L741.6 338.7 L742.0 340.1 L742.4 341.2 L742.8 341.8 L743.2 342.0 L743.6 341.7 L744.0 340.7 L744.4 339.2 L744.8 337.6 L745.2 335.2 L745.6 331.9 L746.0 328.2 L746.4 324.1 L746.8 320.0 L747.2 316.1 L747.6 312.4 L748.0 308.8 L748.4 305.1 L748.8 301.5 L749.2 297.8 L749.6 294.0 L750.0 290.3 L750.4 286.6 L750.8 282.8 L751.2 279.1 L751.6 275.3 L752.0 271.6 L752.4 267.9 L752.8 264.1 L753.2 260.4 L753.6 256.8 L754.0 253.1 L754.4 249.4 L754.8 245.8 L755.2 242.2 L755.6 238.5 L756.0 234.9 L756.4 231.3 L756.8 227.7 L757.2 224.1 L757.6 220.4 L758.0 216.8 L758.4 213.2 L758.8 209.5 L759.2 205.8 L759.6 201.9 L760.0 198.0 L760.4 194.2 L760.8 190.4 L761.2 186.7 L761.6 183.1 L762.0 179.7 L762.4 176.4 L762.8 173.4 L763.2 170.5 L763.6 167.5 L764.0 164.6 L764.4 161.7 L764.8 159.0 L765.2 156.3 L765.6 153.9 L766.0 151.6 L766.4 149.5 L766.8 147.6 L767.2 146.0 L767.6 144.7 L768.0 143.3 L768.4 142.1 L768.8 140.9 L769.2 139.7 L769.6 138.6 L770.0 137.6 L770.4 136.6 L770.8 135.6 L771.2 134.7 L771.6 133.9 L772.0 133.1 L772.4 132.4 L772.8 131.7 L773.2 131.1 L773.6 130.5 L774.0 130.0 L774.4 129.5 L774.8 129.1 L775.2 128.7 L775.6 128.3 L776.0 127.9 L776.4 127.5 L776.8 127.1 L777.2 126.8 L777.6 126.4 L778.0 126.1 L778.4 125.8 L778.8 125.5 L779.2 125.2 L779.6 124.9 L780.0 124.7 L780.4 124.5 L780.8 124.4 L781.2 124.2 L781.6 124.1 L782.0 124.0 L782.4 124.0 L782.8 124.0 L783.2 124.0 L783.6 124.0 L784.0 124.0 L784.4 124.0 L784.8 124.1 L785.2 124.1 L785.6 124.1 L786.0 124.1 L786.4 124.1 L786.8 124.2 L787.2 124.2 L787.6 124.2 L788.0 124.3 L788.4 124.3 L788.8 124.4 L789.2 124.4 L789.6 124.5 L790.0 124.5 L790.4 124.6 L790.8 124.6 L791.2 124.7 L791.6 124.7 L792.0 124.8 L792.4 124.9 L792.8 124.9 L793.2 125.0 L793.6 125.1 L794.0 125.1 L794.4 125.2 L794.8 125.3 L795.2 125.5 L795.6 125.6 L796.0 125.8 L796.4 126.0 L796.8 126.2 L797.2 126.4 L797.6 126.6 L798.0 126.9 L798.4 127.2 L798.8 127.5 L799.2 127.7 L799.6 128.1 L800.0 128.4 L800.4 128.7 L800.8 129.0 L801.2 129.4 L801.6 129.7 L802.0 130.1 L802.4 130.4 L802.8 130.8 L803.2 131.2 L803.6 131.6 L804.0 131.9 L804.4 132.3 L804.8 132.7 L805.2 133.1 L805.6 133.4 L806.0 133.8 L806.4 134.2 L806.8 134.6 L807.2 134.9 L807.6 135.3 L808.0 135.7 L808.4 136.1 L808.8 136.5 L809.2 137.0 L809.6 137.4 L810.0 137.9 L810.4 138.3 L810.8 138.8 L811.2 139.2 L811.6 139.7 L812.0 140.2 L812.4 140.7 L812.8 141.2 L813.2 141.7 L813.6 142.3 L814.0 142.8 L814.4 143.3 L814.8 143.9 L815.2 144.4 L815.6 145.0 L816.0 145.5 L816.4 146.1 L816.8 146.7 L817.2 147.3 L817.6 147.9 L818.0 148.5 L818.4 149.1 L818.8 149.7 L819.2 150.4 L819.6 151.0 L820.0 151.7 L820.4 152.4 L820.8 153.1 L821.2 153.8 L821.6 154.5 L822.0 155.2 L822.4 156.0 L822.8 156.8 L823.2 157.5 L823.6 158.3 L824.0 159.1 L824.4 159.9 L824.8 160.8 L825.2 161.6 L825.6 162.5 L826.0 163.4 L826.4 164.2 L826.8 165.1 L827.2 166.1 L827.6 167.0 L828.0 168.0 L828.4 169.0 L828.8 170.0 L829.2 171.1 L829.6 172.2 L830.0 173.4 L830.4 174.6 L830.8 175.8 L831.2 177.0 L831.6 178.2 L832.0 179.5 L832.4 180.7 L832.8 182.0 L833.2 183.3 L833.6 184.5 L834.0 185.8 L834.4 187.1 L834.8 188.4 L835.2 189.7 L835.6 191.0 L836.0 192.3 L836.4 193.6 L836.8 195.0 L837.2 196.4 L837.6 197.7 L838.0 199.2 L838.4 200.6 L838.8 202.1 L839.2 203.6 L839.6 205.1 L840.0 206.7 L840.4 208.3 L840.8 210.0 L841.2 211.7 L841.6 213.4 L842.0 215.2 L842.4 217.0 L842.8 218.9 L843.2 220.8 L843.6 222.8 L844.0 224.9 L844.4 227.0 L844.8 229.1 L845.2 231.3 L845.6 233.6 L846.0 235.9 L846.4 238.3 L846.8 240.7 L847.2 243.3 L847.6 245.9 L848.0 248.6 L848.4 251.4 L848.8 254.2 L849.2 257.2 L849.6 260.3 L850.0 263.4 L850.4 266.8 L850.8 270.5 L851.2 274.3 L851.6 278.2 L852.0 282.2 L852.4 286.3 L852.8 290.3 L853.2 294.1 L853.6 297.9 L854.0 301.6 L854.4 305.3 L854.8 309.0 L855.2 312.8 L855.6 316.6 L856.0 320.6 L856.4 324.7 L856.8 329.8 L857.2 334.6 L857.6 336.9 L858.0 338.5 L858.4 339.6 L858.8 340.0 L859.2 339.5 L859.6 338.4 L860.0 336.8 L860.4 335.0 L860.8 332.4 L861.2 329.0 L861.6 325.1 L862.0 320.9 L862.4 316.6 L862.8 312.6 L863.2 308.9 L863.6 305.1 L864.0 301.4 L864.4 297.6 L864.8 293.8 L865.2 290.0 L865.6 286.1 L866.0 282.3 L866.4 278.4 L866.8 274.6 L867.2 270.7 L867.6 266.9 L868.0 263.0 L868.4 259.2 L868.8 255.4 L869.2 251.6 L869.6 247.8 L870.0 244.1 L870.4 240.3 L870.8 236.6 L871.2 232.8 L871.6 229.1 L872.0 225.4 L872.4 221.7 L872.8 217.9 L873.2 214.2 L873.6 210.5 L874.0 206.7 L874.4 203.0 L874.8 199.2 L875.2 195.3 L875.6 191.3 L876.0 187.4 L876.4 183.4 L876.8 179.5 L877.2 175.7 L877.6 172.0 L878.0 168.6 L878.4 165.3 L878.8 162.2 L879.2 159.1 L879.6 156.1 L880.0 153.1 L880.4 150.2 L880.8 147.3 L881.2 144.6 L881.6 142.1 L882.0 139.7 L882.4 137.5 L882.8 135.6 L883.2 133.9 L883.6 132.5 L884.0 131.1 L884.4 129.8 L884.8 128.6 L885.2 127.4 L885.6 126.2 L886.0 125.1 L886.4 124.1 L886.8 123.1 L887.2 122.2 L887.6 121.3 L888.0 120.4 L888.4 119.7 L888.8 118.9 L889.2 118.3 L889.6 117.7 L890.0 117.1 L890.4 116.6 L890.8 116.1 L891.2 115.7 L891.6 115.3 L892.0 114.9 L892.4 114.5 L892.8 114.1 L893.2 113.7 L893.6 113.3 L894.0 113.0 L894.4 112.6 L894.8 112.3 L895.2 112.0 L895.6 111.7 L896.0 111.5 L896.4 111.2 L896.8 111.0 L897.2 110.9 L897.6 110.7 L898.0 110.6 L898.4 110.5 L898.8 110.5 L899.2 110.5 L899.6 110.5 L900.0 110.5 L900.4 110.5 L900.8 110.6 L901.2 110.6 L901.6 110.6 L902.0 110.7 L902.4 110.7 L902.8 110.7 L903.2 110.8 L903.6 110.8 L904.0 110.9 L904.4 110.9 L904.8 111.0 L905.2 111.0 L905.6 111.1 L906.0 111.2 L906.4 111.2 L906.8 111.3 L907.2 111.4 L907.6 111.4 L908.0 111.5 L908.4 111.6 L908.8 111.7 L909.2 111.8 L909.6 111.9 L910.0 112.0 L910.4 112.2 L910.8 112.4 L911.2 112.6 L911.6 112.8 L912.0 113.1 L912.4 113.4 L912.8 113.6 L913.2 113.9 L913.6 114.3 L914.0 114.6 L914.4 115.0 L914.8 115.3 L915.2 115.7 L915.6 116.1 L916.0 116.4 L916.4 116.8 L916.8 117.2 L917.2 117.6 L917.6 118.1 L918.0 118.5 L918.4 118.9 L918.8 119.3 L919.2 119.7 L919.6 120.1 L920.0 120.5 L920.4 121.0 L920.8 121.4 L921.2 121.8 L921.6 122.2 L922.0 122.6 L922.4 123.0 L922.8 123.5 L923.2 123.9 L923.6 124.4 L924.0 124.9 L924.4 125.4 L924.8 125.9 L925.2 126.4 L925.6 126.9 L926.0 127.4 L926.4 127.9 L926.8 128.5 L927.2 129.0 L927.6 129.6 L928.0 130.1 L928.4 130.7 L928.8 131.3 L929.2 131.9 L929.6 132.5 L930.0 133.1 L930.4 133.7 L930.8 134.3 L931.2 134.9 L931.6 135.5 L932.0 136.2 L932.4 136.8 L932.8 137.5 L933.2 138.1 L933.6 138.8 L934.0 139.5 L934.4 140.2 L934.8 140.9 L935.2 141.7 L935.6 142.4 L936.0 143.2 L936.4 143.9 L936.8 144.7 L937.2 145.5 L937.6 146.3 L938.0 147.2 L938.4 148.0 L938.8 148.9 L939.2 149.7 L939.6 150.6 L940.0 151.5 L940.4 152.4 L940.8 153.3 L941.2 154.3 L941.6 155.2 L942.0 156.2 L942.4 157.2 L942.8 158.2 L943.2 159.2 L943.6 160.4 L944.0 161.5 L944.4 162.6 L944.8 163.8 L945.2 165.0 L945.6 166.3 L946.0 167.5 L946.4 168.8 L946.8 170.1 L947.2 171.3 L947.6 172.6 L948.0 173.9 L948.4 175.2 L948.8 176.5 L949.2 177.8 L949.6 179.1 L950.0 180.4 L950.4 181.7 L950.8 183.0 L951.2 184.3 L951.6 185.7 L952.0 187.1 L952.4 188.4 L952.8 189.8 L953.2 191.3 L953.6 192.7 L954.0 194.2 L954.4 195.7 L954.8 197.2 L955.2 198.8 L955.6 200.4 L956.0 202.0 L956.4 203.6 L956.8 205.4 L957.2 207.1 L957.6 208.9 L958.0 210.7 L958.4 212.6 L958.8 214.5 L959.2 216.4" stroke="#25995f"/>
<path d="M135.2 139.0 L135.6 139.7 L136.0 140.4 L136.4 141.1 L136.8 141.8 L137.2 142.6 L137.6 143.3 L138.0 144.1 L138.4 144.8 L138.8 145.6 L139.2 146.4 L139.6 147.3 L140.0 148.1 L140.4 148.9 L140.8 149.8 L141.2 150.7 L141.6 151.6 L142.0 152.5 L142.4 153.4 L142.8 154.4 L143.2 155.3 L143.6 156.3 L144.0 157.3 L144.4 158.3 L144.8 159.3 L145.2 160.4 L145.6 161.6 L146.0 162.7 L146.4 163.9 L146.8 165.2 L147.2 166.4 L147.6 167.7 L148.0 169.0 L148.4 170.3 L148.8 171.7 L149.2 173.1 L149.6 174.4 L150.0 175.8 L150.4 177.2 L150.8 178.6 L151.2 179.9 L151.6 181.3 L152.0 182.7 L152.4 184.1 L152.8 185.5 L153.2 187.0 L153.6 188.4 L154.0 189.9 L154.4 191.4 L154.8 192.9 L155.2 194.5 L155.6 196.1 L156.0 197.7 L156.4 199.3 L156.8 201.0 L157.2 202.8 L157.6 204.5 L158.0 206.4 L158.4 208.2 L158.8 210.2 L159.2 212.1 L159.6 214.2 L160.0 216.2 L160.4 218.4 L160.8 220.6 L161.2 222.8 L161.6 225.1 L162.0 227.5 L162.4 229.9 L162.8 232.4 L163.2 235.0 L163.6 237.6 L164.0 240.3 L164.4 243.1 L164.8 246.0 L165.2 249.0 L165.6 252.1 L166.0 255.3 L166.4 258.5 L166.8 261.9 L167.2 265.5 L167.6 269.4 L168.0 273.5 L168.4 277.7 L168.8 282.0 L169.2 286.4 L169.6 290.7 L170.0 294.9 L170.4 299.0 L170.8 303.0 L171.2 307.0 L171.6 311.1 L172.0 315.1 L172.4 319.2 L172.8 323.5 L173.2 327.9 L173.6 333.0 L174.0 338.5 L174.4 341.7 L174.8 343.5 L175.2 344.8 L175.6 345.5 L176.0 345.2 L176.4 344.1 L176.8 342.5 L177.2 340.7 L177.6 338.0 L178.0 334.5 L178.4 330.4 L178.8 326.0 L179.2 321.5 L179.6 317.2 L180.0 313.2 L180.4 309.2 L180.8 305.2 L181.2 301.2 L181.6 297.2 L182.0 293.1 L182.4 289.0 L182.8 284.9 L183.2 280.8 L183.6 276.7 L184.0 272.6 L184.4 268.6 L184.8 264.5 L185.2 260.4 L185.6 256.4 L186.0 252.3 L186.4 248.3 L186.8 244.3 L187.2 240.4 L187.6 236.4 L188.0 232.4 L188.4 228.5 L188.8 224.5 L189.2 220.5 L189.6 216.6 L190.0 212.6 L190.4 208.7 L190.8 204.7 L191.2 200.7 L191.6 196.6 L192.0 192.4 L192.4 188.2 L192.8 183.9 L193.2 179.8 L193.6 175.7 L194.0 171.8 L194.4 168.0 L194.8 164.5 L195.2 161.2 L195.6 158.0 L196.0 154.7 L196.4 151.5 L196.8 148.4 L197.2 145.4 L197.6 142.5 L198.0 139.8 L198.4 137.3 L198.8 135.0 L199.2 132.9 L199.6 131.2 L200.0 129.7 L200.4 128.2 L200.8 126.9 L201.2 125.5 L201.6 124.3 L202.0 123.1 L202.4 121.9 L202.8 120.8 L203.2 119.8 L203.6 118.8 L204.0 117.9 L204.4 117.0 L204.8 116.2 L205.2 115.5 L205.6 114.8 L206.0 114.2 L206.4 113.6 L206.8 113.1 L207.2 112.6 L207.6 112.2 L208.0 111.7 L208.4 111.3 L208.8 110.9 L209.2 110.5 L209.6 110.1 L210.0 109.7 L210.4 109.3 L210.8 109.0 L211.2 108.6 L211.6 108.3 L212.0 108.1 L212.4 107.8 L212.8 107.6 L213.2 107.4 L213.6 107.2 L214.0 107.1 L214.4 107.0 L214.8 107.0 L215.2 107.0 L215.6 107.0 L216.0 107.0 L216.4 107.0 L216.8 107.1 L217.2 107.1 L217.6 107.1 L218.0 107.2 L218.4 107.2 L218.8 107.3 L219.2 107.3 L219.6 107.4 L220.0 107.4 L220.4 107.5 L220.8 107.5 L221.2 107.6 L221.6 107.7 L222.0 107.7 L222.4 107.8 L222.8 107.9 L223.2 108.0 L223.6 108.0 L224.0 108.1 L224.4 108.2 L224.8 108.3 L225.2 108.4 L225.6 108.6 L226.0 108.7 L226.4 108.9 L226.8 109.2 L227.2 109.4 L227.6 109.7 L228.0 110.0 L228.4 110.3 L228.8 110.6 L229.2 111.0 L229.6 111.4 L230.0 111.7 L230.4 112.1 L230.8 112.5 L231.2 113.0 L231.6 113.4 L232.0 113.8 L232.4 114.2 L232.8 114.7 L233.2 115.1 L233.6 115.6 L234.0 116.1 L234.4 116.5 L234.8 117.0 L235.2 117.4 L235.6 117.9 L236.0 118.3 L236.4 118.8 L236.8 119.2 L237.2 119.7 L237.6 120.1 L238.0 120.6 L238.4 121.1 L238.8 121.6 L239.2 122.1 L239.6 122.7 L240.0 123.2 L240.4 123.7 L240.8 124.3 L241.2 124.9 L241.6 125.4 L242.0 126.0 L242.4 126.6 L242.8 127.2 L243.2 127.9 L243.6 128.5 L244.0 129.1 L244.4 129.8 L244.8 130.4 L245.2 131.1 L245.6 131.7 L246.0 132.4 L246.4 133.1 L246.8 133.8 L247.2 134.5 L247.6 135.2 L248.0 135.9 L248.4 136.6 L248.8 137.4 L249.2 138.1 L249.6 138.9 L250.0 139.7 L250.4 140.5 L250.8 141.3 L251.2 142.2 L251.6 143.0 L252.0 143.9 L252.4 144.7 L252.8 145.6 L253.2 146.5 L253.6 147.5 L254.0 148.4 L254.4 149.4 L254.8 150.3 L255.2 151.3 L255.6 152.3 L256.0 153.3 L256.4 154.3 L256.8 155.4 L257.2 156.5 L257.6 157.6 L258.0 158.7 L258.4 159.9 L258.8 161.1 L259.2 162.4 L259.6 163.7 L260.0 165.0 L260.4 166.3 L260.8 167.7 L261.2 169.1 L261.6 170.5 L262.0 171.9 L262.4 173.3 L262.8 174.7 L263.2 176.1 L263.6 177.5 L264.0 178.9 L264.4 180.4 L264.8 181.8 L265.2 183.2 L265.6 184.7 L266.0 186.1 L266.4 187.6 L266.8 189.1 L267.2 190.6 L267.6 192.1 L268.0 193.7 L268.4 195.3 L268.8 196.9 L269.2 198.5 L269.6 200.2 L270.0 201.9 L270.4 203.7 L270.8 205.5 L271.2 207.3 L271.6 209.2 L272.0 211.1 L272.4 213.1 L272.8 215.1 L273.2 217.1 L273.6 219.2 L274.0 221.4 L274.4 223.6 L274.8 225.8 L275.2 228.1 L275.6 230.5 L276.0 232.9 L276.4 235.4 L276.8 237.9 L277.2 240.5 L277.6 243.2 L278.0 245.9 L278.4 248.7 L278.8 251.6 L279.2 254.6 L279.6 257.6 L280.0 260.7 L280.4 263.9 L280.8 267.3 L281.2 270.8 L281.6 274.6 L282.0 278.5 L282.4 282.5 L282.8 286.6 L283.2 290.7 L283.6 294.8 L284.0 298.8 L284.4 302.7 L284.8 306.4 L285.2 310.2 L285.6 313.9 L286.0 317.5 L286.4 321.2 L286.8 325.0 L287.2 328.8 L287.6 332.6 L288.0 336.6 L288.4 341.4 L288.8 346.2 L289.2 349.4 L289.6 351.0 L290.0 352.4 L290.4 353.3 L290.8 353.9 L291.2 354.0 L291.6 353.7 L292.0 352.6 L292.4 350.9 L292.8 349.0 L293.2 346.3 L293.6 342.6 L294.0 338.4 L294.4 333.8 L294.8 329.2 L295.2 324.9 L295.6 320.8 L296.0 316.8 L296.4 312.7 L296.8 308.5 L297.2 304.4 L297.6 300.2 L298.0 296.1 L298.4 291.9 L298.8 287.7 L299.2 283.5 L299.6 279.3 L300.0 275.1 L300.4 271.0 L300.8 266.8 L301.2 262.7 L301.6 258.6 L302.0 254.5 L302.4 250.4 L302.8 246.3 L303.2 242.3 L303.6 238.2 L304.0 234.2 L304.4 230.1 L304.8 226.1 L305.2 222.0 L305.6 218.0 L306.0 213.9 L306.4 209.9 L306.8 205.7 L307.2 201.5 L307.6 197.2 L308.0 192.8 L308.4 188.5 L308.8 184.3 L309.2 180.2 L309.6 176.3 L310.0 172.6 L310.4 169.2 L310.8 165.8 L311.2 162.5 L311.6 159.2 L312.0 156.0 L312.4 152.9 L312.8 149.9 L313.2 147.0 L313.6 144.4 L314.0 142.0 L314.4 139.8 L314.8 137.9 L315.2 136.3 L315.6 134.8 L316.0 133.4 L316.4 132.0 L316.8 130.7 L317.2 129.5 L317.6 128.3 L318.0 127.2 L318.4 126.1 L318.8 125.1 L319.2 124.1 L319.6 123.2 L320.0 122.4 L320.4 121.6 L320.8 120.9 L321.2 120.3 L321.6 119.7 L322.0 119.2 L322.4 118.7 L322.8 118.3 L323.2 117.8 L323.6 117.3 L324.0 116.9 L324.4 116.5 L324.8 116.1 L325.2 115.7 L325.6 115.3 L326.0 115.0 L326.4 114.6 L326.8 114.3 L327.2 114.0 L327.6 113.8 L328.0 113.6 L328.4 113.4 L328.8 113.2 L329.2 113.1 L329.6 113.0 L330.0 113.0 L330.4 113.0 L330.8 113.0 L331.2 113.0 L331.6 113.0 L332.0 113.0 L332.4 113.1 L332.8 113.1 L333.2 113.1 L333.6 113.1 L334.0 113.2 L334.4 113.2 L334.8 113.2 L335.2 113.3 L335.6 113.3 L336.0 113.4 L336.4 113.4 L336.8 113.5 L337.2 113.5 L337.6 113.6 L338.0 113.6 L338.4 113.7 L338.8 113.7 L339.2 113.8 L339.6 113.9 L340.0 113.9 L340.4 114.0 L340.8 114.1 L341.2 114.1 L341.6 114.2 L342.0 114.3 L342.4 114.4 L342.8 114.6 L343.2 114.8 L343.6 115.0 L344.0 115.2 L344.4 115.4 L344.8 115.6 L345.2 115.9 L345.6 116.2 L346.0 116.5 L346.4 116.8 L346.8 117.1 L347.2 117.4 L347.6 117.8 L348.0 118.1 L348.4 118.5 L348.8 118.9 L349.2 119.2 L349.6 119.6 L350.0 120.0 L350.4 120.4 L350.8 120.8 L351.2 121.2 L351.6 121.6 L352.0 122.0 L352.4 122.4 L352.8 122.8 L353.2 123.2 L353.6 123.6 L354.0 124.0 L354.4 124.4 L354.8 124.8 L355.2 125.2 L355.6 125.6 L356.0 126.1 L356.4 126.5 L356.8 127.0 L357.2 127.4 L357.6 127.9 L358.0 128.4 L358.4 128.9 L358.8 129.4 L359.2 129.9 L359.6 130.5 L360.0 131.0 L360.4 131.5 L360.8 132.1 L361.2 132.6 L361.6 133.2 L362.0 133.8 L362.4 134.4 L362.8 135.0 L363.2 135.6 L363.6 136.2 L364.0 136.8 L364.4 137.4 L364.8 138.1 L365.2 138.7 L365.6 139.4 L366.0 140.0 L366.4 140.7 L366.8 141.4 L367.2 142.1 L367.6 142.8 L368.0 143.6 L368.4 144.3 L368.8 145.1 L369.2 145.9 L369.6 146.7 L370.0 147.5 L370.4 148.3 L370.8 149.1 L371.2 150.0 L371.6 150.8 L372.0 151.7 L372.4 152.6 L372.8 153.5 L373.2 154.5 L373.6 155.4 L374.0 156.4 L374.4 157.4 L374.8 158.4 L375.2 159.4 L375.6 160.5 L376.0 161.6 L376.4 162.8 L376.8 164.0 L377.2 165.2 L377.6 166.5 L378.0 167.8 L378.4 169.0 L378.8 170.4 L379.2 171.7 L379.6 173.0 L380.0 174.4 L380.4 175.7 L380.8 177.1 L381.2 178.4 L381.6 179.8 L382.0 181.1 L382.4 182.5 L382.8 183.9 L383.2 185.3 L383.6 186.7 L384.0 188.2 L384.4 189.6 L384.8 191.1 L385.2 192.7 L385.6 194.2 L386.0 195.8 L386.4 197.4 L386.8 199.1 L387.2 200.8 L387.6 202.5 L388.0 204.3 L388.4 206.1 L388.8 208.0 L389.2 209.9 L389.6 211.9 L390.0 213.9 L390.4 216.0 L390.8 218.2 L391.2 220.4 L391.6 222.6 L392.0 225.0 L392.4 227.3 L392.8 229.8 L393.2 232.3 L393.6 234.9 L394.0 237.6 L394.4 240.4 L394.8 243.2 L395.2 246.1 L395.6 249.2 L396.0 252.3 L396.4 255.5 L396.8 258.9 L397.2 262.5 L397.6 266.3 L398.0 270.4 L398.4 274.6 L398.8 278.8 L399.2 283.1 L399.6 287.3 L400.0 291.4 L400.4 295.4 L400.8 299.3 L401.2 303.2 L401.6 307.1 L402.0 311.1 L402.4 315.2 L402.8 319.4 L403.2 323.9 L403.6 329.4 L404.0 334.1 L404.4 336.2 L404.8 337.8 L405.2 338.8 L405.6 339.0 L406.0 338.2 L406.4 336.9 L406.8 335.2 L407.2 333.0 L407.6 330.0 L408.0 326.2 L408.4 321.9 L408.8 317.5 L409.2 313.1 L409.6 309.1 L410.0 305.2 L410.4 301.3 L410.8 297.4 L411.2 293.4 L411.6 289.4 L412.0 285.4 L412.4 281.4 L412.8 277.4 L413.2 273.4 L413.6 269.3 L414.0 265.3 L414.4 261.3 L414.8 257.3 L415.2 253.3 L415.6 249.3 L416.0 245.4 L416.4 241.5 L416.8 237.6 L417.2 233.6 L417.6 229.7 L418.0 225.9 L418.4 222.0 L418.8 218.1 L419.2 214.2 L419.6 210.3 L420.0 206.4 L420.4 202.5 L420.8 198.6 L421.2 194.6 L421.6 190.5 L422.0 186.3 L422.4 182.2 L422.8 178.1 L423.2 174.0 L423.6 170.1 L424.0 166.4 L424.4 162.9 L424.8 159.6 L425.2 156.4 L425.6 153.2 L426.0 150.1 L426.4 147.0 L426.8 144.0 L427.2 141.2 L427.6 138.5 L428.0 135.9 L428.4 133.7 L428.8 131.6 L429.2 129.8 L429.6 128.3 L430.0 126.9 L430.4 125.6 L430.8 124.3 L431.2 123.0 L431.6 121.8 L432.0 120.7 L432.4 119.6 L432.8 118.6 L433.2 117.6 L433.6 116.7 L434.0 115.8 L434.4 115.1 L434.8 114.3 L435.2 113.6 L435.6 113.0 L436.0 112.5 L436.4 112.0 L436.8 111.5 L437.2 111.1 L437.6 110.6 L438.0 110.2 L438.4 109.8 L438.8 109.4 L439.2 109.0 L439.6 108.6 L440.0 108.2 L440.4 107.9 L440.8 107.6 L441.2 107.3 L441.6 107.0 L442.0 106.8 L442.4 106.6 L442.8 106.4 L443.2 106.2 L443.6 106.1 L444.0 106.0 L444.4 106.0 L444.8 106.0 L445.2 106.0 L445.6 106.0 L446.0 106.0 L446.4 106.1 L446.8 106.1 L447.2 106.1 L447.6 106.2 L448.0 106.2 L448.4 106.3 L448.8 106.3 L449.2 106.4 L449.6 106.4 L450.0 106.5 L450.4 106.5 L450.8 106.6 L451.2 106.7 L451.6 106.7 L452.0 106.8 L452.4 106.9 L452.8 107.0 L453.2 107.1 L453.6 107.1 L454.0 107.2 L454.4 107.3 L454.8 107.4 L455.2 107.6 L455.6 107.8 L456.0 108.0 L456.4 108.2 L456.8 108.5 L457.2 108.8 L457.6 109.1 L458.0 109.4 L458.4 109.7 L458.8 110.1 L459.2 110.4 L459.6 110.8 L460.0 111.2 L460.4 111.6 L460.8 112.0 L461.2 112.5 L461.6 112.9 L462.0 113.3 L462.4 113.8 L462.8 114.2 L463.2 114.7 L463.6 115.1 L464.0 115.6 L464.4 116.0 L464.8 116.5 L465.2 116.9 L465.6 117.4 L466.0 117.8 L466.4 118.3 L466.8 118.7 L467.2 119.2 L467.6 119.7 L468.0 120.2 L468.4 120.7 L468.8 121.2 L469.2 121.7 L469.6 122.3 L470.0 122.8 L470.4 123.4 L470.8 124.0 L471.2 124.5 L471.6 125.1 L472.0 125.7 L472.4 126.3 L472.8 126.9 L473.2 127.6 L473.6 128.2 L474.0 128.8 L474.4 129.5 L474.8 130.2 L475.2 130.8 L475.6 131.5 L476.0 132.2 L476.4 132.9 L476.8 133.6 L477.2 134.3 L477.6 135.0 L478.0 135.7 L478.4 136.5 L478.8 137.3 L479.2 138.0 L479.6 138.8 L480.0 139.6 L480.4 140.5 L480.8 141.3 L481.2 142.2 L481.6 143.0 L482.0 143.9 L482.4 144.8 L482.8 145.7 L483.2 146.6 L483.6 147.6 L484.0 148.5 L484.4 149.5 L484.8 150.5 L485.2 151.5 L485.6 152.5 L486.0 153.6 L486.4 154.6 L486.8 155.7 L487.2 156.8 L487.6 158.0 L488.0 159.2 L488.4 160.5 L488.8 161.8 L489.2 163.1 L489.6 164.4 L490.0 165.7 L490.4 167.1 L490.8 168.5 L491.2 169.9 L491.6 171.3 L492.0 172.7 L492.4 174.1 L492.8 175.5 L493.2 176.9 L493.6 178.3 L494.0 179.7 L494.4 181.1 L494.8 182.6 L495.2 184.0 L495.6 185.5 L496.0 187.0 L496.4 188.5 L496.8 190.0 L497.2 191.5 L497.6 193.1 L498.0 194.7 L498.4 196.3 L498.8 198.0 L499.2 199.7 L499.6 201.5 L500.0 203.2 L500.4 205.1 L500.8 206.9 L501.2 208.8 L501.6 210.8 L502.0 212.8 L502.4 214.8 L502.8 216.9 L503.2 219.1 L503.6 221.2 L504.0 223.5 L504.4 225.8 L504.8 228.1 L505.2 230.5 L505.6 233.0 L506.0 235.5 L506.4 238.1 L506.8 240.7 L507.2 243.5 L507.6 246.3 L508.0 249.1 L508.4 252.1 L508.8 255.1 L509.2 258.2 L509.6 261.4 L510.0 264.7 L510.4 268.3 L510.8 272.0 L511.2 276.0 L511.6 280.0 L512.0 284.1 L512.4 288.1 L512.8 292.2 L513.2 296.1 L513.6 299.9 L514.0 303.7 L514.4 307.4 L514.8 311.0 L515.2 314.7 L515.6 318.4 L516.0 322.1 L516.4 325.9 L516.8 329.7 L517.2 333.8 L517.6 338.7 L518.0 343.2 L518.4 345.9 L518.8 347.4 L519.2 348.7 L519.6 349.5 L520.0 349.9 L520.4 350.0 L520.8 349.5 L521.2 348.3 L521.6 346.7 L522.0 344.8 L522.4 342.0 L522.8 338.5 L523.2 334.4 L523.6 330.1 L524.0 325.7 L524.4 321.7 L524.8 317.9 L525.2 314.0 L525.6 310.1 L526.0 306.3 L526.4 302.3 L526.8 298.4 L527.2 294.5 L527.6 290.5 L528.0 286.6 L528.4 282.6 L528.8 278.7 L529.2 274.7 L529.6 270.8 L530.0 266.8 L530.4 262.9 L530.8 259.1 L531.2 255.2 L531.6 251.3 L532.0 247.5 L532.4 243.7 L532.8 239.8 L533.2 236.0 L533.6 232.2 L534.0 228.4 L534.4 224.5 L534.8 220.7 L535.2 216.9 L535.6 213.0 L536.0 209.2 L536.4 205.2 L536.8 201.1 L537.2 197.0 L537.6 193.0 L538.0 188.9 L538.4 185.0 L538.8 181.3 L539.2 177.7 L539.6 174.3 L540.0 171.1 L540.4 168.0 L540.8 164.9 L541.2 161.8 L541.6 158.8 L542.0 155.9 L542.4 153.1 L542.8 150.5 L543.2 148.1 L543.6 145.9 L544.0 143.9 L544.4 142.3 L544.8 140.8 L545.2 139.4 L545.6 138.1 L546.0 136.9 L546.4 135.6 L546.8 134.5 L547.2 133.4 L547.6 132.3 L548.0 131.3 L548.4 130.4 L548.8 129.5 L549.2 128.7 L549.6 127.9 L550.0 127.2 L550.4 126.5 L550.8 125.9 L551.2 125.4 L551.6 124.9 L552.0 124.4 L552.4 124.0 L552.8 123.6 L553.2 123.1 L553.6 122.7 L554.0 122.3 L554.4 121.9 L554.8 121.6 L555.2 121.2 L555.6 120.9 L556.0 120.6 L556.4 120.3 L556.8 120.0 L557.2 119.8 L557.6 119.6 L558.0 119.4 L558.4 119.2 L558.8 119.1 L559.2 119.0 L559.6 119.0 L560.0 119.0 L560.4 119.0 L560.8 119.0 L561.2 119.0 L561.6 119.0 L562.0 119.1 L562.4 119.1 L562.8 119.1 L563.2 119.1 L563.6 119.1 L564.0 119.2 L564.4 119.2 L564.8 119.2 L565.2 119.3 L565.6 119.3 L566.0 119.4 L566.4 119.4 L566.8 119.5 L567.2 119.5 L567.6 119.6 L568.0 119.6 L568.4 119.7 L568.8 119.7 L569.2 119.8 L569.6 119.9 L570.0 119.9 L570.4 120.0 L570.8 120.1 L571.2 120.1 L571.6 120.2 L572.0 120.3 L572.4 120.5 L572.8 120.6 L573.2 120.8 L573.6 121.0 L574.0 121.2 L574.4 121.4 L574.8 121.6 L575.2 121.9 L575.6 122.2 L576.0 122.4 L576.4 122.7 L576.8 123.0 L577.2 123.4 L577.6 123.7 L578.0 124.0 L578.4 124.4 L578.8 124.7 L579.2 125.1 L579.6 125.4 L580.0 125.8 L580.4 126.2 L580.8 126.6 L581.2 126.9 L581.6 127.3 L582.0 127.7 L582.4 128.1 L582.8 128.5 L583.2 128.8 L583.6 129.2 L584.0 129.6 L584.4 130.0 L584.8 130.4 L585.2 130.8 L585.6 131.2 L586.0 131.6 L586.4 132.0 L586.8 132.4 L587.2 132.9 L587.6 133.4 L588.0 133.8 L588.4 134.3 L588.8 134.8 L589.2 135.3 L589.6 135.8 L590.0 136.3 L590.4 136.8 L590.8 137.3 L591.2 137.8 L591.6 138.4 L592.0 138.9 L592.4 139.5 L592.8 140.1 L593.2 140.6 L593.6 141.2 L594.0 141.8 L594.4 142.4 L594.8 143.0 L595.2 143.6 L595.6 144.2 L596.0 144.8 L596.4 145.5 L596.8 146.1 L597.2 146.8 L597.6 147.5 L598.0 148.2 L598.4 148.9 L598.8 149.6 L599.2 150.4 L599.6 151.1 L600.0 151.9 L600.4 152.6 L600.8 153.4 L601.2 154.2 L601.6 155.1 L602.0 155.9 L602.4 156.7 L602.8 157.6 L603.2 158.5 L603.6 159.4 L604.0 160.3 L604.4 161.2 L604.8 162.1 L605.2 163.1 L605.6 164.1 L606.0 165.2 L606.4 166.2 L606.8 167.3 L607.2 168.5 L607.6 169.7 L608.0 170.9 L608.4 172.1 L608.8 173.3 L609.2 174.6 L609.6 175.8 L610.0 177.1 L610.4 178.4 L610.8 179.7 L611.2 181.0 L611.6 182.3 L612.0 183.6 L612.4 184.9 L612.8 186.2 L613.2 187.5 L613.6 188.8 L614.0 190.2 L614.4 191.6 L614.8 193.0 L615.2 194.4 L615.6 195.8 L616.0 197.3 L616.4 198.8 L616.8 200.3 L617.2 201.9 L617.6 203.5 L618.0 205.2 L618.4 206.8 L618.8 208.6 L619.2 210.4 L619.6 212.2 L620.0 214.1 L620.4 216.0 L620.8 218.0 L621.2 220.0 L621.6 222.1 L622.0 224.2 L622.4 226.4 L622.8 228.6 L623.2 230.9 L623.6 233.3 L624.0 235.7 L624.4 238.3 L624.8 240.9 L625.2 243.5 L625.6 246.3 L626.0 249.1 L626.4 252.1 L626.8 255.1 L627.2 258.2 L627.6 261.4 L628.0 265.0 L628.4 268.7 L628.8 272.6 L629.2 276.6 L629.6 280.7 L630.0 284.8 L630.4 288.8 L630.8 292.6 L631.2 296.4 L631.6 300.2 L632.0 303.9 L632.4 307.7 L632.8 311.5 L633.2 315.4 L633.6 319.5 L634.0 323.8 L634.4 329.1 L634.8 333.4 L635.2 335.4 L635.6 336.8 L636.0 337.8 L636.4 338.0 L636.8 337.3 L637.2 335.9 L637.6 334.2 L638.0 332.2 L638.4 329.2 L638.8 325.5 L639.2 321.3 L639.6 317.0 L640.0 312.6 L640.4 308.6 L640.8 304.8 L641.2 300.9 L641.6 297.0 L642.0 293.1 L642.4 289.2 L642.8 285.3 L643.2 281.3 L643.6 277.3 L644.0 273.4 L644.4 269.4 L644.8 265.4 L645.2 261.4 L645.6 257.5 L646.0 253.6 L646.4 249.6 L646.8 245.7 L647.2 241.9 L647.6 238.0 L648.0 234.1 L648.4 230.3 L648.8 226.4 L649.2 222.6 L649.6 218.7 L650.0 214.9 L650.4 211.1 L650.8 207.2 L651.2 203.4 L651.6 199.5 L652.0 195.6 L652.4 191.6 L652.8 187.5 L653.2 183.4 L653.6 179.3 L654.0 175.3 L654.4 171.4 L654.8 167.6 L655.2 164.0 L655.6 160.6 L656.0 157.5 L656.4 154.3 L656.8 151.2 L657.2 148.1 L657.6 145.0 L658.0 142.1 L658.4 139.4 L658.8 136.7 L659.2 134.3 L659.6 132.1 L660.0 130.2 L660.4 128.5 L660.8 127.0 L661.2 125.7 L661.6 124.3 L662.0 123.0 L662.4 121.8 L662.8 120.6 L663.2 119.5 L663.6 118.5 L664.0 117.5 L664.4 116.5 L664.8 115.6 L665.2 114.8 L665.6 114.0 L666.0 113.3 L666.4 112.6 L666.8 112.0 L667.2 111.5 L667.6 111.0 L668.0 110.5 L668.4 110.1 L668.8 109.6 L669.2 109.2 L669.6 108.8 L670.0 108.4 L670.4 108.0 L670.8 107.6 L671.2 107.3 L671.6 106.9 L672.0 106.6 L672.4 106.3 L672.8 106.1 L673.2 105.8 L673.6 105.6 L674.0 105.4 L674.4 105.3 L674.8 105.1 L675.2 105.1 L675.6 105.0 L676.0 105.0 L676.4 105.0 L676.8 105.0 L677.2 105.0 L677.6 105.1 L678.0 105.1 L678.4 105.1 L678.8 105.1 L679.2 105.2 L679.6 105.2 L680.0 105.3 L680.4 105.3 L680.8 105.4 L681.2 105.4 L681.6 105.5 L682.0 105.5 L682.4 105.6 L682.8 105.7 L683.2 105.7 L683.6 105.8 L684.0 105.9 L684.4 105.9 L684.8 106.0 L685.2 106.1 L685.6 106.2 L686.0 106.3 L686.4 106.4 L686.8 106.5 L687.2 106.7 L687.6 106.9 L688.0 107.1 L688.4 107.3 L688.8 107.6 L689.2 107.9 L689.6 108.2 L690.0 108.5 L690.4 108.8 L690.8 109.2 L691.2 109.5 L691.6 109.9 L692.0 110.3 L692.4 110.7 L692.8 111.1 L693.2 111.5 L693.6 111.9 L694.0 112.3 L694.4 112.8 L694.8 113.2 L695.2 113.6 L695.6 114.1 L696.0 114.5 L696.4 115.0 L696.8 115.4 L697.2 115.8 L697.6 116.3 L698.0 116.7 L698.4 117.1 L698.8 117.6 L699.2 118.0 L699.6 118.5 L700.0 119.0 L700.4 119.5 L700.8 120.0 L701.2 120.5 L701.6 121.0 L702.0 121.5 L702.4 122.1 L702.8 122.6 L703.2 123.2 L703.6 123.7 L704.0 124.3 L704.4 124.9 L704.8 125.5 L705.2 126.1 L705.6 126.7 L706.0 127.3 L706.4 128.0 L706.8 128.6 L707.2 129.3 L707.6 129.9 L708.0 130.6 L708.4 131.2 L708.8 131.9 L709.2 132.6 L709.6 133.3 L710.0 134.0 L710.4 134.7 L710.8 135.5 L711.2 136.2 L711.6 137.0 L712.0 137.8 L712.4 138.5 L712.8 139.4 L713.2 140.2 L713.6 141.0 L714.0 141.9 L714.4 142.7 L714.8 143.6 L715.2 144.5 L715.6 145.4 L716.0 146.3 L716.4 147.3 L716.8 148.2 L717.2 149.2 L717.6 150.2 L718.0 151.2 L718.4 152.2 L718.8 153.2 L719.2 154.3 L719.6 155.4 L720.0 156.6 L720.4 157.7 L720.8 159.0 L721.2 160.2 L721.6 161.5 L722.0 162.8 L722.4 164.1 L722.8 165.5 L723.2 166.8 L723.6 168.2 L724.0 169.6 L724.4 170.9 L724.8 172.3 L725.2 173.7 L725.6 175.1 L726.0 176.5 L726.4 177.9 L726.8 179.3 L727.2 180.7 L727.6 182.1 L728.0 183.5 L728.4 185.0 L728.8 186.5 L729.2 188.0 L729.6 189.5 L730.0 191.0 L730.4 192.6 L730.8 194.2 L731.2 195.8 L731.6 197.5 L732.0 199.2 L732.4 201.0 L732.8 202.7 L733.2 204.6 L733.6 206.4 L734.0 208.4 L734.4 210.3 L734.8 212.3 L735.2 214.4 L735.6 216.5 L736.0 218.7 L736.4 220.9 L736.8 223.1 L737.2 225.4 L737.6 227.8 L738.0 230.2 L738.4 232.7 L738.8 235.2 L739.2 237.8 L739.6 240.5 L740.0 243.3 L740.4 246.1 L740.8 249.0 L741.2 252.0 L741.6 255.1 L742.0 258.2 L742.4 261.5 L742.8 265.0 L743.2 268.7 L743.6 272.5 L744.0 276.5 L744.4 280.6 L744.8 284.6 L745.2 288.7 L745.6 292.7 L746.0 296.5 L746.4 300.3 L746.8 304.0 L747.2 307.6 L747.6 311.3 L748.0 315.0 L748.4 318.7 L748.8 322.5 L749.2 326.4 L749.6 330.4 L750.0 335.3 L750.4 340.0 L750.8 342.8 L751.2 344.4 L751.6 345.7 L752.0 346.5 L752.4 347.0 L752.8 347.0 L753.2 346.3 L753.6 345.0 L754.0 343.3 L754.4 341.4 L754.8 338.4 L755.2 334.8 L755.6 330.8 L756.0 326.6 L756.4 322.4 L756.8 318.6 L757.2 314.9 L757.6 311.2 L758.0 307.4 L758.4 303.6 L758.8 299.8 L759.2 296.0 L759.6 292.2 L760.0 288.4 L760.4 284.6 L760.8 280.7 L761.2 276.9 L761.6 273.1 L762.0 269.3 L762.4 265.5 L762.8 261.7 L763.2 257.9 L763.6 254.2 L764.0 250.5 L764.4 246.7 L764.8 243.0 L765.2 239.3 L765.6 235.6 L766.0 231.9 L766.4 228.2 L766.8 224.5 L767.2 220.8 L767.6 217.1 L768.0 213.4 L768.4 209.6 L768.8 205.7 L769.2 201.7 L769.6 197.8 L770.0 193.8 L770.4 190.0 L770.8 186.2 L771.2 182.7 L771.6 179.3 L772.0 176.1 L772.4 173.0 L772.8 170.0 L773.2 167.0 L773.6 164.0 L774.0 161.2 L774.4 158.4 L774.8 155.8 L775.2 153.3 L775.6 151.1 L776.0 149.1 L776.4 147.3 L776.8 145.8 L777.2 144.5 L777.6 143.1 L778.0 141.9 L778.4 140.7 L778.8 139.5 L779.2 138.4 L779.6 137.4 L780.0 136.4 L780.4 135.4 L780.8 134.6 L781.2 133.7 L781.6 132.9 L782.0 132.2 L782.4 131.6 L782.8 130.9 L783.2 130.4 L783.6 129.9 L784.0 129.5 L784.4 129.0 L784.8 128.6 L785.2 128.2 L785.6 127.8 L786.0 127.4 L786.4 127.0 L786.8 126.6 L787.2 126.3 L787.6 126.0 L788.0 125.6 L788.4 125.4 L788.8 125.1 L789.2 124.8 L789.6 124.6 L790.0 124.4 L790.4 124.3 L790.8 124.2 L791.2 124.1 L791.6 124.0 L792.0 124.0 L792.4 124.0 L792.8 124.0 L793.2 124.0 L793.6 124.0 L794.0 124.0 L794.4 124.1 L794.8 124.1 L795.2 124.1 L795.6 124.1 L796.0 124.2 L796.4 124.2 L796.8 124.2 L797.2 124.3 L797.6 124.3 L798.0 124.3 L798.4 124.4 L798.8 124.4 L799.2 124.5 L799.6 124.5 L800.0 124.6 L800.4 124.6 L800.8 124.7 L801.2 124.8 L801.6 124.8 L802.0 124.9 L802.4 124.9 L802.8 125.0 L803.2 125.1 L803.6 125.2 L804.0 125.3 L804.4 125.4 L804.8 125.5 L805.2 125.7 L805.6 125.9 L806.0 126.1 L806.4 126.3 L806.8 126.5 L807.2 126.7 L807.6 127.0 L808.0 127.3 L808.4 127.6 L808.8 127.9 L809.2 128.2 L809.6 128.5 L810.0 128.8 L810.4 129.2 L810.8 129.5 L811.2 129.9 L811.6 130.2 L812.0 130.6 L812.4 130.9 L812.8 131.3 L813.2 131.7 L813.6 132.0 L814.0 132.4 L814.4 132.8 L814.8 133.2 L815.2 133.5 L815.6 133.9 L816.0 134.3 L816.4 134.6 L816.8 135.0 L817.2 135.4 L817.6 135.8 L818.0 136.2 L818.4 136.6 L818.8 137.1 L819.2 137.5 L819.6 137.9 L820.0 138.4 L820.4 138.9 L820.8 139.3 L821.2 139.8 L821.6 140.3 L822.0 140.8 L822.4 141.3 L822.8 141.8 L823.2 142.3 L823.6 142.9 L824.0 143.4 L824.4 144.0 L824.8 144.5 L825.2 145.1 L825.6 145.6 L826.0 146.2 L826.4 146.8 L826.8 147.4 L827.2 148.0 L827.6 148.6 L828.0 149.2 L828.4 149.8 L828.8 150.5 L829.2 151.1 L829.6 151.8 L830.0 152.5 L830.4 153.2 L830.8 153.9 L831.2 154.6 L831.6 155.3 L832.0 156.1 L832.4 156.8 L832.8 157.6 L833.2 158.4 L833.6 159.2 L834.0 160.0 L834.4 160.8 L834.8 161.7 L835.2 162.6 L835.6 163.4 L836.0 164.3 L836.4 165.2 L836.8 166.1 L837.2 167.1 L837.6 168.1 L838.0 169.1 L838.4 170.1 L838.8 171.2 L839.2 172.4 L839.6 173.5 L840.0 174.7 L840.4 175.9 L840.8 177.1 L841.2 178.3 L841.6 179.6 L842.0 180.8 L842.4 182.1 L842.8 183.3 L843.2 184.6 L843.6 185.9 L844.0 187.1 L844.4 188.4 L844.8 189.7 L845.2 191.0 L845.6 192.3 L846.0 193.7 L846.4 195.0 L846.8 196.4 L847.2 197.8 L847.6 199.2 L848.0 200.6 L848.4 202.1 L848.8 203.6 L849.2 205.1 L849.6 206.7 L850.0 208.3 L850.4 210.0 L850.8 211.7 L851.2 213.5 L851.6 215.3 L852.0 217.1 L852.4 219.0 L852.8 220.9 L853.2 222.9 L853.6 225.0 L854.0 227.1 L854.4 229.2 L854.8 231.4 L855.2 233.7 L855.6 236.0 L856.0 238.4 L856.4 240.9 L856.8 243.5 L857.2 246.1 L857.6 248.8 L858.0 251.6 L858.4 254.5 L858.8 257.5 L859.2 260.6 L859.6 263.8 L860.0 267.3 L860.4 271.0 L860.8 274.8 L861.2 278.8 L861.6 282.8 L862.0 286.8 L862.4 290.7 L862.8 294.4 L863.2 298.1 L863.6 301.8 L864.0 305.5 L864.4 309.2 L864.8 312.9 L865.2 316.8 L865.6 320.8 L866.0 325.2 L866.4 330.5 L866.8 334.1 L867.2 335.8 L867.6 337.1 L868.0 337.9 L868.4 337.9 L868.8 337.0 L869.2 335.6 L869.6 334.0 L870.0 331.8 L870.4 328.8 L870.8 325.2 L871.2 321.1 L871.6 316.9 L872.0 312.8 L872.4 308.9 L872.8 305.2 L873.2 301.5 L873.6 297.8 L874.0 294.0 L874.4 290.2 L874.8 286.4 L875.2 282.6 L875.6 278.8 L876.0 274.9 L876.4 271.1 L876.8 267.3 L877.2 263.4 L877.6 259.6 L878.0 255.8 L878.4 252.1 L878.8 248.3 L879.2 244.6 L879.6 240.8 L880.0 237.1 L880.4 233.4 L880.8 229.7 L881.2 226.0 L881.6 222.3 L882.0 218.6 L882.4 214.9 L882.8 211.2 L883.2 207.5 L883.6 203.8 L884.0 200.0 L884.4 196.2 L884.8 192.3 L885.2 188.3 L885.6 184.4 L886.0 180.5 L886.4 176.7 L886.8 172.9 L887.2 169.4 L887.6 166.0 L888.0 162.9 L888.4 159.8 L888.8 156.8 L889.2 153.8 L889.6 150.8 L890.0 148.0 L890.4 145.2 L890.8 142.6 L891.2 140.2 L891.6 137.9 L892.0 135.9 L892.4 134.1 L892.8 132.5 L893.2 131.2 L893.6 129.8 L894.0 128.6 L894.4 127.3 L894.8 126.2 L895.2 125.1 L895.6 124.0 L896.0 123.0 L896.4 122.0 L896.8 121.1 L897.2 120.3 L897.6 119.5 L898.0 118.7 L898.4 118.0 L898.8 117.4 L899.2 116.8 L899.6 116.3 L900.0 115.8 L900.4 115.4 L900.8 115.0 L901.2 114.6 L901.6 114.1 L902.0 113.7 L902.4 113.4 L902.8 113.0 L903.2 112.6 L903.6 112.3 L904.0 111.9 L904.4 111.6 L904.8 111.3 L905.2 111.1 L905.6 110.8 L906.0 110.6 L906.4 110.4 L906.8 110.3 L907.2 110.2 L907.6 110.1 L908.0 110.0 L908.4 110.0 L908.8 110.0 L909.2 110.0 L909.6 110.0 L910.0 110.1 L910.4 110.1 L910.8 110.1 L911.2 110.1 L911.6 110.2 L912.0 110.2 L912.4 110.3 L912.8 110.3 L913.2 110.3 L913.6 110.4 L914.0 110.5 L914.4 110.5 L914.8 110.6 L915.2 110.6 L915.6 110.7 L916.0 110.8 L916.4 110.8 L916.8 110.9 L917.2 111.0 L917.6 111.0 L918.0 111.1 L918.4 111.2 L918.8 111.3 L919.2 111.4 L919.6 111.6 L920.0 111.8 L920.4 112.0 L920.8 112.2 L921.2 112.4 L921.6 112.7 L922.0 113.0 L922.4 113.3 L922.8 113.6 L923.2 113.9 L923.6 114.3 L924.0 114.6 L924.4 115.0 L924.8 115.4 L925.2 115.7 L925.6 116.1 L926.0 116.5 L926.4 116.9 L926.8 117.3 L927.2 117.7 L927.6 118.2 L928.0 118.6 L928.4 119.0 L928.8 119.4 L929.2 119.8 L929.6 120.2 L930.0 120.6 L930.4 121.0 L930.8 121.4 L931.2 121.9 L931.6 122.3 L932.0 122.7 L932.4 123.2 L932.8 123.6 L933.2 124.1 L933.6 124.6 L934.0 125.1 L934.4 125.6 L934.8 126.1 L935.2 126.6 L935.6 127.1 L936.0 127.7 L936.4 128.2 L936.8 128.7 L937.2 129.3 L937.6 129.9 L938.0 130.4 L938.4 131.0 L938.8 131.6 L939.2 132.2 L939.6 132.8 L940.0 133.4 L940.4 134.0 L940.8 134.7 L941.2 135.3 L941.6 135.9 L942.0 136.6 L942.4 137.2 L942.8 137.9 L943.2 138.6 L943.6 139.3 L944.0 140.0 L944.4 140.7 L944.8 141.5 L945.2 142.2 L945.6 143.0 L946.0 143.8 L946.4 144.6 L946.8 145.4 L947.2 146.2 L947.6 147.0 L948.0 147.8 L948.4 148.7 L948.8 149.6 L949.2 150.5 L949.6 151.4 L950.0 152.3 L950.4 153.2 L950.8 154.1 L951.2 155.1 L951.6 156.1 L952.0 157.1 L952.4 158.1 L952.8 159.2 L953.2 160.3 L953.6 161.4 L954.0 162.6 L954.4 163.8 L954.8 165.0 L955.2 166.3 L955.6 167.5 L956.0 168.8 L956.4 170.1 L956.8 171.3 L957.2 172.6 L957.6 173.9 L958.0 175.2 L958.4 176.5 L958.8 177.8 L959.2 179.1" stroke="#ad76e2"/>
</g>
<line x1="135.7" y1="4.4" x2="958.5" y2="4.4" stroke="#3a3a3a" stroke-width="3"/>
<line x1="137.2" y1="4.4" x2="137.2" y2="666.2" stroke="#333" stroke-width="3"/>
<line x1="135.7" y1="664.7" x2="958.5" y2="664.7" stroke="#333" stroke-width="3"/>
<line x1="957.3" y1="4.4" x2="957.3" y2="666.2" stroke="#151515" stroke-width="2.4"/>
<line x1="123.7" y1="68.1" x2="137.2" y2="68.1" stroke="#333" stroke-width="2.6"/>
<line x1="123.7" y1="209.7" x2="137.2" y2="209.7" stroke="#333" stroke-width="2.6"/>
<line x1="123.7" y1="351.3" x2="137.2" y2="351.3" stroke="#333" stroke-width="2.6"/>
<line x1="123.7" y1="492.9" x2="137.2" y2="492.9" stroke="#333" stroke-width="2.6"/>
<line x1="123.7" y1="634.5" x2="137.2" y2="634.5" stroke="#333" stroke-width="2.6"/>
<line x1="130.5" y1="138.9" x2="137.2" y2="138.9" stroke="#333" stroke-width="2.6"/>
<line x1="130.5" y1="280.5" x2="137.2" y2="280.5" stroke="#333" stroke-width="2.6"/>
<line x1="130.5" y1="422.1" x2="137.2" y2="422.1" stroke="#333" stroke-width="2.6"/>
<line x1="130.5" y1="563.7" x2="137.2" y2="563.7" stroke="#333" stroke-width="2.6"/>
<line x1="172.6" y1="664.7" x2="172.6" y2="678" stroke="#333" stroke-width="2.6"/>
<line x1="271.9" y1="664.7" x2="271.9" y2="671.5" stroke="#333" stroke-width="2.6"/>
<line x1="371.2" y1="664.7" x2="371.2" y2="678" stroke="#333" stroke-width="2.6"/>
<line x1="470.5" y1="664.7" x2="470.5" y2="671.5" stroke="#333" stroke-width="2.6"/>
<line x1="569.8" y1="664.7" x2="569.8" y2="678" stroke="#333" stroke-width="2.6"/>
<line x1="669.1" y1="664.7" x2="669.1" y2="671.5" stroke="#333" stroke-width="2.6"/>
<line x1="768.4" y1="664.7" x2="768.4" y2="678" stroke="#333" stroke-width="2.6"/>
<line x1="867.7" y1="664.7" x2="867.7" y2="671.5" stroke="#333" stroke-width="2.6"/>
<line x1="219.2" y1="4.4" x2="219.2" y2="10.9" stroke="#333" stroke-width="2.6"/>
<line x1="301.2" y1="4.4" x2="301.2" y2="17.4" stroke="#333" stroke-width="2.6"/>
<line x1="383.2" y1="4.4" x2="383.2" y2="10.9" stroke="#333" stroke-width="2.6"/>
<line x1="465.2" y1="4.4" x2="465.2" y2="17.4" stroke="#333" stroke-width="2.6"/>
<line x1="547.2" y1="4.4" x2="547.2" y2="10.9" stroke="#333" stroke-width="2.6"/>
<line x1="629.2" y1="4.4" x2="629.2" y2="17.4" stroke="#333" stroke-width="2.6"/>
<line x1="711.2" y1="4.4" x2="711.2" y2="10.9" stroke="#333" stroke-width="2.6"/>
<line x1="793.2" y1="4.4" x2="793.2" y2="17.4" stroke="#333" stroke-width="2.6"/>
<line x1="875.2" y1="4.4" x2="875.2" y2="10.9" stroke="#333" stroke-width="2.6"/>
<line x1="951.3" y1="70.2" x2="957.3" y2="70.2" stroke="#333" stroke-width="2.6"/>
<line x1="944.8" y1="136.0" x2="957.3" y2="136.0" stroke="#333" stroke-width="2.6"/>
<line x1="951.3" y1="201.8" x2="957.3" y2="201.8" stroke="#333" stroke-width="2.6"/>
<line x1="944.8" y1="267.6" x2="957.3" y2="267.6" stroke="#333" stroke-width="2.6"/>
<line x1="951.3" y1="333.4" x2="957.3" y2="333.4" stroke="#333" stroke-width="2.6"/>
<line x1="944.8" y1="399.2" x2="957.3" y2="399.2" stroke="#333" stroke-width="2.6"/>
<line x1="951.3" y1="465.0" x2="957.3" y2="465.0" stroke="#333" stroke-width="2.6"/>
<line x1="944.8" y1="530.8" x2="957.3" y2="530.8" stroke="#333" stroke-width="2.6"/>
<line x1="951.3" y1="596.6" x2="957.3" y2="596.6" stroke="#333" stroke-width="2.6"/>
<g font-family='"Liberation Serif", serif' font-size="44" fill="#1a1a1a" text-anchor="end">
<text x="115" y="80.6">0</text>
<text x="115" y="222.2">-5</text>
<text x="115" y="363.8">-10</text>
<text x="115" y="505.4">-15</text>
<text x="115" y="647.0">-20</text>
</g>
<g font-family='"Liberation Serif", serif' font-size="44" fill="#1a1a1a" text-anchor="middle">
<text x="172.6" y="720.5">1540</text>
<text x="371.2" y="720.5">1545</text>
<text x="569.8" y="720.5">1550</text>
<text x="768.4" y="720.5">1555</text>
</g>
<text x="547" y="790.5" font-family='"Liberation Serif", serif' font-size="44.2" fill="#1a1a1a" text-anchor="middle">Wavelength (nm)</text>
<text transform="translate(39.5 322) rotate(-90)" x="0" y="0" font-family='"Liberation Serif", serif' font-size="43.5" fill="#1a1a1a" text-anchor="middle">Intensity (dB)</text>
<text transform="translate(530.5 620.7) scale(0.975 0.93)" x="0" y="0" font-family='"Liberation Serif", serif' font-size="71" font-weight="bold" fill="#000" text-anchor="middle">(a)</text>
<line x1="684" y1="445.9" x2="769" y2="445.9" stroke="#383838" stroke-width="2.2"/>
<text x="777" y="457.9" font-family='"Liberation Serif", serif' font-size="37" fill="#1a1a1a">0 mW</text>
<line x1="684" y1="491.5" x2="769" y2="491.5" stroke="#e0404b" stroke-width="2.2"/>
<text x="777" y="503.5" font-family='"Liberation Serif", serif' font-size="37" fill="#1a1a1a">0.88 mW</text>
<line x1="684" y1="538.7" x2="769" y2="538.7" stroke="#2a6fd2" stroke-width="2.2"/>
<text x="777" y="550.7" font-family='"Liberation Serif", serif' font-size="37" fill="#1a1a1a">1.58 mW</text>
<line x1="684" y1="584.8" x2="769" y2="584.8" stroke="#25995f" stroke-width="2.2"/>
<text x="777" y="596.8" font-family='"Liberation Serif", serif' font-size="37" fill="#1a1a1a">2.23 mW</text>
<line x1="684" y1="631.5" x2="769" y2="631.5" stroke="#ad76e2" stroke-width="2.2"/>
<text x="777" y="643.5" font-family='"Liberation Serif", serif' font-size="37" fill="#1a1a1a">2.92 mW</text>
<line x1="232.5" y1="858.9" x2="232.5" y2="1494.6" stroke="#e6e6e6" stroke-width="1.9" stroke-dasharray="7.3 8.05" stroke-dashoffset="-0.7"/>
<line x1="311.7" y1="858.9" x2="311.7" y2="1494.6" stroke="#777" stroke-width="1.9" stroke-dasharray="7.3 8.05" stroke-dashoffset="-0.7"/>
<line x1="390.8" y1="858.9" x2="390.8" y2="1494.6" stroke="#999" stroke-width="1.9" stroke-dasharray="7.3 8.05" stroke-dashoffset="-0.7"/>
<line x1="470.0" y1="858.9" x2="470.0" y2="1494.6" stroke="#bbb" stroke-width="1.9" stroke-dasharray="7.3 8.05" stroke-dashoffset="-0.7"/>
<line x1="549.2" y1="858.9" x2="549.2" y2="1494.6" stroke="#999" stroke-width="1.9" stroke-dasharray="7.3 8.05" stroke-dashoffset="-0.7"/>
<line x1="628.3" y1="858.9" x2="628.3" y2="1494.6" stroke="#aaa" stroke-width="1.9" stroke-dasharray="7.3 8.05" stroke-dashoffset="-0.7"/>
<line x1="707.5" y1="858.9" x2="707.5" y2="1494.6" stroke="#999" stroke-width="1.9" stroke-dasharray="7.3 8.05" stroke-dashoffset="-0.7"/>
<line x1="786.6" y1="858.9" x2="786.6" y2="1494.6" stroke="#bbb" stroke-width="1.9" stroke-dasharray="7.3 8.05" stroke-dashoffset="-0.7"/>
<line x1="865.8" y1="858.9" x2="865.8" y2="1494.6" stroke="#aaa" stroke-width="1.9" stroke-dasharray="7.3 8.05" stroke-dashoffset="-0.7"/>
<line x1="153.3" y1="1431.4" x2="945.0" y2="1431.4" stroke="#1a1a1a" stroke-width="2.3" stroke-dasharray="7.3 8.05" stroke-dashoffset="0"/>
<line x1="153.3" y1="1367.8" x2="945.0" y2="1367.8" stroke="#666" stroke-width="2.3" stroke-dasharray="7.3 8.05" stroke-dashoffset="0"/>
<line x1="153.3" y1="1304.2" x2="945.0" y2="1304.2" stroke="#333" stroke-width="2.3" stroke-dasharray="7.3 8.05" stroke-dashoffset="0"/>
<line x1="153.3" y1="1240.6" x2="945.0" y2="1240.6" stroke="#1a1a1a" stroke-width="2.3" stroke-dasharray="7.3 8.05" stroke-dashoffset="0"/>
<line x1="153.3" y1="1177.0" x2="945.0" y2="1177.0" stroke="#1a1a1a" stroke-width="2.3" stroke-dasharray="7.3 8.05" stroke-dashoffset="0"/>
<line x1="153.3" y1="1113.4" x2="945.0" y2="1113.4" stroke="#888" stroke-width="2.3" stroke-dasharray="7.3 8.05" stroke-dashoffset="0"/>
<line x1="153.3" y1="1049.8" x2="945.0" y2="1049.8" stroke="#d0d0d0" stroke-width="2.3" stroke-dasharray="7.3 8.05" stroke-dashoffset="0"/>
<line x1="153.3" y1="986.2" x2="945.0" y2="986.2" stroke="#1a1a1a" stroke-width="2.3" stroke-dasharray="7.3 8.05" stroke-dashoffset="0"/>
<line x1="153.3" y1="922.6" x2="945.0" y2="922.6" stroke="#1a1a1a" stroke-width="2.3" stroke-dasharray="7.3 8.05" stroke-dashoffset="0"/>
<rect x="153.3" y="858.9" width="791.7" height="635.7" fill="none" stroke="#1a1a1a" stroke-width="2.4"/>
<line x1="146.8" y1="1495.0" x2="153.3" y2="1495.0" stroke="#1a1a1a" stroke-width="2.4"/>
<line x1="141.3" y1="1431.4" x2="153.3" y2="1431.4" stroke="#1a1a1a" stroke-width="2.4"/>
<line x1="146.8" y1="1367.8" x2="153.3" y2="1367.8" stroke="#1a1a1a" stroke-width="2.4"/>
<line x1="141.3" y1="1304.2" x2="153.3" y2="1304.2" stroke="#1a1a1a" stroke-width="2.4"/>
<line x1="146.8" y1="1240.6" x2="153.3" y2="1240.6" stroke="#1a1a1a" stroke-width="2.4"/>
<line x1="141.3" y1="1177.0" x2="153.3" y2="1177.0" stroke="#1a1a1a" stroke-width="2.4"/>
<line x1="146.8" y1="1113.4" x2="153.3" y2="1113.4" stroke="#1a1a1a" stroke-width="2.4"/>
<line x1="141.3" y1="1049.8" x2="153.3" y2="1049.8" stroke="#1a1a1a" stroke-width="2.4"/>
<line x1="146.8" y1="986.2" x2="153.3" y2="986.2" stroke="#1a1a1a" stroke-width="2.4"/>
<line x1="141.3" y1="922.6" x2="153.3" y2="922.6" stroke="#1a1a1a" stroke-width="2.4"/>
<line x1="146.8" y1="859.0" x2="153.3" y2="859.0" stroke="#1a1a1a" stroke-width="2.4"/>
<line x1="939.0" y1="1431.4" x2="945.0" y2="1431.4" stroke="#1a1a1a" stroke-width="2.6"/>
<line x1="933.0" y1="1367.8" x2="945.0" y2="1367.8" stroke="#1a1a1a" stroke-width="2.6"/>
<line x1="939.0" y1="1304.2" x2="945.0" y2="1304.2" stroke="#1a1a1a" stroke-width="2.6"/>
<line x1="933.0" y1="1240.6" x2="945.0" y2="1240.6" stroke="#1a1a1a" stroke-width="2.6"/>
<line x1="939.0" y1="1177.0" x2="945.0" y2="1177.0" stroke="#1a1a1a" stroke-width="2.6"/>
<line x1="933.0" y1="1113.4" x2="945.0" y2="1113.4" stroke="#1a1a1a" stroke-width="2.6"/>
<line x1="939.0" y1="1049.8" x2="945.0" y2="1049.8" stroke="#1a1a1a" stroke-width="2.6"/>
<line x1="933.0" y1="986.2" x2="945.0" y2="986.2" stroke="#1a1a1a" stroke-width="2.6"/>
<line x1="939.0" y1="922.6" x2="945.0" y2="922.6" stroke="#1a1a1a" stroke-width="2.6"/>
<line x1="153.4" y1="1494.6" x2="153.4" y2="1500.6" stroke="#1a1a1a" stroke-width="2.6"/>
<line x1="252.3" y1="1494.6" x2="252.3" y2="1506.6" stroke="#1a1a1a" stroke-width="2.6"/>
<line x1="351.2" y1="1494.6" x2="351.2" y2="1500.6" stroke="#1a1a1a" stroke-width="2.6"/>
<line x1="450.2" y1="1494.6" x2="450.2" y2="1506.6" stroke="#1a1a1a" stroke-width="2.6"/>
<line x1="549.2" y1="1494.6" x2="549.2" y2="1500.6" stroke="#1a1a1a" stroke-width="2.6"/>
<line x1="648.1" y1="1494.6" x2="648.1" y2="1506.6" stroke="#1a1a1a" stroke-width="2.6"/>
<line x1="747.0" y1="1494.6" x2="747.0" y2="1500.6" stroke="#1a1a1a" stroke-width="2.6"/>
<line x1="846.0" y1="1494.6" x2="846.0" y2="1506.6" stroke="#1a1a1a" stroke-width="2.6"/>
<line x1="945.0" y1="1494.6" x2="945.0" y2="1500.6" stroke="#1a1a1a" stroke-width="2.6"/>
<line x1="232.5" y1="858.9" x2="232.5" y2="864.9" stroke="#1a1a1a" stroke-width="2.8"/>
<line x1="311.7" y1="858.9" x2="311.7" y2="870.9" stroke="#1a1a1a" stroke-width="2.8"/>
<line x1="390.8" y1="858.9" x2="390.8" y2="864.9" stroke="#1a1a1a" stroke-width="2.8"/>
<line x1="470.0" y1="858.9" x2="470.0" y2="870.9" stroke="#1a1a1a" stroke-width="2.8"/>
<line x1="549.2" y1="858.9" x2="549.2" y2="864.9" stroke="#1a1a1a" stroke-width="2.8"/>
<line x1="628.3" y1="858.9" x2="628.3" y2="870.9" stroke="#1a1a1a" stroke-width="2.8"/>
<line x1="707.5" y1="858.9" x2="707.5" y2="864.9" stroke="#1a1a1a" stroke-width="2.8"/>
<line x1="786.6" y1="858.9" x2="786.6" y2="870.9" stroke="#1a1a1a" stroke-width="2.8"/>
<line x1="865.8" y1="858.9" x2="865.8" y2="864.9" stroke="#1a1a1a" stroke-width="2.8"/>
<rect x="240.2" y="1419.4" width="23.6" height="23.6" fill="#000"/>
<rect x="414.9" y="1292.2" width="23.6" height="23.6" fill="#000"/>
<rect x="553.2" y="1165.5" width="23.6" height="23.6" fill="#000"/>
<rect x="681.8" y="1037.8" width="23.6" height="23.6" fill="#000"/>
<rect x="818.0" y="910.7" width="23.6" height="23.6" fill="#000"/>
<line x1="253.5" y1="1444" x2="829" y2="931.5" stroke="#f00" stroke-width="10" stroke-linecap="round"/>
<g font-family='"Liberation Serif", serif' font-size="43" fill="#111" text-anchor="end">
<text x="131.5" y="1443.9">0.0</text>
<text x="131.5" y="1316.7">0.2</text>
<text x="131.5" y="1189.5">0.4</text>
<text x="131.5" y="1062.3">0.6</text>
<text x="131.5" y="935.1">0.8</text>
</g>
<g font-family='"Liberation Serif", serif' font-size="43" fill="#111" text-anchor="middle">
<text x="252.3" y="1547.5">0</text>
<text x="450.2" y="1547.5">1</text>
<text x="648.1" y="1547.5">2</text>
<text x="846.0" y="1547.5">3</text>
</g>
<text x="558.5" y="1601" font-family='"Liberation Serif", serif' font-size="42.6" fill="#111" text-anchor="middle">Power(mW)</text>
<text transform="translate(62.8 1177.6) rotate(-90)" x="0" y="0" font-family='"Liberation Serif", serif' font-size="46.4" fill="#111" text-anchor="middle">Wavelength shift(nm)</text>
<text transform="translate(522.1 1452.2) scale(0.975 0.93)" x="0" y="0" font-family='"Liberation Serif", serif' font-size="71" font-weight="bold" fill="#000" text-anchor="middle">(b)</text>
<rect x="601.8" y="1275.9" width="25.4" height="22.3" fill="#000"/>
<line x1="584.5" y1="1331.5" x2="643" y2="1331.5" stroke="#f00" stroke-width="10" stroke-linecap="round"/>
<text transform="translate(654.3 1298.2) scale(1.013 1)" x="0" y="0" font-family='"Liberation Serif", serif' font-size="35.5" font-weight="bold" fill="#111">Date</text>
<text transform="translate(660.6 1342) scale(1.008 1)" x="0" y="0" font-family='"Liberation Serif", serif' font-size="35.5" font-weight="bold" fill="#111">Linear fitting</text>
<text transform="translate(601.8 1383.3) scale(1.022 1)" x="0" y="0" font-family='"Liberation Serif", serif' font-size="35.5" font-weight="bold" fill="#111">y=0.272x-0.02</text>
<text transform="translate(592.4 1435.3) scale(1.03 1)" x="0" y="0" font-family='"Liberation Serif", serif' font-size="35.5" font-weight="bold" fill="#111">R2=0.996</text>
<text transform="translate(590.8 1481.1) scale(1.016 1)" x="0" y="0" font-family='"Liberation Serif", serif' font-size="35.5" font-weight="bold" fill="#111">Standard error=0.009</text>
</svg>
</body></html>
